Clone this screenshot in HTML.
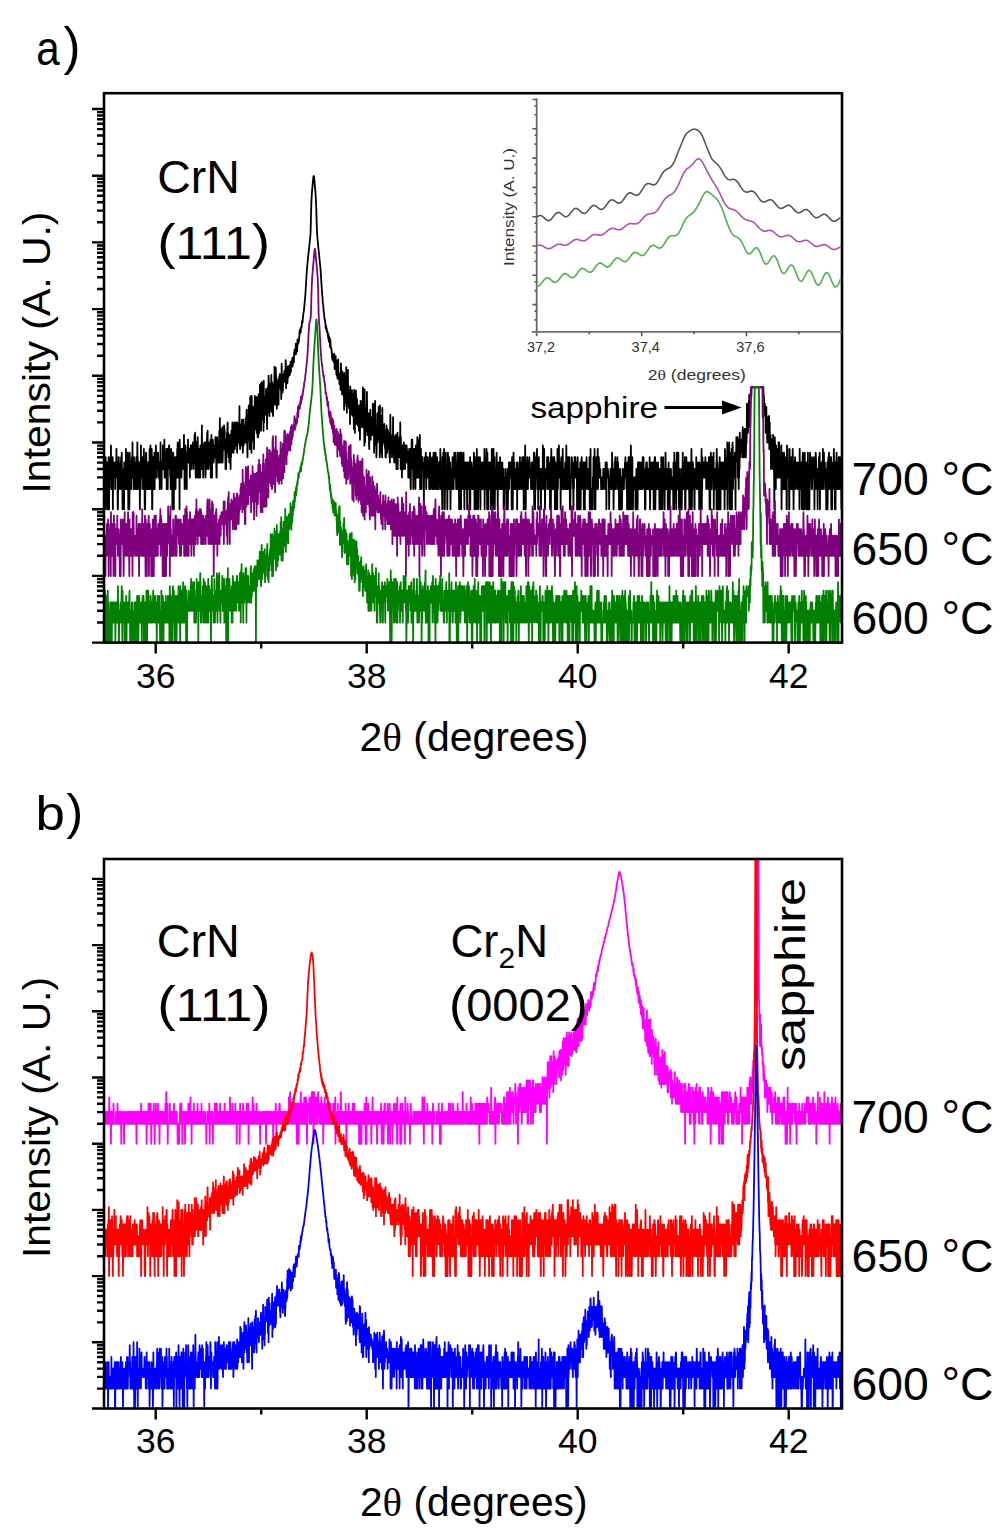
<!DOCTYPE html>
<html><head><meta charset="utf-8"><style>
html,body{margin:0;padding:0;background:#fff;}
body{width:1004px;height:1540px;overflow:hidden;}
svg{display:block;}
</style></head><body>
<svg width="1004" height="1540" viewBox="0 0 1004 1540">
<defs><clipPath id="ca"><rect x="104.0" y="93.2" width="738.0" height="549.4"/></clipPath>
<clipPath id="cb"><rect x="104.0" y="859.0" width="738.0" height="549.5"/></clipPath></defs>
<g clip-path="url(#ca)"><g transform="translate(102.950 0) scale(0.21100 0.25)" fill="none" stroke-linejoin="round">
<path vector-effect="non-scaling-stroke" stroke-width="1.80" stroke="#000000" d="M0 1829l1 208 1-187 1 60 1 46 1 0 1-106 1 106 1-80 1 34 1 46 2 81 1-208 1 81 1 0 1 0 1 46 1 0 1-106 1 106 1 81 1-187 1 106 1-106 1 26 1 161 1-208 1 81 1 127 1-127 1 0 1-34 1 0 1 0 1-47 1 81 1-34 1-94 1 174 1-80 1 80 1-80 1-26 1 26 1 0 1-47 1 208 1-127 1 0 1-60 1 60 1 0 1-34 1 34 1 0 1-60 1 26 1 80 1-106 1 60 1-34 1 34 1-34 1-80 1 80 1 0 1-26 1 60 1-60 1 187 1 0 1-161 1 0 1-47 1 0 1 81 1-34 1 0 1 0 1 80 1 0 1 0 1 0 1-106 1 26 1-47 1 81 1 0 1-99 1 65 1 34 1 46 1 81 1-81 1-46 1 0 1 0 1 0 1-34 1 161 1-187 1 60 1-34 1 34 1 0 1 46 1 0 1 0 1-160 1 80 1 80 1 0 1 0 1 0 1-106 1 60 1-99 1 0 1 18 1 208 1-127 1-60 1 0 1 26 1 161 1-81 1-145 1 99 1-60 1 0 1 60 1-60 2 106 1-80 1 0 1-47 1 47 1 34 1-140 1 140 1 0 1-81 1 81 1 0 1 46 1-127 1 127 1-46 1-60 1 26 1 0 1 0 1 0 1 80 1-106 1 106 1-127 1 21 1 106 1-106 1 60 1-140 1 106 1-47 1 127 1-46 1-60 1 60 1 0 1-60 1 26 1-26 1 60 1 127 1-81 1-106 1 106 1 0 1-174 1 128 1-60 1 26 1-47 1 21 1 60 1-81 1 21 1 60 1 46 1-106 1 60 1-60 1-54 1 80 1 80 1-46 1 127 1-187 1 187 1-127 1 46 1-106 1-39 1 0 1 65 1 80 1-46 1-60 1 26 1-26 1 106 1 0 1 0 1-80 1-26 1 26 1 0 1-26 1 106 1-160 1 54 1-54 1 114 1-128 1 128 1 46 1-46 1-81 1 81 1-114 1 54 1 187 1 0 1-187 1 26 1-47 1 0 1 127 1-127 1 47 1 0 1-26 1-39 1 145 1-80 1-26 1-21 1 81 1-81 1-47 1 68 1 60 1-81 1 0 1-18 1 65 1 0 1-26 1 26 1-65 1 18 1 81 1 0 1-34 1 0 1-26 1 0 1 106 1-80 1 34 1-34 1-106 1 140 1-60 1 26 1-26 1 106 1-106 1 0 1 26 1 0 1 0 1-94 1 29 1 65 1-65 1 0 1 0 1 0 1-52 1 151 1 0 1-34 1 34 1-99 1 99 1-99 1 65 1-65 1-15 1 160 1-160 1 33 1 21 1-54 1 160 1-145 1 65 1-65 1 39 1-21 1-47 1 0 1 47 1 47 1 0 1 0 1 34 1-34 1 80 1 0 1-160 1 33 1-18 1 99 1 46 1-127 1 208 1 0 1-187 1-39 1 0 1 39 1-21 1 208 1-208 1 47 1 34 1-60 1-21 1 0 1 0 1 127 1-46 1 0 1-60 1-21 1 81 1-60 1 0 1-54 1 114 1-140 1 12 1 14 1 114 1-60 1-68 1 68 1 26 1-106 1 267 1-278 1 117 1 0 1-47 1-33 1 114 1-81 1 81 1 0 1-60 1-54 1 15 1 0 1 39 1-54 1 15 1 39 1 26 1-26 1-54 1-56 1 89 1-18 1 145 1-174 1 47 1 81 1-128 1 14 1 33 1 81 1-99 1 145 1 0 1-145 1 39 1-39 1 18 1 21 1-91 1 91 1-21 1 21 1-21 1 21 1 0 1 0 1-54 1 114 1-99 1-15 1 0 1-14 1 29 1 65 1 0 1-94 1 14 1 54 1-54 1 15 1 0 1-41 1 59 1 21 1 26 1-47 1-33 1 54 1-39 1-71 1 71 1 0 1-80 1 98 1 47 1 34 1-60 1-80 1 26 1-26 1 59 1 81 1-60 1-68 1-33 1 47 1 33 1-33 1 80 1 34 1-60 1-54 1 54 1-21 1-33 1 54 1 60 1-128 1 29 1-29 1 29 1 65 1-94 1 0 1-80 1 174 1 0 1-47 1-47 1 47 1 81 1-81 1-33 1 54 1-68 1-12 1 80 1-68 1-12 1 41 1 65 1 34 1-34 1-47 1-33 1-26 1 106 1-117 1 23 1-51 1 65 1-73 1 88 1 18 1 47 1-80 1 15 1 18 1 0 1 0 1-59 1 80 1-80 1 80 1 26 1-117 1 151 1-99 1-29 1-42 1 71 1-29 1 128 1-151 1 37 1 0 1-37 1 23 1 47 1-47 1 68 1-39 1-15 1 15 1-15 1 15 1-29 1 47 1-80 1 21 1 0 1 41 1 39 1 60 1 0 1-140 1-21 1 33 1 68 1-68 1 68 1 0 1-21 1 0 1-47 1 0 1-33 1-26 1 127 1-177 1 86 1 11 1 12 1-66 1 134 1-39 1-15 1-26 1 26 1-47 1 47 1-87 1 141 1-39 1-29 1-42 1 30 1 0 1 26 1-94 1 14 1 0 1 15 1 39 1 26 1 15 1 65 1-94 1-23 1 117 1-94 1-12 1 12 1-51 1 80 1-109 1-12 1 106 1-65 1 9 1 89 1-33 1-47 1 10 1 91 1-91 1 23 1-42 1 42 1-33 1 127 1-136 1 89 1-80 1-26 1 88 1-80 1 51 1-80 1-12 1 69 1-19 1 42 1 29 1 0 1-80 1-35 1 44 1-9 1-41 1 106 1-47 1 0 1 33 1-42 1 19 1-69 1 26 1 0 1 33 1-33 1 95 1-121 1 6 1 53 1-9 1-17 1 26 1 21 1-54 1 7 1 0 1-98 1 157 1-42 1 56 1-65 1 39 1-61 1 31 1 42 1-86 1 13 1-13 1-17 1 91 1 0 1-11 1 52 1-41 1-91 1 91 1 12 1-80 1 47 1-40 1 7 1 0 1 24 1 30 1-21 1-76 1 0 1 97 1-68 1-38 1-25 1 77 1-52 1 118 1 47 1-98 1 18 1 0 1-18 1-67 1-42 1 137 1-36 1 17 1 9 1 47 1-56 1-152 1 76 1-17 1 69 1-132 1 175 1 52 1-227 1 80 1-29 1 49 1 65 1 10 1-63 1-32 1-36 1 142 1-61 1 87 1-164 1 47 1-32 1-63 1 31 1 101 1-112 1 39 1-52 1 52 1-45 1 133 1-22 1-121 1 121 1-13 1 53 1-94 1 29 1 65 1-94 1-78 1 125 1 29 1-99 1-31 1 68 1-129 1 92 1-31 1 3 1-69 1 188 1-50 1-22 1-16 1-107 1 151 1-61 1-46 1-16 1 40 1-32 1 61 1 98 1-200 1 132 1 35 1-47 1-4 1 0 1 20 1-73 1 57 1 0 1-39 1-48 1 95 1 8 1-58 1 50 1 65 1-125 1 21 1 39 1-103 1 61 1-23 1-83 1 18 1 94 1-51 1 100 1-57 1 5 1-76 1 89 1-16 1-76 1 39 1 71 1-143 1 147 1-72 1 23 1-7 1-60 1 65 1 29 1 39 1-49 1-34 1-30 1-13 1 80 1-41 1-110 1 72 1 52 1 5 1-39 1 61 1-147 1 34 1-1 1 40 1 47 1 44 1-20 1-72 1 50 1-65 1 40 1-21 1-29 1 100 1-81 1 3 1-32 1 12 1 8 1-31 1 2 1 33 1-6 1 31 1-35 1 17 1 57 1-54 1-87 1 84 1-12 1 12 1 31 1-33 1 25 1-49 1-15 1 6 1-8 1 10 1 6 1-28 1 31 1 13 1-18 1-1 1-19 1-49 1 18 1 94 1-79 1 21 1 6 1 25 1-15 1 22 1-8 1-59 1 14 1 29 1-39 1 6 1-2 1-4 1-7 1-1 1 39 1-42 1 26 1 8 1-45 1 7 1 31 1-39 1 21 1-25 1-1 1-2 1 9 1-18 1 35 1-21 1 3 1 4 1-9 1-9 1 15 1-40 1 1 1-10 1 10 1-7 1-7 1 20 1 2 1-43 1 42 1-30 1 17 1-22 1-2 1 26 1-21 1-26 1 0 1 18 1-6 1-14 1 14 1-6 1-1 1-17 1 0 1-23 1 3 1-9 1 14 1-4 1 2 1-20 1 1 1-2 1 1 1-5 1-15 1-5 1-3 1 9 1-16 1-3 1-9 1-11 1-1 1-7 1-6 1-11 1-7 1-10 1-11 1-9 1-7 1-13 1-15 1-13 1-16 1-10 1-17 1-9 1-13 1-10 1-10 1-8 1-9 1-8 1-9 1-7 1-6 1-10 1-7 1-9 1-8 1-8 1-7 1-8 1-10 1-15 1-27 1-37 1-34 1-24 1-16 1-14 1-11 1-11 1-9 1-9 1-10 1-9 1-7 1-5 1-1 1 2 1 6 1 8 1 10 1 9 1 10 1 10 1 11 1 12 1 14 1 16 1 23 1 28 1 29 1 25 1 18 1 12 1 10 1 8 1 9 1 9 1 9 1 8 1 8 1 7 1 8 1 9 1 9 1 9 1 8 1 9 1 9 1 10 1 13 1 15 1 13 1 13 1 13 1 8 1 18 1 9 1 5 1 21 1 1 1 7 1 8 1 18 1-1 1 10 1 10 1 7 1 5 1 0 1 11 1 2 1 7 1 14 1-8 1 0 1 14 1-6 1 14 1-5 1 9 1-5 1 11 1-4 1 15 1 7 1-17 1 21 1 9 1-20 1 17 1-4 1-8 1 34 1-6 1-20 1 20 1 12 1-1 1 1 1 2 1 16 1-6 1 29 1-5 1 11 1-22 1 3 1 22 1-14 1-4 1 23 1 0 1-33 1 14 1 47 1-23 1 10 1-35 1 44 1-47 1 53 1-35 1 54 1-50 1 54 1-58 1 50 1 19 1-4 1 8 1-5 1-73 1 57 1 13 1-3 1 3 1-7 1 35 1-1 1-41 1 20 1 1 1 42 1 3 1-106 1 49 1 11 1 7 1-26 1 82 1-25 1-66 1 38 1 1 1 14 1 36 1-74 1 87 1-45 1 96 1-147 1 133 1-73 1 23 1-60 1 66 1-34 1 51 1 14 1-143 1 62 1 21 1 99 1-55 1-10 1 12 1-110 1-8 1 101 1 31 1-48 1 29 1 39 1-72 1 4 1 29 1-29 1 132 1-150 1 79 1 22 1 12 1-61 1 41 1-69 1 34 1-43 1 71 1 7 1-64 1 89 1-36 1-42 1 29 1-17 1 118 1-156 1 113 1-58 1-29 1 145 1-92 1-53 1 98 1 6 1-128 1 77 1 20 1-66 1 103 1-98 1 27 1 59 1-37 1 55 1-55 1 12 1 14 1-51 1 101 1-59 1 20 1-41 1 41 1 75 1-86 1-30 1-39 1 105 1-40 1-57 1 78 1-83 1 21 1-19 1 70 1-51 1 81 1-159 1 65 1-40 1 115 1-68 1 6 1 56 1 98 1-224 1 77 1 135 1-30 1-93 1 62 1 14 1 0 1-88 1-3 1 15 1-79 1 57 1 115 1-89 1 89 1-31 1-25 1-15 1-14 1 35 1 80 1 26 1-80 1 0 1-37 1 0 1-40 1 84 1 36 1-80 1 5 1 18 1 14 1 15 1-62 1 0 1 15 1 56 1-125 1 116 1-29 1-29 1-26 1-29 1 193 1-95 1 66 1-127 1 29 1-80 1 136 1-24 1-61 1 94 1 10 1 70 1-33 1-87 1 40 1-26 1 47 1-21 1-98 1 98 1 0 1-9 1-112 1 131 1-19 1-108 1 58 1 139 1-207 1 174 1-117 1 103 1 14 1 15 1-29 1-118 1 85 1-80 1 160 1-197 1 150 1-42 1 9 1 0 1-26 1 26 1 21 1-68 1-6 1 44 1-9 1 39 1 26 1-73 1 106 1-106 1 106 1-89 1 56 1-94 1 80 1 0 1 29 1-95 1 80 1-37 1-36 1 47 1-21 1 33 1-51 1 39 1 26 1 33 1-47 1 68 1-101 1-90 1 72 1 51 1-42 1 9 1 62 1-62 1 47 1 33 1-18 1-52 1 11 1 12 1-113 1 113 1-23 1-19 1 42 1 68 1-68 1 29 1-62 1 21 1 59 1-18 1 0 1 39 1-110 1 110 1 26 1-80 1-14 1 47 1-89 1-9 1 145 1-94 1 47 1-33 1 0 1-26 1 0 1 12 1-33 1 47 1 33 1 0 1-139 1 92 1 94 1-127 1 80 1 0 1-33 1 54 1 60 1-81 1-18 1 18 1-47 1 14 1 54 1 26 1-26 1-80 1 12 1 47 1-33 1 15 1-15 1 80 1-94 1 14 1 54 1-54 1-14 1 14 1-14 1 14 1 0 1 54 1-39 1 39 1 0 1-39 1 99 1-60 1 60 1-34 1-80 1 54 1 60 1-60 1-54 1 54 1 0 1 106 1 0 1-106 1 0 1 26 1-117 1 70 1 21 1-91 1 70 1-18 1 0 1 65 1 80 1-46 1 0 1-114 1 114 1-114 1 80 1 34 1-81 1 47 1 80 1-80 1-94 1 94 1-26 1 60 1-60 1 60 1-114 1-47 1 62 1 0 1 99 1 0 1-81 1 21 1-91 1 37 1 54 1 60 1-114 1-56 1 216 1-145 1 65 1-47 1-33 1 160 1-106 1 106 1-80 1 0 1-47 1 47 1-47 1 47 1 0 1-26 1 26 1 0 1 161 1-161 1 0 1 0 1 0 1-47 1 47 1 34 1-34 1-65 1 39 1 106 1-80 1 34 1 0 1-81 1 81 1 0 1-34 1-47 1 47 1-26 1 60 1 0 1-60 1 106 1-46 1-34 2-65 1 39 1 106 1-127 1 21 1 26 1 0 1 34 1 0 1-34 1 34 1 46 1-127 1 21 1 0 1 106 1-127 1-18 1 145 1 0 1-127 1 127 1-127 1 47 1-65 1 99 1-60 1-39 1 99 1 46 1-80 1 34 1 46 1 0 1-127 1 47 1 0 1-26 1 106 1 0 1-46 1-60 1 106 1-106 1 0 1 60 1-60 1 60 1-34 1-80 1 54 1 106 1 0 1-46 1 0 1 46 1-80 1 80 1 81 1-208 1 127 1-46 1-34 1-65 1 39 1 60 1 0 1-114 1 241 1-187 1 187 1-127 1 0 1 0 1-60 1-39 1 65 1 34 1 46 1-80 1 80 1-46 1 127 1-127 1 46 1-145 1 99 1-34 1 34 1 46 1-127 1 81 1 46 1-80 1-26 1 0 1 0 1 187 1-81 1-46 1 0 1-34 2 80 1-80 1 0 1 0 1-47 1 21 1 0 1 106 1-106 1 106 1-80 1 34 1-99 1 39 1 26 1 0 1 34 1 0 1-99 1 18 1 81 1 46 1-80 1-26 1 0 1 26 1 80 1-80 1 34 1-99 1 99 1-34 1 80 1-80 1 80 1 81 1-161 1 80 1-145 1 65 1 34 1-99 1 226 1-127 1 127 1-208 1-18 1 99 1 0 1-60 1 26 1-47 1 127 1-80 1 0 1-65 1 0 1 65 1 34 1 46 1 81 1-161 1 34 1 46 1-106 1 0 1 26 1 0 1 80 1-106 1 60 1 46 1-80 1 161 1-187 1 106 1-80 1 80 1 0 1-46 1-60 1 106 1-46 1-34 1 34 1 127 1-127 1-81 1 208 1-187 1 60 1-34 1 34 1-60 1 0 2 26 1 80 1-46 1-34 1 80 1-80 1 0 1 34 1 0 1-99 1 65 1 34 1 127 1-187 1-21 1 81 1 0 1-34 1-26 1 106 1 81 1-81 1-46 1-114 1 114 1 46 1-106 1 106 1-106 1 187 1-81 1-80 1-47 1 21 2 60 1 0 1 46 1-127 1 81 1 127 1-127 1-60 1 106 1-106 2 106 1 0 1-46 1 0 1 0 1-34 1-26 1 106 2-46 1 0 1-60 1 60 1-114 1 241 1-127 1 46 1 0 1-80 1-47 1 47 1-47 1 47 1-80 1 54 1 106 1 81 1-226 1 145 1-80 1-26 1 187 1 0 1-187 1 106 1-46 1 46 1 0 1-80 1 34 1-34 1-26 1 26 1 0 1 161 1-81 1-46 1 0 1-114 1 33 1-18 1 65 1 80 1 81 1 0 1-81 1-160 1 114 1 46 1-80 1-47 1 0 1 208 1-81 1 0 1-80 1 80 1-80 1 34 1 46 1-46 1-99 1 145 1-46 1-34 1-26 1 187 1-127 1 0 1-60 1 106 1-46 1-34 1 34 1 0 1 0 1 46 1-127 1 81 1-60 1 0 1 106 1-46 1-34 1 80 1 0 1-80 1 0 1-26 1 60 1 0 2 0 1-34 1 161 1-127 1 127 1-127 1 0 1 0 1 0 1 46 1 0 1-80 1 80 1 0 1 0 1 81 1-81 1 0 1 81 1-127 1 0 1-34 1 161 1-81 1-80 1 80 1 0 1-106 1 106 1-46 1-34 1 34 1-60 1 60 1 0 1 0 1-60 1 26 1 34 1-34 1 161 1-127 1-81 1 47 1 0 1 161 1-81 1-127 1 81 1-99 1 65 1 34 1 46 1-106 1 60 1 46 1-80 1 80 1-80 1 34 1 46 1-46 1 46 1-46 1 0 1-60 1 187 1-127 1 46 1-106 1 60 1 46 1 0 1 0 1-80 1 80 1-46 1 46 1-46 1-81 1 47 1-26 1 26 2 0 1 80 2-46 1-60 1 60 1-81 1 81 1 46 1-80 1 0 1 0 1-47 1 208 1 0 1 0 1-161 1-26 1 60 1 46 1-174 1 94 1 161 1 0 1-161 1 0 1 34 1-60 1 106 1 0 1-127 1 81 1-34 1 80 1-46 1-60 1 26 1 34 1 0 1-60 1-21 1 81 1-60 1 26 1 34 1 0 1 0 1 0 1 46 1-46 1 46 1-46 1-60 1 106 1-106 1 60 1-34 1 80 1-46 1 46 1-46 1-99 1 99 1 127 1-226 2 39 1 187 1-81 1-80 1 34 1 0 1-81 1 81 1-34 1 0 1-80 1 54 1 106 1-46 1-60 1 26 1 161 1-81 1-46 1-81 1 81 1 46 1-46 1 46 1 0 1 0 1 0 2-80 1 161 1-127 1 0 1-34 1 80 2 0 1-80 1 34 1-128 1 94 1-47 1 47 1 34 1 46 1-160 1 160 1-46 1 0 1 127 1-81 1-80 1 80 1 0 1-46 1-34 1 34 1-34 1 34 1-81 1 47 1 34 1-81 1 127 1-127 1 127 1-80 1-26 1 60 1-34 1 0 1 80 1-46 1 127 1-161 1 80 1-127 1 208 1-187 1-54 1 160 1 0 1 0 1-80 1 34 1 0 1-34 1-47 1 127 1-46 1-60 1 26 1 34 1-81 1 21 1 26 1 161 1-127 1 127 1-187 1 106 2-80 1 34 1-34 1 34 1 127 1 0 1-241 1 160 1 0 1-46 1 0 1 0 1 0 1-128 1 94 1 0 1 34 1-34 1-26 1 0 1 0 1 187 1-127 1 0 1-81 1 47 1 80 1-80 1 34 1 46 1 0 1-160 1 80 1 80 1-46 1-34 1 0 1 34 1 0 1 46 1-46 1-34 1 0 1-26 1 106 1 0 1 0 1 0 1-174 1 128 1 46 1-46 1-34 1-47 1 47 1 80 1 0 1 0 1-127 1 21 1 60 1-60 2-21 1 47 1 161 1-81 1 81 1-81 1 0 1-46 1 0 1 0 1 0 1-81 1 21 1 0 1 0 1 60 1 0 1 46 1 0 1 81 1-161 1 80 1-106 1 60 1-81 1 81 1 0 1-81 1 0 1 81 1-60 1 26 1 34 1-60 1 0 1 26 1 161 1-127 1 46 1-127 1 208 1 0 1-81 1 0 1-46 1-34 1 161 1-81 1 0 1 0 1 81 1-187 1 60 1 127 1-161 1 34 1-60 2-21 1 127 1-46 1 46 1-80 1 0 1 0 1 34 1-60 1 26 1 161 1-187 1 106 1-46 1-34 1 161 1-187 2 106 1-46 1 46 1-46 1 0 1-81 1 47 1 34 1 0 2-34 1 80 1-80 1 80 1-80 1 80 1 0 1-46 1 46 1-127 1 208 1-161 1 80 1-46 1-114 1 241 1-81 1 81 1-81 1 0 1 81 1-81 1 0 1 0 1 81 1-127 1 46 1-46 1-81 1 81 1-34 1 34 1 46 1-160 1 241 1-161 1 80 1 81 1-187 1 106 1 0 2-127 1 127 2-80 1 80 1-106 1-54 1 160 1-46 1-60 1 60 1-81 1 47 1 0 1-26 1 60 1 0 1 0 1-34 1 34 1 0 1 0 1 46 1 0 1 0 1-46 1 0 2 46 1 0 1 0 1 0 1-80 1 34 1-34 1 0 1 34 1 0 1-34 1 34 1 46 1-46 1 0 1-60 1 0 1 106 1-80 1 161 1-161 1-26 1 26 1 0 1 0 1 34 1-34 2 34 2 0 1 46 1 81 1-81 1-46 1 46 1 0 2-80 2 0 1 80 1-80 1 80 1 0 1-46 1-99 1 99 1-60 1 26 1 0 1 34 1 0 1 127 1-81 1-46 1 0 1 46 1-80 1 80 1-106 1-21 1 127 1 0 1 0 1-106 1 60 1 0 1-60 1 0 1 26 1-47 1 47 1 80 1-106 1 26 1 34 1 46 1-46 1 127 2-127 2 0 1-34 1 161 1-127 1 0 1 46 1 0 1-46 1 127 1 0 1 0 1-81 1-46 1-34 1 0 1 80 1 0 1 0 1-46 1 46 1-46 1 0 2-34 1-26 1 60 1-81 1 81 1 0 1 0 1-34 1 80 1-80 1 34 1 127 1-187 1 60 1 127 1 0 1-187 1 106 1-127 1 208 1-81 1-46 1-81 1 127 1-46 1-34 1 161 1-127 1 0 1-128 1 68 1 0 1 60 1-60 1 187 1-187 1-21 1 208 1-127 1 127 1-127 1 0 1 46 2 0 1 0 1-46 1 46 2 0 1-46 1 127 1-81 1 0 1 81 1-161 1 34 1 0 1 46 1 0 1-46 1 127 1-161 1-26 1 26 1 0 1-26 1 106 1-80 1 34 1-60 1 106 1-80 1 34 1 46 1-46 1-34 1 80 1-106 1 26 1 0 1 80 1-106 1 26 1 80 1-127 1 47 1 34 1-34 1-47 1 81 1-34 1 34 1 46 1 0 1-46 1 127 1-127 1 127 1-161 1 0 1 0 1-26 1 60 1 46 1-106 1 60 1 46 1 0 2 0 1-80 1 0 1 0 1 34 1 0 1 46 1-80 1-47 1 127 1 81 1-81 1-106 1 60 1-34 1 0 1 34 1 0 1 46 1-106 1 106 1 0 1-80 1 80 1 0 2-106 1 187 1-161 1 0 1 34 1-60 1-21 1 81 1-81 1 208 1-81 1-80 1 34 1-60 1 106 1-46 1 0 2-34 1 80 1-46 1-34 1-26 1 106 1 0 1 0 1 0 1-80 1 161 1-161 1 0 1 34 1 0 1 46 1 0 1-80 1 161 1-208 2 21 1 106 1-80 1 0 1 161 1-81 1 0 1-127 1 47 1 0 1 80 1 0 1 0 1-80 1 161 1-127 1 46 1 0 1-145 1 39 1 60 1 46 1-80 1 0 1 0 1 80 1-80 1 34 1-34 1 161 2-81 1-80 1-26 1 60 1 0 1 46 1 81 1 0 1-81 1-46 1 0 1-34 1 34 1-34 1 80 1-46 1 0 1 46 1-46 1 0 1 46 1-46 1 46 1-46 1 127 1-187 1 26 1-26 1 187 1-226 1 145 1 0 1-106 1 60 1-34 1 34 1 46 2 81 1-187 1 0 1-39 1 99 1-99 1 145 1-46 1-34 1 80 1-145 1 99 1-34 1 161 1-161 1 0 1 161 1-127 1 0 1 127 1-81 1-46 1 0 1 127 1-161 1 34 1 127 2-127 1 46 1-80 1-65 1 145 1-106 1 60 2 46 1-46 1 0 1-34 1 80 1-127 1 208 1 0 1 0 1-161 1 0 1 80 1-127 1 47 1 80 1-46 1-34 1 0 1 34 1-34 1-26 1 60 1 46 1 0 1-46 1 46 1 81 1-127 1-60 1 106 1-80 1 80 1-46 1 127 1-187 1 60 1-114 1 54 1 187 1-81 1-46 1 0 1 0 1-60 1 26 1 34 1 46 1 0 1 0 1-46 1 127 1 0 1-161 1 80 2-46 1 0 1 0 1 0 1-81 2 81 1 46 1-80 1 80 1 0 1-46 1-34 1-26 2 106 1-80 1 80 1 81 1-187 1 26 1 80 1-80 1 161 1-127 1-34 1 34 1 0 1-34 1-80 1 241 1-81 1 0 1-127 1 81 1-34 1 34 1-60 1 60 1-34 1-26 1 60 1 0 1 0 1 0 1 0 1 0 1-81 1 81 1-34 1-26 1 106 1-46 1-34 1 0 1-26 1 26 1 34 1-34 1-26 1 106 1 0 1-46 1-34 1-47 1 127 1-46 1 127 1-208 2 208 1-161 1 0 1-65 1 65 1 0 1-26 1 106 1-46 1-81 1 47 1 0 1 34 1-81 1 47 1-26 1-39 1 226 1-127 1 0 1 0 1 0 1 46 1-80 1 80 1-46 1 46 1-80 1 80 1-106 1 187 1-241 1 80 1-26 1 106 1 81 2-161 1 34 1 0 1 127 1 0 1 0 1-187 1 187 1-208 1 208 1-81 1 0 1 81 1-161 1 80 1-106 1 26 1 80 1 0 1-106 1 26 1 80 1-46 1-34 1 0 1 80 1-46 1-60 1 0 1 26 1-26 1 187 1-81 1-160 1 54 1-21 1 81 1 0 1 46 1-80 1 80 1-80 1-47 1 81 1-140 1 267 1-187 1-21 1 21 1 60 1 0 1-34 1 34 1-140 1 80 1 187 1-226 1 39 1 60 1-34 1 161 1-187 1 26 1 161 1-161 1-80 1 241 1-161 1-80 1-26 1 26 1 160 1-80 1-26 1 0 1 60 1-34 1-47 1 47 1 34 1-99 1 18 1 81 1 127 1-226 1 39 1-39 1-62 1 47 1-26 1-11 1 70 1-18 1-62 1 161 1-151 1 37 1 33 1 127 1-106 1 60 1-114 1 80 1-145 1 39 1 26 1 15 1 18 1 0 1-70 1 52 1-41 1 12 1 0 1 0 1 14 1-47 1-40 1 120 1-59 1 0 1 12 1 47 1-33 1 33 1-106 1-7 1 33 1 62 1-95 1 43 1 11 1 59 1-47 1-23 1 11 1-39 1-116 1 64 1 5 1 6 1-55 1 96 1-62 1-34 1 12 1-43 1 80 1-105 1 49 1 45 1 36 1-105 1 98 1-67 1-23 1-62 1-1 1 35 1-29 1-6 1 0 1 0 1 0 1 0 1 0 1 0 1 0 1 0 1 0 1 0 1 0 1 0 1 0 1 0 1 0 1 0 1 0 1 0 1 0 1 0 1 0 1 0 1 0 1 0 1 0 1 0 1 0 1 0 1 0 1 0 1 0 1 0 1 0 1 0 1 0 1 0 1 0 1 0 1 0 1 0 1 0 1 0 1 0 1 0 1 0 1 0 1 0 1 0 1 0 1 0 1 0 1 120 1-120 1 10 1-10 1 47 1-17 1 17 1 43 1-24 1 20 1-20 1 49 1-36 1 19 1 84 1-22 1 14 1-95 1 62 1-11 1 5 1 86 1-86 1 86 1-68 1-33 1 40 1 14 1-21 1 47 1-85 1 132 1-87 1-19 1 106 1-26 1 0 1-30 1 30 1 106 1-65 1-29 1 0 1-23 1 37 1-14 1 0 1-12 1 106 1-136 1 89 1-18 1 0 1 39 1 60 1 127 1-208 1-80 1 21 1 26 1-14 1 14 1 160 1-174 1 94 1 34 1-60 1 26 1-65 1-15 1 15 1 99 1-60 1-39 1 39 1-80 1 140 1-81 1-59 1 80 1 0 1-21 1 81 1-34 1 0 1-26 1-21 1 47 1-94 1 255 1-127 1-99 1 39 1 60 1-34 1 0 1 80 1-145 1 18 1 47 1 0 1-65 1 145 1-80 1-26 1-21 1 127 1 0 1-46 1 0 1-34 1 80 1-127 1 208 1 0 1-255 1 128 1-114 1 114 1 0 1-60 1 26 1-26 1 0 1 0 1 187 1 0 1-241 1 80 1 0 1 0 1 80 1-46 1-81 1 21 1 26 1-26 1 106 1-46 1-81 1 127 1-106 1-54 1 54 1 106 1-106 1 187 1-81 1 0 1-80 1 0 1 34 1-60 1-21 1 81 1-60 1 106 1-106 1 60 1-34 1 34 1-34 2 0 1-26 1 106 1-80 1 80 1-46 1-34 1 80 1-80 1-26 1 26 1 161 1-241 1 160 1 0 1-46 1 0 1 46 1-106 1 106 1-46 1 0 1 127 1-127 1-60 1 0 2-39 1 145 1 81 1-81 1 81 1-81 1-46 1 127 1-187 1-39 1 99 1 0 1 46 1-80 2 80 1 81 1-161 1-26 1 26 1 80 1-46 1 127 1 0 1-226 1 99 1 0 1 0 1 46 1 81 1-161 1 161 1-81 1-80 1-65 2 99 1-34 1 0 1-26 1 26 1 34 1 46 1-127 1 127 1-46 1-60 2 60 1-60 1 26 1 0 1-47 1 21 1 26 1 161 1-127 1-34 1 34 1 46 1 0 1-145 2 39 1 60 1 0 1-34 1 80 1-80 1 0 1 161 1-127 1 0 1 46 1 0 1 0 1-127 1 21 1 26 1-47 1-18 1 226 1-127 1 0 1-34 1 34 1 46 1-106 1 26 1 0 1 0 1 80 1-46 1-34 1 34 1-114 1 160 2-80 1 0 1-65 1 99 1-34 1-26 1 0 1 26 1 80 1-80 1 34 1-34 1 34 1 127 1-127 1 46 1 0 1 0 1-106 1 187 1-81 1-46 1-34 1-47 1 127 1-106 1-39 1 145 1-46 1-34 1 34 1-34 1-47 1 47 1 34 1 46 1-127 1 208 1-81 1-106 1 0 1 187 1-161 1 34 1 0 1 46 1-46 1 0 2-114 1 80 1 34 1 0 1-60 1 187 1-187 1 60 1 127 1-187 1 106 1 0 1-106 1-39 1 145 1-46 1 0 1 0 1 46 1-106 1 60 1-60 1 106 1-127 1 127 1 0 1-106 1-21 1 81 1-34 1-47 1 21 1 106 1-46 1 0 1 0 1 127"/>
<path vector-effect="non-scaling-stroke" stroke-width="1.80" stroke="#800080" d="M0 2223l1-127 1-18 1 65 1-26 1-39 1 39 1 59 1-33 1 33 1-33 1 33 1 128 1-161 1 33 1-33 1 33 1 47 1-47 1-80 1 80 1-33 1 0 1 33 1-98 1 145 1-106 1 187 1-208 1 47 1 33 1-33 1-26 1 59 1 47 1 0 1-106 1 187 1-255 1 94 1-47 1 127 1 0 1-47 1 47 2-127 1 80 2 0 1 128 1-128 1-113 1 160 1-47 1 0 1-80 1 47 1-26 1 187 1-187 1 26 1 33 1-59 1 59 1-59 1 26 1 0 1-80 1 113 1-59 1 106 1 0 1 0 1-47 1-59 1 26 1 0 1 80 1 0 1 81 1-81 1-80 1 33 1 128 1-226 1 98 1-59 1 59 1-33 1-26 1 26 1 0 1 33 1-98 1 65 1 33 1 47 1 81 1-81 1 0 1-47 1-59 1-68 1 127 1-80 2 127 1 0 1-47 1-33 1-47 1 80 1-80 1 80 1 47 1-106 1 26 1 0 1-94 1 174 1-47 1 0 2 47 1 81 1-226 1 98 1 0 1 0 1 47 1-106 1 59 1 47 1-106 1 106 1 0 1-80 1 0 1 0 1 161 1-255 1 29 1 145 1 0 1-174 1 94 1 0 1 33 1 0 1-33 1 33 1 0 1 47 1 0 2-80 1 33 1 0 1-113 1 113 1 47 1-80 1 33 1-33 1 80 1-80 1-26 1 106 1-127 1 0 1 208 1-128 1 0 1 47 1-106 1 26 1-26 1-21 1 80 1-33 1-47 1 127 1-47 1 47 1 0 1-186 1 186 2-127 1 0 1 127 1-127 2 127 1 0 1-47 1-33 1 33 1-113 2 160 1 81 1-226 1 39 1 59 1-59 1-21 1 208 1-128 1 0 1 0 1 47 1 0 1 0 1-127 2-33 1 241 1-161 1-47 1 47 1-47 1 47 1 0 1 0 1 80 1-80 1 33 1 128 1-161 1-26 1 0 1 59 1-33 1 161 1-187 1-39 1 18 1 47 1 80 1 81 1-128 1 0 1-113 1 33 1 127 1-145 2 39 1 59 1-113 1 160 1 0 1-47 1-33 1 0 2-26 1 26 1 80 1-106 1-21 1 21 1-21 1 80 1-80 1 0 1 21 1-21 1-18 1 65 1-106 1 186 1-80 1-80 1 54 1-39 1 39 1 59 1 0 1-80 1 80 1 128 1 0 1-81 1 81 1-128 1-80 1 21 1 187 1 0 1-161 1-47 1 0 1 80 1 47 1 81 1-208 1 208 1-161 1 80 1-106 1-21 1 127 1-80 1 33 1-59 1 26 1-117 1 70 1 47 1-26 1 26 1-47 1 80 1-113 1 241 1-161 1-47 1-70 1 197 1-106 1 106 1-80 1 33 1 47 1-47 1-33 1 80 1-47 1 0 1 47 1-145 1 145 1-47 1 47 1-80 1 33 1 0 1 0 1-33 1-26 1-39 1-15 1 160 1-160 1 80 1 80 1 0 1-106 1 26 1-65 1 39 1-21 1 21 1 0 1 26 1 0 1-65 1 98 1-80 1 21 1 26 1-26 1 106 1-80 1-47 1-18 1 18 1 127 1-47 1-33 1-47 1 21 1 26 1 0 1 33 2-33 1 33 1-33 1-47 1-33 1 80 1 80 1-106 1 26 1-26 1 59 1-139 1 186 1 0 1-106 1-54 1 54 1-91 1 23 1 0 1 68 1 106 1 0 1-47 1-98 1 98 1-33 1 80 1-127 1 47 1-26 1-21 1 80 1-98 1-29 1 94 1-47 1 80 1-80 1 21 1 106 1-145 1 39 1 0 1 26 1-26 1 59 1-98 1 0 1 98 1-98 1 98 1 47 1-80 1-47 1 80 1-113 1 0 1 113 1-59 1 59 1-80 1-59 1 106 1-145 1 145 1-106 1 41 1 18 1 0 1 80 1-98 1 18 1-18 1-29 1 94 1-47 1-18 1 39 1-80 1 59 1 47 1 0 1-65 1 0 1-41 1 139 1-127 1 68 1 26 1-47 1 21 1-54 1 113 1 0 1-59 1 26 1-80 1 54 1 59 1-59 1 26 1-65 1 65 1-26 1-39 1 39 1-39 1 98 1-113 1 33 1-18 1 39 1 26 1 0 1-117 1-20 1-8 1 119 1-54 1 33 1 80 1-80 1-80 1 127 1-26 1-119 1 98 1-59 1 139 1-80 1 0 1 80 1-80 1-18 1 18 1 21 1-101 1-10 1 170 1-33 1-47 1-80 1 127 1-47 1-33 1 241 1-161 1 0 1-80 1 113 1-80 1 21 1-21 1 47 1-94 1 47 1 80 1-139 1 26 1 33 1 0 1 0 1 127 1-80 1-47 1 0 1 80 1-59 1 0 1-21 1-18 1 39 1 26 1 33 1-98 1 0 1-15 1 54 1 26 1-80 1 0 1 15 1-29 1 0 1 0 1 29 1 18 1 0 1-33 1 15 1-15 1 54 1-111 1 170 1-98 1-15 1-14 1-43 1 90 1-18 1-15 1 0 1-14 1 29 1-29 1 14 1 80 1-47 1-18 1-41 1 139 1-80 1-80 1-26 1 47 1 26 1-94 1 80 1 29 1-52 1 37 1 113 1-150 1-10 1 10 1 37 1-47 1 21 1 41 1-80 1 28 1-10 1 33 1-43 1 43 1-43 1 111 1-54 1 0 1 33 1-121 1 88 1-65 1 98 1-106 1 127 1-68 1-12 1 0 1-39 1 65 1 54 1-54 1-47 1-41 1 31 1 31 1-62 1 103 1-72 1 90 1-59 1 59 1 0 1-18 1-88 1 59 1-33 1-34 1 8 1 47 1 0 1-81 1-5 1 11 1-27 1 34 1 47 1-10 1-8 1 8 1 43 1-170 1 77 1 0 1 81 1-106 1 20 1-11 1 66 1 10 1-26 1-8 1 114 1-151 1 151 1-183 1-45 1 158 1-64 1 64 1-116 1-25 1 131 1-81 1-62 1 44 1 65 1-117 1 151 1-18 1-29 1 13 1-7 1 0 1-53 1 18 1 22 1 13 1-35 1-38 1 80 1 67 1-33 1-47 1-47 1 13 1-13 1 84 1-141 1 117 1-26 1-43 1 9 1 0 1-27 1 183 1-143 1-40 1 45 1 58 1-23 1-6 1 37 1-108 1-3 1 67 1 28 1 73 1-171 1 98 1-98 1 21 1 22 1 81 1-41 1-115 1 109 1-13 1 6 1-123 1 106 1-19 1-58 1 30 1-38 1 146 1 20 1 23 1-12 1-115 1 4 1 0 1 9 1-47 1 138 1 23 1-194 1 114 1-59 1-92 1 80 1-45 1 92 1 81 1-134 1-10 1 108 1-15 1-35 1 86 1-161 1-28 1 23 1 22 1 144 1-161 1 8 1-82 1 48 1 29 1 77 1-74 1 27 1 92 1-127 1 43 1-27 1-80 1 47 1 85 1-111 1 86 1-101 1 77 1 44 1-4 1 23 1-53 1-7 1-71 1 142 1-5 1-107 1-89 1 54 1-64 1 88 1 102 1-143 1 37 1 93 1 4 1 9 1-128 1 124 1 38 1-114 1 0 1-110 1 147 1-59 1 65 1 8 1-67 1-36 1 50 1 73 1-13 1-74 1-6 1 55 1-3 1 3 1-9 1 56 1-113 1 33 1 67 1-40 1-45 1-6 1-62 1 129 1-38 1-57 1 82 1 50 1-139 1 99 1-74 1 25 1-71 1 93 1 45 1-82 1 57 1-68 1 37 1-132 1 163 1-96 1-69 1 58 1 24 1 28 1-96 1 89 1-48 1 57 1 22 1-81 1 29 1-45 1 58 1-65 1-17 1 53 1-12 1-11 1 35 1-59 1 59 1-38 1 10 1-9 1 6 1-43 1 75 1-62 1-23 1-9 1 50 1 20 1-32 1-45 1 25 1 29 1-39 1 21 1 8 1-40 1 11 1 2 1-20 1 24 1-12 1-38 1-7 1 39 1 14 1-29 1 22 1-17 1-17 1 24 1-14 1 5 1-14 1 0 1 13 1-40 1 8 1 8 1-40 1 22 1 19 1-28 1-13 1 6 1-14 1 8 1-5 1 13 1-17 1-13 1 4 1 8 1-30 1 27 1-12 1-9 1 7 1-7 1-9 1-4 1-6 1 8 1-17 1 2 1-12 1-4 1 1 1-12 1-12 1-2 1 1 1-7 1-3 1-16 1-3 1-5 1-10 1-13 1-1 1-11 1-7 1-7 1-11 1-8 1-18 1-10 1-18 1-17 1-15 1-18 1-13 1-12 1-7 1-6 1-4 1-3 1-3 1-4 1-5 1-7 1-16 1-32 1-35 1-28 1-17 1-15 1-14 1-12 1-11 1-10 1-10 1-9 1-9 1-9 1-10 1-10 1-10 1-8 1-4 1 0 1 4 1 8 1 10 1 10 1 10 1 9 1 8 1 9 1 8 1 10 1 11 1 11 1 14 1 17 1 21 1 46 1 47 1 23 1 11 1 12 1 10 1 15 1 18 1 15 1 15 1 19 1 12 1 18 1 5 1 15 1 8 1 7 1 8 1 5 1 5 1 11 1 11 1-4 1 13 1 3 1 7 1-9 1 13 1 10 1 5 1-1 1 10 1 6 1 10 1 19 1-5 1 8 1-4 1 8 1 15 1 3 1-10 1 19 1 14 1-1 1-11 1-3 1 22 1 1 1 17 1 10 1 4 1 6 1 5 1-9 1-1 1 29 1-44 1 10 1 0 1 41 1-14 1-10 1 19 1 21 1-34 1 26 1-32 1 43 1 14 1 2 1-50 1 86 1-42 1-11 1 37 1-49 1 37 1 38 1-7 1-22 1-24 1 53 1-42 1-2 1-11 1-8 1 17 1 51 1-49 1 92 1-69 1-30 1 69 1-43 1 25 1-22 1-15 1-2 1 55 1 5 1-10 1 10 1 23 1-105 1 53 1 55 1-35 1-55 1 4 1 54 1 59 1-73 1 83 1-8 1-52 1-14 1 32 1 14 1-34 1 84 1-37 1-84 1 50 1 96 1-60 1 48 1-50 1-4 1 51 1-129 1 59 1 110 1-18 1-106 1 81 1-32 1 22 1 24 1 11 1-4 1-11 1-61 1 24 1 33 1-113 1 18 1 76 1 6 1-17 1 11 1 56 1-114 1-41 1 108 1-57 1 48 1 34 1-21 1 25 1 23 1 58 1-122 1-5 1 55 1 43 1-123 1 160 1-186 1 43 1-22 1 7 1 44 1 39 1-21 1 16 1 0 1 56 1-125 1 8 1 133 1-81 1-32 1 55 1-101 1-2 1-14 1 69 1 90 1-47 1 71 1-130 1-30 1 67 1 9 1-49 1-13 1 138 1-58 1 0 1 35 1-129 1 170 1-18 1-96 1 147 1-33 1-18 1-81 1-82 1 91 1 9 1 128 1-94 1-63 1 100 1-37 1-59 1 127 1 41 1-109 1 47 1-60 1 19 1 41 1 33 1-104 1 53 1-119 1 103 1-84 1 100 1-8 1 26 1-85 1 51 1-72 1 80 1-88 1-17 1 60 1 81 1-28 1 65 1 15 1-168 1 65 1 74 1-59 1-39 1 55 1 0 1 57 1-118 1 81 1-120 1 131 1 12 1-59 1-64 1 80 1 57 1-57 1 57 1-112 1 112 1-14 1-104 1 53 1 39 1 80 1-155 1 0 1 0 1 75 1-62 1 41 1 0 1-81 1 40 1 62 1 12 1-33 1-34 1 24 1 20 1 23 1 0 1 0 1 0 1-51 1 18 1 33 1-59 1-21 1 47 1 33 1 29 1-15 1 33 1-33 1 15 1-41 1 0 1-21 1 101 1-91 1-44 1 44 1 37 1-14 1 0 1-43 1 57 1-14 1-12 1 41 1 39 1-135 1 55 1 41 1-52 1-10 1 33 1 29 1-41 1 12 1 29 1 18 1-90 1 31 1-11 1-36 1 36 1 70 1-70 1 70 1-70 1 0 1 37 1-57 1 20 1 52 1-15 1 54 1-54 1-26 1-31 1-8 1 39 1 26 1 113 1-139 1-11 1 91 1-21 1 0 1-90 1-8 1 98 1 47 1-26 1-39 1-52 1 91 1-54 1 80 1-127 1 21 1 41 1-15 1 0 1 0 1 160 1-186 1 59 1-106 1 106 1-47 1-33 1 47 1 15 1 65 1-47 1 0 1-33 1 54 1-54 1-14 1 127 1-113 1 33 1-18 1 18 1-47 1 29 1-88 1 8 1 145 1-26 1-101 1 21 1 26 1-47 1 62 1 65 1-80 1 15 1 39 1 26 1-80 1 54 1-68 1 29 1-29 1 255 1-335 1 109 1 0 1 65 1-47 1 80 1 0 1-33 1-80 1 15 1-15 1 80 1 80 1-106 1-68 1 29 1 39 1 0 1-101 1 101 1-39 1 98 1-59 1 0 1 26 1-26 1-21 1 0 1 0 1-47 1 94 1-94 1 127 1-33 1-26 1-21 1-33 1-37 1 197 1-174 1-12 1 106 1-65 1 0 1 98 1-113 1 113 1 0 1-80 1-18 1 39 1-54 1 15 1 0 1 98 1-80 1-33 1 0 1 80 1-26 1-54 1-73 1 127 1 187 1-208 1 80 1-98 1-62 1 160 1-98 1 0 1-29 1 47 1-70 1 117 1 33 1 47 1-80 1 0 1 0 1-80 1 0 1 80 1-137 1 137 1-65 1 98 1 47 1-106 1 0 1 0 1-91 1 70 1 21 1-68 1 29 1-15 1-14 1 127 1-113 1 113 1-98 1 0 1 65 1-26 1-54 1 15 1 39 1-39 1 98 1-98 1 65 1 0 1 0 1-80 1 15 1 65 1 33 1-33 1 0 1-26 1 26 1-80 1 113 1 0 1-98 1 98 1 0 1-98 1 65 1-94 1-12 1 26 1 80 1 33 1-33 1-65 1 0 1-52 1-28 1 145 1 0 1 0 1-26 1-21 1 0 1-18 1 98 1-33 1-26 1 0 1 59 1-33 1 80 1-80 1-65 1-52 1 117 1 0 1-26 1 26 1 0 1 80 1 0 1-145 1 226 1-241 1 33 1-33 1 80 1 80 1-127 1-47 1 0 1 29 1 18 2 127 1 0 1-174 1 174 1-80 1-26 1 59 1-98 1 18 1 21 1 26 1-26 1 26 1 0 1-26 1-39 1 65 1 33 1 47 1-47 1-59 1 26 1 80 1-145 1 39 1 26 1-80 1 113 1-59 1 106 1-80 1-26 1 26 1 0 1-65 1 18 1 80 1-33 1 0 1-47 1-18 1 39 1 59 1 47 1-47 1 0 1 47 1-47 1-80 1 21 1 26 1 33 1-33 1 80 1-80 1-65 1 65 1 80 1-47 1 0 1 128 1-161 1 80 1-127 1 127 1-127 1 0 1 21 1-39 1 18 1 127 1-47 1-33 1-26 1 59 1-98 1 145 1-145 1 39 1 26 1-47 1-18 1-15 1 33 1 47 1 33 1-59 1 26 1-26 1 106 1-80 1 33 1-33 1-26 1 187 1-81 1-47 1-59 1 59 1-33 1 0 1-65 1 145 1-80 1 0 1 0 1 33 1-80 1-18 1 98 1-33 1-26 1 26 1 0 1-26 1 26 1 33 1-113 1 54 1 26 1 0 1-127 1 80 1 47 1 0 1-47 1 47 1-80 1 160 1-106 1 59 1 47 1-127 1 80 1 47 1-145 1 18 1 208 1-81 1-47 1-80 1-33 1 33 1 21 1 106 1-106 1-54 1 113 1 47 1-106 1 59 1 0 1-33 1-65 1 18 1 208 1-208 1 21 1 187 1-208 1 208 1-81 1-47 1-33 1-80 1 160 1-160 1 33 1 0 1-18 1 98 1 0 1 0 1 0 1-33 1 33 1-80 1-18 1 65 1 0 1 80 1-47 1-33 1 0 1-26 1 0 1 106 1 81 1-226 1 98 1 0 1 47 1-127 1 80 1-59 1 26 1 80 1 81 1-161 1 80 1-80 1-47 2 127 1-80 1 33 1-80 1 80 1-33 1-65 1 65 1 33 1-33 1-65 1 0 1 98 1-127 1 255 1-187 1 59 1-59 1 106 1-106 1 187 1-161 1-47 1-33 1 54 1 187 1-278 1 91 1-80 1 26 1 241 1-128 1 47 1 0 1-174 1 94 1-26 1 59 1 0 1-59 1-39 1 65 1-26 1-68 1 127 1 47 1-106 1 26 1 33 1 0 1-98 1 65 1 80 1 0 1-80 1-117 1 37 1 160 1-47 1 47 1 81 1-81 1-145 1 39 1 59 1-59 1 187 1-128 1 128 1-161 1 0 1 33 1 128 1-187 1 59 1-80 1 21 1 26 2-26 1 26 1 161 1-128 1-98 1 18 1-47 1-23 1 117 1 33 1-59 1 106 1-106 1-21 1 80 1 47 1-80 1 33 1 0 1-98 1 65 1 80 1-47 1 0 1-98 1 39 1 59 1 0 1 0 1-33 1 33 1 128 1-161 1 0 1 33 1 128 1-208 2 208 1-81 1 81 1-81 1-127 1 208 1-128 1 0 1 128 1-161 1-26 1-21 1 80 1 128 1-226 1 145 1-80 1 33 1-33 1-26 1 59 1-59 1 26 1 0 1-65 1 145 1 81 1-128 1-59 1-39 1 145 1-106 1 59 1-33 1 0 1 0 1 80 1-127 1 127 1-127 1 0 1 127 1-47 1-59 1 0 1 59 1-113 1 113 1 47 1-174 1 68 1 59 1-98 1 0 1 65 1-65 1 98 1 0 1-33 1 0 1-47 1 80 1-59 1-39 1 98 1 47 1-47 1-33 1 0 1-94 1 127 1 128 1-81 1-145 1 0 1 98 1-98 1 65 1-47 1 21 1 26 1-47 1 208 1-128 1 0 1-98 1 98 1 47 1 0 1 0 1-106 1 26 1 33 1-80 1 47 1-26 1 0 1 26 1-26 1 59 1 47 1-47 1-150 1 0 1 197 1-80 1-94 1 68 1 0 1 59 1-33 1 0 1 33 1 0 1-33 1 0 1 33 1 0 1 0 1 0 1 47 1-145 1 98 1 0 1-127 1 47 1 47 1-47 1 47 1-26 1-21 1 47 1-26 1 26 1 33 1 47 1-80 1-117 1 197 1-47 1 47 1-127 1 0 1 127 1 0 1-127 1 47 1-65 1 18 1-18 1 0 1 39 1 59 1-80 1 208 1-208 1-59 1 0 1 80 1 106 1-127 1 80 1-80 1 80 1 47 1 81 1-187 1 187 1-241 1 113 1 0 1-59 1 59 1 0 1 0 1 47 1-47 1-33 1 33 1-80 1 80 1-33 1 0 1 33 1-98 1 0 2 0 1 65 2-106 1 106 1-65 1 98 1 47 1-47 1 0 1-33 1-65 1 65 1-26 1 0 1 59 1-80 1 127 1 0 1 0 1 0 1 81 1-81 1-47 1-33 1-26 1 106 1-106 1 59 1-33 1 33 1-80 1-33 1 113 1-98 1 65 1 80 1-160 1 160 1 0 1-160 1 33 1 47 1-47 1 47 1 161 1 0 1-81 1-106 1 59 1-33 1 33 1-139 1 139 1 0 1-80 1 80 1-80 1-70 1 150 1 0 1-33 1 0 1 80 1-145 1 145 1 0 1-47 1 47 1-174 1 14 1 54 1-21 1 47 1-65 1 98 1-80 1 21 1 26 1-26 1 26 1 33 1-59 1 0 1 26 1 80 1 0 1-80 1 33 1-33 1 33 1-80 1 80 1 0 1 0 1 47 1-106 1 106 1-80 1-26 1-91 1 91 1 187 1-128 1-150 1 70 1 0 1 47 1 0 1 0 1 0 1-26 1 26 1-47 1-18 2 65 1-94 1 47 1 127 1 0 1 0 1-127 1 80 1-33 1-26 1 59 1 47 1-47 1-80 1 21 1-54 1 113 1-98 1 98 1-33 1 80 1 0 1 0 1-106 1-54 1 160 1-47 1-98 1 65 1 0 1-26 1 59 1 128 1-187 1 26 1 33 1-33 1-26 1-21 1 0 1-18 1 65 1 33 1 0 1-33 1 80 1-47 1-98 1 98 1 128 1-81 1-80 1 161 1-208 1 21 1 59 1-33 1-47 1 127 1-80 1 161 1-81 1-80 1-26 1-21 1-47 1 127 1 47 1-80 1-26 1 59 1 47 1-174 1 127 1-33 1 0 1 161 2-128 1-80 1-18 1 39 1 59 1-80 1 21 1 26 1 33 1-33 1 161 1-187 1 26 1 33 1 0 1-33 1-26 1 187 1-208 1 80 1 47 1-127 1 47 1 33 2-80 1 47 1 0 1-26 1 26 1 80 1 81 1-187 1 106 1-80 1-47 1-18 1 39 1 0 1 0 1 0 1 26 1 33 1-80 1 80 1 0 1-80 1 127 1 0 1 0 1-80 2-65 1 65 1 33 1 0 1 128 1-128 1-98 1 39 2-21 1 80 1-98 1 145 1-47 1 47 1 0 1 0 1-47 1-33 1 80 1-80 2 33 1 47 1 0 1 81 1-128 1-33 1-47 1 80 1-33 1-26 1 0 1 26 1 33 1-59 1-21 1 80 1-80 1-47 1 94 1 0 1-47 1 47 1 161 1-187 1 0 1 26 1 33 1-59 1 26 1 0 1 0 1 80 1-106 1 59 1-59 1 106 1-106 1 106 2-47 1-98 1 65 2 0 1 33 1-33 1 80 1-47 1 0 1-80 1 21 1 59 1-59 1 59 1-33 1-47 1 80 1-33 1 33 1 47 1-160 1 160 1-47 1-80 1 47 1-65 1 65 1-47 1 127 1-80 1 33 1 0 1 47 1-47 1 0 1-59 1 26 1-94 1 94 1 80 1 0 1-127 1 47 1-47 1 80 1-113 1 80 1 33 1-59 1 59 1-59 1-54 1 80 1-26 1 0 1 59 1-59 1 59 1-113 1 113 1 47 1-47 1 0 1-80 1 127 1-47 1-33 1 33 1-59 1 106 1-106 1 0 1 59 1 128 1-81 1-106 1 26 1 0 1 80 1-47 1 0 1-59 1 26 1 0 1-94 1 127 1-59 1 106 1-47 1 128 1-81 1-47 1 0 1-33 1-26 1 106 1-80 1 33 1-33 1 0 1 33 1-98 1 145 1 0 1-47 1-113 1 80 1 33 1-33 1 33 1 128 1 0 1-81 1-80 1 80 1-80 1-65 1 0 1 39 1-21 2 80 1-59 1 187 1-161 1 0 1 33 1 47 1 81 1-208 1 80 1 47 1-47 1-59 1 0 1 26 1 33 1 0 1-80 1 47 1 0 1 33 1 47 1-80 1 0 1 80 1-47 1 0 1 47 1 81 1-187 1 26 1 80 1-47 1-59 1 187 1-161 1 0 1-47 1 47 1 33 1-59 1 187 1-128 1-59 1 59 1 47 1 0 1 0 1-80 1 33 1 0 1-33 1 33 1-33 1 0 1 0 1 33 1-59 1 187 1-81 1 81 1-128 1 0 1 128 1-128 1 128 1-208 1 47 1 0 1 33 1 128 1-128 1 0 1-59 1 106 1 0 1-106 1 106 1-80 1 161 1-187 1 0 1 59 1-59 1 59 1 47 1-80 1 80 1 0 1-47 1-59 1 106 1-80 1 0 1 33 1-33 1 0 1 80 1-106 1 106 1-106 1 0 1 26 1 33 1-33 1 33 1-33 1-94 1 94 1 80 1-127 1 47 1-65 1 98 1-59 1 59 1 128 1-161 1-47 1 47 1 80 1-47 1 0 1-33 1 80 1-106 1 0 1 0 1 26 1 161 1-81 1 0 1-47 1 128 1-161 1 0 1 33 1-33 1-26 1 59 1-150 1 197 1 0 1-47 1 0 1 0 1 47 1-106 1 0 2 59 1 0 1-33 1 80 1-106 1-21 1 127 1-47 1-59 1 106 1-80 1 0 1-26 1 0 1 0 1 59 1-33 1-26 1 106 1-127 1 0 1 127 1-127 1 0 1 47 1 80 1-47 1-33 1-80 1 33 1 80 1-80 1 127 1-47 1-139 1 139 1-98 1 39 1 106 1 81 1-226 1 39 1 106 1 81 1-226 1 226 1 0 1 0 1-81 1-47 1 128 1-128 1-33 1 0 1 80 1-145 1 0 1 145 1-145 1 39 1 0 1 106 1-47 1 0 1 0 1-59 1 59 1-127 1 68 1 0 1-21 1 127 1-80 1-47 1 208 1-267 1 106 1-47 1 208 1-161 1 0 1 80 1-160 1 54 1-21 1 127 1-127 1 80 1-33 1-26 1 59 1 128 1-187 1 187 1-128 1-127 1 94 1-26 1 106 1-47 1 128 1-161 1 0 1 161 1-187 1 59 1-33 1 161 1-208 1 80 1-33 1-26 1 59 1 0 1-33 1 0 1 0 1 161 1-81 1-47 1 128 1-81 1 0 1-106 1 26 1-47 1 47 1 0 1-26 1 106 1-47 1-59 1-21 1-59 1 106 1-26 1 59 2-33 1 33 1 128 1-208 1 80 1-33 1 33 1-59 1 59 1-59 1-21 1 21 1 26 1 33 1-80 1 21 1-21 1 47 1 33 1-33 1 33 1-33 1-47 1 80 1-33 1 33 1-59 1-54 1 160 1 0 1-145 1 98 1 47 1-106 1-21 1 127 1-80 1 80 1-47 1 128 1-81 1-47 1-33 1-26 1 59 2-33 1-106 1 139 1-113 1 33 1 0 1 80 1 47 1-145 1 65 1-47 1 80 1 0 1-59 1 26 1 161 1-187 1-39 1 65 1 0 1 0 1-26 1 26 1 33 1 0 1 0 1 47 1-174 1 174 1-80 1 33 1 0 1 128 1-161 1 33 1-33 1 80 1 0 1-47 1-33 1 0 1 0 1 80 1-80 1-47 1 80 1 0 1-59 1 0 1 106 2-145 1 98 1 47 1 0 1 0 1-80 1 80 1-80 1 80 1-80 1 33 1 47 1-47 1-80 1 127 1-80 1 80 1 0 1-106 1 187 1-161 1 33 1-59 1 59 1-80 1 80 1-33 1 80 1-174 1 255 1-187 1-21 1 127 1-127 1 47 1 33 1 0 1 128 1-161 1-65 1 65 1-80 1 15 1 39 1 0 1 26 1 0 1 33 1-33 1-80 1 15 1 18 1 80 1-80 1 21 1 106 1 0 1-160 1 113 1-59 1 106 1-47 1 0 1-33 1 0 1 0 1 0 1-26 1-68 1 127 1-113 1 33 1 0 1 21 1-54 1 113 1-59 1 106 1-160 1-14 1 68 1 0 1 0 1-54 1 15 1 98 1-80 1 80 1-127 1 29 1 39 1-21 1 21 1-39 1 18 1 21 1-21 1-47 1 0 1-67 1 67 1 29 1-72 1-16 1 127 1-80 1 12 1 14 1-26 1 12 1-12 1-81 1 93 1-136 1 113 1 91 1-21 1-145 1-38 1-25 1 38 1-4 1 23 1 6 1 18 1 68 1-11 1-128 1 0 1-50 1 31 1-8 1-6 1-144 1-87 1-71 1-14 1 0 1 0 1 0 1 0 1 0 1 0 1 0 1 0 1 0 1 0 1 0 1 0 1 0 1 0 1 0 1 0 1 0 1 0 1 0 1 0 1 0 1 0 1 0 1 0 1 0 1 0 1 0 1 0 1 0 1 0 1 0 1 0 1 0 1 0 1 0 1 0 1 0 1 0 1 0 1 0 1 0 1 0 1 0 1 0 1 0 1 0 1 0 1 0 1 0 1 0 1 0 1 0 1 0 1 0 1 0 1 0 1 41 1 82 1 101 1 38 1-11 1 182 1-7 1-35 1 35 1-30 1-10 1 21 1 50 1-31 1 41 1 0 1 47 1-57 1 43 1 127 1-178 1 8 1 57 1-14 1 0 1 0 1 14 1-57 1 10 1 47 1 33 1-140 1 220 1-80 1 80 1-98 1 18 1 0 1 80 1-33 1-26 1-21 1 47 1-65 1 65 1-80 1 160 1 0 1-174 1 47 1 80 1-127 1 174 1-145 1 145 1-47 1-127 1-43 1 217 1-80 1 33 1-80 1 80 2-33 1 0 1-47 1 80 1-80 1 80 1-80 1 80 1 0 1 47 1 0 1-80 1 80 2-80 2 80 1-106 1 106 1-80 1 161 1-81 1-106 1 0 1 0 1 59 1 128 1-187 1 0 1 187 1-128 1 47 1-106 2 59 1-80 1 21 1 0 1 59 1 47 1-127 1 208 1-128 1-80 1 127 1-47 1 0 1 0 1-33 1-80 1 80 1 80 1-106 1 0 1 187 1-187 1-21 1-18 1 145 1-174 1 174 1-47 1-80 1 21 1 26 1 0 1 33 1 47 1 0 2-47 1-59 1-21 1 47 1 0 1 33 1-80 1 47 1 80 1 0 1 0 1-106 1 59 1 0 1-33 1 161 1-128 1 0 1-59 1 59 1-33 1 33 1 128 1-81 1-80 1 0 1 0 1-47 1 80 1-59 1 26 1-47 1 47 1 33 1 47 1-47 1 47 1-106 1 106 1-80 1-26 1 26 1 33 1 0 1 47 2-47 1-59 1 26 1 80 1-47 1 0 1 0 1 0 1 47 1 0 1-47 1-59 1-68 1 68 1 0 1 26 1 161 1-128 1 0 1 128 1-81 1-47 1 47 1-47 1-33 1 0 1 80 1-80 1 80 1-47 1-33 1-80 1 80 1 80 1-106 1 187 1-81 1-127 1 80 1 47 1 0 1-47 1 47 1-47 1-80 1 80 1 0 1-33 1-26 1 0 1 59 1 0 1 47 1-47 1-98 1 65 1 80 1-47 1 0 1 47 1-80 1 80 1-106 1 187 1-81 1-47 1-98 1 98 1 47 1 0 1-80 1 80 1-80 1 161 1 0 1-128 1 0 1 0 1 0 1 47 1-106 1 0 1 187 1-128 1 47 1-47 1-98 1 145 1-47 1-59 1 106 1-47 1 47 1-80 1 33 1-59 2 106 1-47 1-33 1 33 1 128 1-81 1 81 1-161 1 0 1 161 1-128 1-80 1 208 1-128 1 47 1-47 1 47 1-47 1-59 1 26 1 0 1 33 1-33 1 80 1 0 1-80 1 33 1 47 1 0 1 0 1-47 1 47 1-47 1 0 1 128 1-128 1-33 1 80 1-47 1 0 1-59 1 26 1 33 1-33 1 80 1-80 1-47 1 127 1 0 1 0 1 0 1 0 1 0 1-47 1-33 1 33 1 0 1 0 1 0 1 47 1-47 1 47 1-80 1 0 1 33 1 0 1 0 1 128 1-161 1 33 1 128 1 0 1-128 1 0 1 47 1 0 1-80 1 80 1-47 1 128 1-128 1 0 1 47 1-145 1 145 1 0 1-47 1-59 1 106 1-80 2-47 1 21 1 106 1 0 1 0"/>
<path vector-effect="non-scaling-stroke" stroke-width="1.80" stroke="#008000" d="M0 2490l1 0 1 80 1-186 1 106 1-161 1 161 1-127 1 207 1-80 1-127 1 80 1 0 1 47 1 80 1-127 1 0 1 127 1-186 1 59 1 127 1-80 1-80 1-47 1 207 1-127 1-33 1 33 1 127 1-80 1 0 1 80 2-80 1 80 1 0 1-160 1 80 1-80 1 80 1-80 1 160 1 0 1-160 1 80 1 0 1-47 1-33 1 80 1 0 1-80 1 0 1 0 1 33 1 47 1-47 1 0 1 47 1-47 1 127 1-160 1 80 1 0 1-80 1 33 2 0 1 47 1-80 1 80 1-47 1-98 1 98 1-33 1 33 1 127 1 0 1-127 1 0 1 0 1 0 1 47 1-47 1 47 1-80 1 33 1-33 1 33 2-98 1 145 1 0 1 80 1-207 1 127 1-47 1 47 1 0 1-47 1 47 1-80 1 80 1 0 1 80 1-127 1 47 1-80 1 33 2 47 1-106 1 106 1 80 1-127 1 47 2 0 1-47 1-33 1 80 1-80 1 80 2 0 1-47 1-59 1-21 1 127 1 0 1 80 1-127 1 0 1 47 1-47 1 127 1-127 1 0 1-33 1 160 2-160 1 80 1-47 1 0 2 127 1 0 1-80 1 0 1-47 1 47 1-80 1 80 1-80 1 80 1 80 1-127 1 0 2 0 1 127 1-127 1-59 1 106 1-106 1 186 1-127 1 47 1 80 1-127 1-33 1-26 1 59 1-33 1 80 1-47 1 47 1-47 1 47 1-80 2 0 1 0 2 160 1-127 1 0 1-33 1-26 1 59 1 47 1-47 1-59 1 26 1 160 1 0 2 0 1 0 1-160 1 160 1-127 1-33 2 80 1 80 1-207 1 47 1 33 1 127 1-80 1-127 1 47 1 80 1-127 2 21 1 106 1-80 1 80 1-47 1 0 1 47 1 0 1-80 1 33 1-59 1 26 1 0 1 80 1-47 1-33 1 33 1 47 1-47 1 0 1 47 1-80 1-47 1 47 1 33 1 0 1-33 1 33 1 47 1-47 1 0 1-59 1 106 1-80 1 33 1 47 1-80 1 80 1-47 1 127 1-80 1 0 1-80 1-26 1 106 1 0 1 0 1-47 1-33 1-26 1 0 1 59 1 47 1-47 1 47 1 80 1 0 2-80 1-47 1 0 1-80 1 207 1-160 1 0 1 33 1 0 1 0 1-59 1 26 1 80 1 80 1-127 1 0 1 47 1-47 1-33 1 0 1 80 2 0 1 0 1-106 1 59 1-33 1 33 1 0 1 47 1-47 1-33 2 80 1-106 1 26 2 80 1-80 1 33 1-33 1 160 1-160 1-65 1 39 1 59 1 47 1-80 1-26 1 106 1 80 1-160 1 33 1 0 1 0 1 0 1 127 1-207 1-18 1 65 1 80 1-47 1-80 1 80 1-59 1 26 1 80 1 80 1-127 1 0 1 0 1-59 1 106 1-47 1-59 1 186 1-80 1 0 1-47 1 47 1-80 1-26 1 59 1 47 1-145 1 145 1-47 1 0 1 0 1 0 1-33 1 80 1 80 1-225 1 98 1 0 1 0 1-33 1 0 1 80 1-127 1 21 1-21 1 127 1-47 1-59 1-55 1 16 1 145 1 0 1-80 1-47 1 80 1 47 1-106 1-21 1-18 1 65 1 80 1-127 1 207 1-207 1 47 1 160 1-160 1 160 1-160 1 0 1 33 1 0 1 0 1-33 1-47 1 21 1 59 2-59 1 59 1-33 1-26 1 59 1-59 1-21 1-18 1-29 1 127 1-59 1-21 1 21 1 26 1-65 1 39 1 59 1-114 1 81 1 33 1 0 1-59 1-55 1 161 1 0 1 0 1-47 1 47 1-47 1-33 1-26 1 106 1-127 1 80 1-127 1 94 1-47 1 21 1 26 1 33 1 0 1-59 1 186 1-241 1 81 1-65 1 65 1-65 1 98 1-33 2-117 1 36 1 114 1 47 1-47 1-59 1 0 1 106 1-47 1-59 1 59 1 0 1-98 1 0 1 98 1-59 1-68 1 174 1-47 1-59 1 26 1 33 1-114 1 161 1-80 1-26 1-21 1-18 1 39 1-21 1 127 1-47 1-80 1 127 1 0 1-145 1 98 1-33 1-94 1 174 1-145 1 98 1 0 1-98 1 18 1 80 1-33 1-47 1 47 1 33 1-80 1 207 1-160 1 33 1-33 1-106 1 59 1 47 1 0 1-26 1 59 1-33 1-26 1 106 1-80 1 0 1 80 1-174 1 68 1 26 1 80 1-127 1 80 1-59 1 26 1 33 1 0 1-33 1-47 1-70 1 117 1-26 1 106 1-127 1 80 1-80 1-59 1 106 1 0 1-94 1-23 1 70 1 0 1 80 1-33 1-47 1 127 1-106 1-21 1 21 1-21 1 0 1 21 1 26 1-81 1-25 1 80 1 59 1-80 1 80 1-80 1 0 1 80 1-127 1 174 1-47 1 0 1-33 1-47 1 47 1-47 1 127 1-145 1 225 1-254 1 13 1 55 1-21 1 0 1-34 1 114 1-170 1 297 1-160 1-65 1 98 1-33 1-47 1-47 1 13 1 16 1 65 1 0 1 33 1-80 1 80 1-80 1 80 1-80 1 127 1-145 1 39 1 26 1 80 1-106 1-80 1 106 1-65 1 18 1 21 1-55 1 0 1 114 1-80 1-34 1 34 1-34 1 34 1-18 1 39 1 59 1-80 1 21 1-21 1-59 1 0 1 59 1 0 1 47 1-81 1 34 1-18 1 0 1-16 1 114 1-114 1 34 1-34 1-36 1 23 1 68 1-39 1 145 1-161 1-47 1 81 1-106 1 153 1-47 1-47 1 94 1-47 1 47 1-47 1 127 1-197 1 52 1-41 1 25 1 81 1-26 1-55 1 55 1-55 1 55 1-111 1 90 1-47 1-43 1 217 1-145 1 18 1-18 1 65 1-94 1-12 1 0 1 0 1 59 1 21 1-39 1 39 1 26 1-47 1 0 1 47 1-26 1 0 1-55 1-56 1-8 1 39 1 106 1-65 1-52 1 91 1-55 1 34 1-34 1 16 1 18 1-47 1 0 1-34 1 11 1 70 1-90 1 72 1-72 1-8 1 39 1-22 1 47 1-13 1 254 1-288 1 34 1-51 1 17 1 11 1 52 1-103 1 51 1-44 1-7 1 40 1-17 1 28 1 23 1-34 1-25 1 16 1-66 1 109 1-12 1 0 1-47 1 8 1 80 1-41 1-81 1-43 1 55 1 81 1-34 1-53 1 28 1-50 1 35 1 15 1-8 1 33 1-70 1 81 1-28 1 0 1-68 1 132 1-72 1 16 1 31 1-75 1 13 1-7 1-12 1 34 1-39 1-29 1-13 1 66 1 74 1-23 1-64 1 0 1 100 1-94 1 30 1-8 1 25 1-70 1 45 1-60 1 0 1 32 1-92 1 75 1 37 1-69 1 49 1 53 1-93 1 115 1-167 1 128 1-30 1 69 1-81 1-39 1-38 1 72 1 11 1 6 1-120 1 87 1-73 1 36 1 19 1 34 1 24 1 40 1-153 1 89 1 24 1-142 1 58 1 49 1 58 1-130 1 17 1 90 1-49 1 25 1-29 1 4 1 4 1-60 1 28 1 53 1-21 1-70 1 75 1-112 1 10 1 107 1-138 1 173 1-77 1-19 1-29 1 10 1 31 1 84 1-102 1 25 1 47 1-125 1 56 1-11 1 52 1-32 1-25 1-10 1 7 1-88 1 133 1-59 1 97 1-107 1 80 1-89 1 24 1-47 1 9 1 42 1-37 1 61 1-3 1 33 1-83 1-25 1-8 1 41 1 19 1-26 1 2 1 13 1 0 1-8 1-85 1 18 1 64 1-46 1 70 1-86 1 61 1-66 1 60 1-10 1-38 1 18 1-54 1 23 1 15 1-37 1 17 1 1 1 6 1-60 1 40 1-7 1-26 1 12 1-16 1-10 1-11 1 30 1-36 1 18 1-18 1-6 1-13 1 13 1-11 1-11 1-7 1-17 1 0 1 18 1-17 1-4 1 0 1-5 1-3 1 5 1-8 1-7 1-8 1 22 1-3 1-21 1-12 1 11 1-6 1 3 1-15 1 5 1-11 1-1 1-6 1-10 1-3 1-5 1-4 1-15 1-1 1-3 1-4 1-9 1 1 1-11 1-3 1-1 1-5 1-4 1-9 1 2 1-6 1-1 1-7 1-1 1-6 1-7 1-5 1-8 1-7 1-6 1-11 1-12 1-10 1-9 1-6 1-8 1-8 1-5 1-9 1-6 1-8 1-7 1-7 1-7 1-10 1-10 1-15 1-16 1-22 1-21 1-21 1-18 1-16 1-15 1-14 1-13 1-13 1-13 1-12 1-12 1-11 1-14 1-14 1-13 1-7 1-1 1 6 1 11 1 13 1 15 1 15 1 19 1 21 1 22 1 21 1 18 1 16 1 14 1 13 1 13 1 12 1 13 1 13 1 15 1 18 1 18 1 18 1 20 1 16 1 15 1 14 1 10 1 17 1 8 1 10 1 12 1 11 1 10 1 6 1 18 1 3 1 5 1 8 1 12 1-5 1 15 1 4 1 9 1 2 1-3 1 16 1 9 1-3 1 7 1 4 1 5 1 10 1 5 1 6 1 8 1 3 1 3 1-2 1 17 1 9 1-9 1 28 1-2 1 23 1 4 1-19 1 29 1-11 1 20 1 11 1-15 1 23 1 15 1-20 1 7 1 12 1 21 1-1 1-31 1 48 1-20 1 2 1 13 1-38 1 45 1 4 1 7 1-38 1 9 1 12 1-26 1-7 1 24 1 26 1-18 1 38 1-14 1 49 1 23 1-81 1 1 1 57 1-13 1 18 1 7 1-58 1 44 1-87 1 56 1-22 1-37 1 155 1-4 1-89 1 62 1 20 1-59 1 25 1 11 1-22 1 19 1 86 1-92 1 0 1 25 1 11 1-21 1 6 1-66 1 16 1 61 1-97 1 135 1-5 1 10 1-63 1-30 1 46 1-43 1 30 1 55 1-75 1 26 1-21 1 120 1-50 1-42 1 0 1 32 1 0 1-13 1 73 1-22 1-46 1 8 1-17 1-11 1-26 1 37 1-45 1 88 1-34 1-24 1-3 1 142 1 0 1-92 1-80 1 184 1-93 1-5 1-11 1-14 1 19 1 11 1-65 1 44 1 91 1 11 1-75 1-67 1 167 1-80 1-31 1 98 1-147 1 88 1-45 1 61 1-108 1 15 1 93 1-24 1-52 1 96 1-70 1 42 1-42 1 6 1 64 1 11 1-55 1 114 1-34 1-56 1 90 1-114 1 8 1 8 1 64 1-87 1 40 1-53 1 44 1 31 1 0 1 12 1-12 1-31 1 43 1 68 1-55 1 0 1-64 1 28 1 11 1 41 1-63 1 63 1-29 1 13 1 34 1-18 1-41 1 41 1-88 1 88 1 18 1-47 1 29 1 65 1-47 1-59 1 59 1 21 1-102 1 161 1-80 1-34 1-13 1-23 1 36 1 114 1-59 1 0 1-68 1 13 1-25 1 41 1 18 1 80 1-33 1-81 1 0 1-72 1 47 1 59 1-59 1-11 1 11 1 106 1-47 1 0 1-59 1 59 1 80 1-114 1 0 1 16 1 39 1-68 1 29 1-72 1 111 1 0 1-39 1 145 1-127 1 127 1-47 1-80 1-18 1 65 1 0 1 0 1-117 1 117 1 0 1-65 1 65 1 0 1 33 1 47 1-106 1 59 1-59 1-21 1 0 1 0 1 47 1-47 1-34 1 161 1-106 1-21 1 127 1-145 1 65 1 0 1-65 1 65 1-65 1 0 1 18 1-34 1 81 1 80 1-106 1 26 1-65 1 18 1-18 1 0 1 18 1 21 1-21 1-47 1 68 1-21 1 80 1-33 1-65 1 18 1 47 1-47 1-34 1 0 1 114 1 0 1 127 1-80 1-127 1-81 1 128 1-94 1 13 1 241 1-80 1-161 1 34 1 21 1 0 1 0 1-39 1 0 1-16 1 81 1 80 1-174 1 174 1 0 1-161 1 34 1 47 1-65 1 65 1-94 1 94 1 0 1 80 1-145 1 39 1 0 1-55 1 161 1-127 1 80 1-59 1 0 1 0 1 0 1 26 1 0 1-26 1-21 1-18 1 145 1-127 1-18 1-16 1 55 1 0 1 0 1 59 1-80 1 80 1-80 1 80 1 0 1 47 1-106 1 0 1 26 1-106 1 59 1 47 1-65 1 18 1 0 2-18 1-16 1-25 1 59 1 80 1-59 1 186 1-80 1-47 1-59 1-21 1 21 1 59 1-33 1 80 1-106 1 26 1-65 1 65 1-65 1 39 1 0 1 0 1-39 1 18 1 80 1-33 1-65 1 65 1-81 1 161 1-80 1 0 1-47 1 47 1 0 1-47 1 80 1 127 1-127 1-127 1 94 1-94 1 127 1-80 1 80 1-33 1-26 1 59 1-59 1 0 1 0 1 0 1 59 1-80 1 80 1-127 1 68 1 106 1 0 1-106 1 26 1-26 1 0 1 26 1 33 1 47 1-106 1 0 1-80 1 139 1-59 1 59 1-98 1-16 1 34 1 0 1 0 1 207 1-127 1 0 1 47 1-80 1 33 1-98 1 65 1-47 1 21 1 0 1-21 1 47 1 33 1-33 1-26 1-55 1 55 1-68 1-34 1 208 1-106 1 26 1 0 1 80 1-80 1-26 1-21 1 127 1-80 1-65 1 18 1 47 1 160 1-127 1 0 1-59 1 26 1 160 1-207 1 21 1 0 1 26 1 0 1-65 1 65 1-65 1 39 1 0 1 26 1-81 1 81 1 80 1-127 1-59 1 80 1-39 1 65 1 33 1-33 1 0 1 33 1 47 1-145 1 65 1 80 1 80 1-254 1 127 1 0 1-33 1 0 1-65 1 145 1-106 1 59 1 47 1-80 1-65 1 98 1-33 1-65 1 39 1-21 1 21 1-55 1 81 1 0 1-106 2 139 1 0 1 0 1-59 1-21 1 47 1 33 1-33 1-94 1 94 2 33 1 0 1 0 1-33 1 80 1 0 1 0 1-127 1 47 1 33 1 0 1 0 1-33 1-26 1 0 1-21 1-34 1 34 1 47 1 80 1-127 1 21 1 26 1 0 1 0 1-47 1 21 1 59 1-33 1 33 1-150 1 277 1-207 1 207 1-207 1 0 1 127 1-127 1 21 1 0 1 26 1-81 1 114 2 0 1-33 1-47 1 127 1-106 1-21 1 80 1-59 1 0 1 59 1-33 1-47 1 80 1 0 1-80 1 21 1 106 1-127 1-34 1 55 1-21 2 207 1-186 1 59 1-59 1 106 1-80 1-65 1 225 1-127 1-33 1-47 1 21 1 26 1 33 1-114 1 55 1-39 1 145 1-47 1-98 1 98 1 0 1-98 1 98 1 0 1-59 1-21 1-18 1 39 1 26 1-26 1 0 1-21 1 80 1 0 1-98 1 98 1-59 1 106 1-47 1-80 1 21 1 26 1-26 2 106 1-145 1 98 1-59 1 186 1-80 1 0 1-47 1-114 1 81 1-26 1-21 1 21 1-39 1 65 1 33 1 47 1-47 1-33 1-26 1 59 1-59 1 106 1-127 1 21 1 59 1 127 1-160 1-47 1 207 1-160 1 33 1-59 2 26 1-65 1 145 1-127 1 47 1 33 1-127 1 127 1-80 1 47 1 80 1-80 1-47 1 47 1 33 1 0 1-33 1 160 1-186 1 26 1 33 1-80 1 21 1-55 1 161 1-80 1 0 1 80 1-80 1 33 1-59 1 59 1 127 1-160 1 160 1-160 1 80 1 80 1-186 1 0 1-39 1 98 1-33 1 0 1-65 1 39 1 59 1-98 1 98 1-59 1-21 1 80 1 127 1 0 1-225 1 98 1-59 1 26 1 0 1-26 1-55 1 81 1-81 1 241 1-160 1 80 1-127 1 80 1-59 1-55 1 81 1 80 1-145 1 98 1-59 1 106 1-47 1-114 1 161 1-47 1-59 1 26 1-65 1 225 1-127 1-98 1 98 1 0 1 47 1-106 1 26 1 0 1-26 1-21 1-34 1 161 1 0 1-47 1 0 1-80 1 127 1-106 1 59 1-33 1-47 1 127 1-106 1 0 1 106 1-106 1 0 1 59 1 0 1 0 1-59 1 106 1-127 1 80 2-80 1 80 1-80 1 80 1 47 1-80 1 160 1-186 1 26 1 80 1-127 1 80 1 47 1-174 1 254 1-186 1-39 3 98 1-114 1 34 1 47 1-26 1 186 1-160 1-26 1-55 1 0 1 81 1 0 1-26 1-55 1 114 1 47 1 0 1-47 1 0 1 47 1 0 1-106 1 59 1 0 1 127 1-127 1 0 1 0 1-33 1-47 1 21 1 26 1 33 1-33 1 0 1 80 1-127 1 80 1-80 1 0 1 207 1-207 1-34 1 114 1 0 1-114 1 241 1 0 1-160 1-47 1-34 1 241 1-127 1 47 1-145 1 18 1 127 1-47 1-80 1 47 1 80 1-47 1 0 1 0 1-33 1 160 1-127 1 0 1-33 1 0 1 0 1-26 1 106 1-47 1-33 1-47 1 0 1 207 1-160 1 33 1 0 1 47 1-80 1 80 1-47 1 47 1-80 1-65 1 98 1 0 1 0 1 0 1-33 1 80 1 0 1-106 1 59 1-33 1 33 1 47 1-106 1 0 1 59 1 0 1-33 1 0 1 80 1 0 1-80 1 80 1-47 1 0 1-33 1-65 1 39 1 26 1 0 1 80 1 0 1 0 1-161 1 114 1-80 1-34 1 241 1-80 1-80 1-65 1 145 1-47 1-80 1 127 1-80 1-47 1 21 1 26 1 0 1-47 1 80 1-80 1 207 1-207 1 0 1-18 1 145 1-47 1-114 1 34 1 80 1 0 1-59 1 59 1-33 1 80 1-80 1 0 1 0 1 33 1 0 1-80 1 0 1 47 1 80 1 0 1-106 1 59 1-33 1 0 1 33 1 47 1 0 1-47 1 127 1 0 1-127 1 47 1-80 1-65 1 145 1-47 1 127 1-80 1-80 1 33 1-33 1 33 1 0 1 0 1-33 1-26 1 0 1 59 1-33 1 160 1 0 1-80 1-80 1 80 1-47 1 47 1 80 1-127 1 0 1-80 1 47 1-26 1 26 1 80 1-106 1 106 1-106 1 59 1-98 1 145 1-47 1 0 1-80 1 207 1-80 1 0 1-127 1 80 1 0 1-33 1 80 1-127 1 47 1-26 1 106 1-47 1 47 1-47 1 0 1-33 1-65 1 65 1 0 1-26 1 59 1 127 1-160 1 80 1-47 1 0 1 47 1 0 1 80 1 0 1-127 1-33 1 160 1-160 1 0 1 33 1-59 1 26 1 80 1-80 1-26 1 26 1 80 1 0 1-106 1 59 1-33 1 0 1 33 1 0 1-33 1 160 1-186 1 59 1-33 1 0 1 33 1-33 1 33 1-33 1 80 1 80 1-160 1 33 1 47 1-106 1 186 1-160 1 0 1 80 1-80 1 80 1-47 1-33 1-47 1 80 1-80 1 80 1 0 1-33 1 80 1-106 1 59 1 47 1 0 1-127 1 127 1 0 1-80 1 0 1 80 1 80 1-186 1 59 1 47 1 0 1-47 1 0 1 127 1 0 1-186 1 106 1-47 1-59 1 26 1 33 1-59 1 0 1 0 1 59 1 47 1-80 1 160 1-127 1 0 1 127 1-207 1 207 1-207 1 127 1-106 1 106 1-47 1-33 1 80 1-161 1 114 2-80 1 207 1-127 1-80 1 80 1-98 1 225 1-80 2-106 1 186 1-160 1 0 1 33 1-33 1 80 1-80 1 33 1 0 1 47 1 80 1-160 1 0 2 33 2 0 1-80 1 80 1-33 1-26 1 0 1 0 1 106 1-80 1 33 1-59 1 106 1 0 1 0 1-80 1-26 1 59 1 0 1 47 1 80 1-80 1 0 1-106 1 59 1 47 1-80 1 160 1-127 1 0 1 0 1 0 1 47 1-47 1 0 1-33 1-26 1 106 1 80 1-127 1 0 1-33 1 0 1 0 1 80 1-145 1 98 1 47 1 0 1-127 1 127 1-145 1 145 1 0 1 0 1 0 1 0 1 0 1-47 1 47 1-47 1 47 1 0 1 0 1 0 1 80 1-127 1 47 1-47 1-33 1 33 1 127 1-127 1-33 1 80 1 0 1-80 1-47 1 80 1-80 1 47 1 80 1-47 1-33 1 33 1-80 1 127 1 0 1-80 1 80 1 0 1-47 1 0 1 47 1-80 1 80 1-80 1 160 2 0 1-80 1 80 1-80 1 0 1 0 1 0 1-47 1 47 1-80 1 80 1 0 1-47 1-59 1 59 1 47 1 0 1-47 1 0 1 47 1-106 1 59 1-33 1 33 1 127 1-127 1 127 1 0 2-80 1-47 1 47 1-47 2 0 1-33 1 80 2 80 1-127 1 47 1 80 1-80 1-47 1 47 2-80 1 80 1 0 1-127 1 207 1-160 1 0 2 80 1 0 1-106 1 186 1-186 1 106 1-80 1 80 1-47 1 47 1-80 1 0 1 33 1 47 1 0 1 0 1 0 1-106 1 0 1 26 1 0 1 160 1-186 1 186 1-80 1-47 1 0 1 0 1 0 1 0 1 0 1-59 1 106 2 80 1-127 1 0 1 47 1 0 1 80 1-160 1-26 1 59 1 0 1-80 1 127 1-106 1 186 1-160 1 160 1 0 1-80 1 0 1-80 1-26 1 106 1 0 1-127 1 80 1 127 1-160 1 80 1 80 1-80 1 0 1-47 1 127 1-80 1 0 1-47 1 127 1 0 1-80 1 0 1-106 1 186 1-186 1 106 1 0 1 0 1-127 1 47 1 33 1 47 1-47 1 47 1-47 1 127 1 0 1-80 1 0 1 0 1 0 1 0 2 0 1-80 1 33 1 47 1-106 1 26 1 160 1 0 1-80 1 80 1-127 1-33 1 0 1 33 1 47 1 0 1-80 1 33 1 127 1-80 1-47 1-59 1 0 1 59 1-33 1 80 1-80 1 80 1-47 1-59 1 106 2-47 1-33 1 0 1 80 2 80 1 0 1-160 1 0 1 80 1-106 1 186 1-127 1 47 1 80 1 0 1-160 1 160 1 0 1-127 1 47 1 0 1 0 1-80 1 80 1-47 1 0 1 47 1 0 1 80 2-127 1-33 1 80 2-80 1 33 1 0 1 47 1-47 1-33 1 80 1 0 1 80 1-127 1 0 1 0 1 0 1 0 1 47 1-106 1 106 1-106 1 0 1-55 1 161 1 0 1 0 1-47 1 0 1-59 1 59 1 127 1-186 1 106 1 80 1-160 2 33 1-33 1 160 1-80 1 0 1 0 1 0 1 0 1-47 2 127 1-127 1 0 1-80 1 80 1 0 1 47 1 0 1 0 1 0 1-106 1 106 1-47 1 0 2 47 1-47 1-33 1 160 1-127 1-33 1 33 1 47 1-47 1 0 1-33 2 80 2 80 2-127 1 47 1-80 1 0 1 0 1 33 1 47 1 0 1 0 1 0 1-47 1-33 1 80 1 80 1-127 1-33 1 33 1 47 1 0 1-47 1-33 2 160 1-160 1 80 1-47 1 0 1 0 1 47 1-47 1 0 1-98 1 225 1-160 1 33 1 0 1-33 1 33 1 47 1-80 2 160 1-80 1-47 1 0 1-33 1 0 1 80 1 0 1 0 1-106 2 59 1 47 1 0 1-80 1-26 1 59 1-33 1-26 1 106 1-47 1 0 1-80 1 127 1 0 1-80 1 0 1 33 1-59 1 106 1-47 1 47 1-47 1-33 1 33 1 0 1 47 1-47 1 47 1-80 1 80 1 80 1-80 1-80 1 33 1 0 1 0 1 47 1-47 1 47 1 80 1-127 1 0 1-59 1 59 1-80 1 207 1-80 1-80 1 80 1 80 1-127 1 47 1-106 1 59 1 0 1 47 1 0 1-80 1 80 1 80 1-127 1-33 1 80 1 80 1 0 1 0 1-127 1 47 1-47 1-33 1 0 1 0 1 80 1-47 1-33 1 80 1 80 1-160 1-26 1 106 1 0 1-47 1 47 1-47 1-80 1 80 1-33 1-47 1 47 1 0 1 0 1 80 1-47 1 0 1 127 1-160 1 33 1-33 1 33 2 0 1 127 1-80 1-47 1-98 1 98 1 127 1-80 1-47 1 0 1 47 1-80 1 80 1-47 1 0 1-59 1 186 1-80 1-47 1 0 1 0 2-33 1 33 1 47 1 80 1-160 1 80 2-80 1 80 1-47 1-33 1-26 1 106 1 80 1-160 1 160 1 0 1-127 1-59 1 26 1 0 1 80 1-47 1 47 1-47 1 127 1-80 1-80 1 160 1-127 1 0 1 0 1-80 1 21 1 186 1-186 1 59 1 0 2 0 1 0 1 0 1 127 1-127 1-80 1 80 1 47 1-80 1 80 1-80 1 0 1 33 1-33 1 80 1-80 1-47 1 21 1 106 1-47 1-33 1 160 1-80 1-80 1 33 1 0 1 0 1 0 1 47 1 0 1-47 1 127 1-160 1 0 1 33 2 0 1-80 1 207 1-80 1-47 2-59 2 26 1 0 1-47 1 47 1 33 1-33 1 0 1 0 1-26 1 186 1-80 1-145 1 98 1 0 1 0 1-59 1 26 1 0 1-47 1 127 1-127 1 47 1 33 1 127 1-127 1 0 1 0 1-98 1 145 1-47 1 47 1 0 2 0 1-47 1 0 1 47 1-47 1 47 1 80 1-160 1 33 1 0 1-33 1 33 1-80 1 127 1-145 1 145 1 0 1-47 1 47 1-127 1 127 1 0 1-80 1 160 1-127 1-33 1 0 1 33 1 47 1-47 1 0 1-33 2 33 1 47 1 0 2-47 1 47 1 0 1-47 1-114 1 114 1-33 1-47 1 80 1 0 1 127 2-80 1-106 1 59 2 47 2-47 1-59 1 106 1 80 1-127 1 0 1 47 1 0 1-106 1 59 1-59 1 106 1 80 1-207 2 47 1-94 1 254 1-127 1 47 1 0 1 0 1 80 1-80 1 0 1-47 1 0 1-33 1 80 1-80 1 160 1-127 1 0 1 47 1-47 1-59 1 59 1-98 1 98 1-59 1 186 1-80 1 80 1-160 2 80 1-127 1 47 1 80 1 0 1-127 1-18 1 39 1-21 1 21 1 0 1 0 1 0 1-21 1 21 1 0 1-39 1 98 1-80 1 21 1 0 1 26 1 0 1-94 1 13 1 16 1-80 1 39 1-39 1 17 1-17 1-96 1 20 1 8 1 0 1 32 1-32 1-48 1-109 1-11 1-80 1-32 1-74 1-120 1-133 1-41 1 0 1 0 1 0 1 0 1 0 1 0 1 0 1 0 1 0 1 0 1 0 1 0 1 0 1 0 1 0 1 0 1 0 1 0 1 0 1 0 1 88 1 132 1 106 1 56 1 45 1 53 1 64 1 87 1-127 1 176 1 0 1-45 1 98 1-25 1 36 1 52 1-96 1 24 1 9 1 22 1 186 1-145 1 18 1 47 1-47 1 21 1 59 1 47 1-106 1 0 1-55 1 81 1 0 1 33 1-33 1 33 1-59 1 59 1-98 1 145 1-161 1 114 1 47 1-80 1 33 1 0 1 0 1-59 1 26 2 80 1-80 1 33 1 47 1-106 1 106 1-47 1 47 1-80 1 80 1-106 1 106 1-80 1 80 1 80 1-127 1 47 1-47 1 127 1-80 1 0 1 0 1-80 1 80 2-106 1 59 1 0 1 0 1 0 2 0 1-33 1 80 1-80 1 160 1-160 1 33 1-59 1 26 1 0 1 0 1 33 1 47 1-47 1 0 1 47 1-47 1 47 1-106 1 26 1 33 1-98 1 98 1 47 1-127 1 47 1 160 1-160 2-26 1 106 1-80 1-26 1 26 1 160 1-186 1 59 1 47 1-47 1 47 1 0 1 80 1-80 1-47 1 0 1 47 1-106 1 106 1 80 1-80 1-47 1-33 1-26 1 26 1 0 1 0 1 0 1 80 1-47 1 0 1 47 1 0 1-80 1 33 1 0 1-33 1 0 1 0 1 33 1 0 1 47 1 0 1 80 1-80 1-80 1-26 1 186 1-80 1-80 2 0 1 33 1 0 1 0 1-59 1 59 1 0 1-59 1 59 1 127 1-127 1 47 1-80 1 33 2 0 1 0 1 0 1 0 1 0 1 47 1 80 1 0 1 0 1-80 1-80 1 80 1 0 1-47 1-59 1 106 1 0 1 80 1-80 1-47 1-33 2 0 1 80 1-80 1 80 1-127 1 80 1-33 1 33 1 47 1-80 1 80 1 0 1 80 1-80 1-80 1-47 1 127 1 0 1 0 1 80 1-186 2 59 1-59 1 59 1-33 1 80 1 80 1-127 1 0 1 0 1 0 1 0 1 0 1 47 1-47 1 127 1-127 2 47 1-47 1 47 1 80 1-127 1 0 2-33 1 33 1-33 1 80 1-47 1 47 1-47 1 0 1-33 1 80 1 0 1 0 1 0 1 80 1-127 1 47 1-47 1 0 1 47 1 80 1-80 2 80 1-80 1-47 1-33 1 80 1-106 1 59 1 0 1-33 1 80 1-80 1 80 1-106 1 106 1-47 1 0 1-33 1 80 2 0 1-106 2 59 1-33 1 160 1 0 1-127 1 0 1 127 1-80 1 80 1-80 1-106 1 26 1 80 1 0 1 80 1 0 1-186 1-21 1 127 1 0 1-47 1 47 1-47 1-59 1 186 1-127 1 127 1 0 1-127 1-80 1 207 1 0 1-127 1 47 1-47 1 0 1-33 2 80 1-127 1 80 1-33 1 33 1 0 1-33 1 33 1 127 1-160 1-47 1 47 1 160 1-160 1 80 1-47 1 47 1-80 1 80 1-106 1-21 1 80 1 127 1-207 1 127 1 0 1 0 1 0 1-47 1 47 1-47 1 127 1-127 1 0 1 47 1 80 1-80 1 0 1 0 1-80 1 33 1 0 1 0 1-33 1 33 1 127 1-80 1-80 1-81 1 81 1 160 1-127 1 47 1-80 1 33 1 0 1-33 1-26 1 26 1 0 1 33 1 47 1-80 1 33 1 47"/>
</g></g>
<g clip-path="url(#cb)"><g transform="translate(102.950 0) scale(0.21100 0.25)" fill="none" stroke-linejoin="round">
<path vector-effect="non-scaling-stroke" stroke-width="1.80" stroke="#ff00ff" d="M0 4448l1 0 1 0 1 47 1 0 1-47 1 0 1 0 1 0 1 47 1-47 1 47 1 0 1 0 1-47 1 0 1 0 1 0 1 0 1 47 1 0 1 0 1 0 1 0 1 0 1 0 1 0 1-47 1 47 1-47 1-58 1 105 1-47 1 0 1 0 1 47 1-47 1 0 1 127 1-127 1 47 1 0 1-47 1 47 1-47 1 0 1 47 1 0 1 0 1 0 1-80 1 33 1 47 1 0 1 0 1 0 1 0 1 0 1 0 1 0 1 0 1 0 1-47 1 47 1 0 1-47 1 47 1 0 1 0 1-80 1 33 1 47 1 0 1-47 1 47 1 0 1-47 1 0 2 0 1 47 1-47 1 47 1 0 1-47 1 47 1 0 1 80 1-80 1 0 1 0 1 0 1 0 1-47 1 47 1-47 1 0 1 47 1-47 1 47 1 80 1-80 1-47 1 47 1 0 1 0 1 0 1 0 1 0 1 0 1 0 1-47 1 0 1 47 1 0 1 0 1-47 1 47 1 0 1 0 1-47 1 0 1 0 1 47 1-47 1 47 1 0 1 0 1-47 1 47 1 0 1-47 1 0 1 47 1 0 1 0 1-47 1 0 1 47 1-47 1 47 1 0 1-47 1 47 1 0 1 0 1 0 1-47 1 0 1 47 1 0 1-47 1 0 1 47 1 0 1 0 1 0 1-47 1 47 1 80 1-80 1-47 1 0 1 0 1 0 1 47 1-47 1 47 1-47 1 47 1 0 1-47 1 0 1 0 1 0 1 0 1 0 1 47 1 0 1 0 1 0 1-80 1 80 1 0 1-47 1 47 1 0 1-47 1 0 1 47 1 0 1-47 1 0 1 0 1 47 1-47 1 47 1 0 1 0 1-47 1 0 1 47 1-47 1 47 1-47 1 47 1 0 1 80 1-127 1 47 1 0 1-47 1 0 1 47 1 0 1 0 1-80 1 80 1 0 1 0 1-47 1 47 1 0 1-80 1 80 1-47 1-33 1 80 1-47 1 127 1-80 1 0 1 0 1 0 1-47 1 0 1 0 1 47 1 0 1 0 1 0 1-80 1 80 1 0 1 0 1 80 1-80 1 0 1 0 1-47 1 47 1-80 1 80 1-47 1 47 1-47 1 47 1-47 1 0 1 0 1 47 1-80 1 80 1 0 1 0 1 0 1 0 1-47 1 127 1-80 1 0 1 0 1-47 1 47 1-47 1 47 1 0 1-47 1 0 1 0 1 0 1 0 1 0 1 0 1 47 1 0 1 0 1-47 1 47 1 0 1 0 1 0 1-47 1 0 1 0 1 47 1-80 1 80 1 0 1-47 1-79 1 79 1-33 1 80 1-47 1 0 1-33 1 160 1-80 1 0 1 0 1 0 1 0 1 0 1 0 1 0 1 0 1-80 1 80 1-47 1 47 1 0 1-47 1 47 1-47 1 0 1 0 1 0 1 47 1-47 1 47 1-47 1 47 1 0 1 0 1 0 1 0 1-80 1 33 1 47 1 0 1-47 1 0 1 47 1 0 1-47 1 0 1 0 1 0 1 47 1-47 1 47 1 0 1 0 1 80 1-80 1 0 1 80 1-80 1 0 1 0 1 80 1-80 1 0 1 0 1-47 1-33 1 80 1-47 1 0 1 47 1 0 1-80 1 80 1-47 1 0 1 127 1 0 1-127 2 0 1 47 1 0 1 0 1 0 1-47 1 0 1 47 1 0 1 80 1-80 1 0 1 0 1-47 1 0 1 47 1 0 1 0 1 0 1-47 1 0 1 0 1 47 1 0 1 0 1-80 1 80 1-47 1 47 1-80 1 80 1-47 1 47 1-80 1 80 1-105 1 105 1 0 1 0 1-47 1 127 1-127 2 47 1-47 1 47 1 0 1 0 1-47 1 47 1 0 1-80 1 80 1-47 1 47 1 0 1 0 1-47 1 0 1 0 1 47 1 0 1 0 1-47 1 47 1 0 1 0 1-47 1-33 1 80 1 0 1 0 1-47 1 0 1 47 1 0 1-47 1 0 1 47 1 0 1-47 1 0 1 0 1 47 1 0 1-47 1 47 1-80 1 80 1 0 1 0 1-47 1 0 1 47 1 0 1 0 1 0 1-47 1 47 1-47 1 0 1 47 1 0 1-47 1 0 1 47 1 0 1 0 1 0 1 0 1 80 1-80 1 0 1 0 1 0 1-47 1 47 1-47 1 0 1 0 1 47 1 0 1 0 1 0 1-80 1 80 1 80 1-80 1-47 1 47 1-47 1 47 1 0 1 0 1 0 1 0 1-47 1 0 1 0 1 0 1 47 1 80 1-80 1 0 1 0 1 0 1 0 1 0 1 0 1-47 1-33 1 80 1 0 1-47 1 47 1 0 1 0 1-80 1 33 1 0 1-33 1 80 1 0 1 0 1 0 2 0 1-47 1 0 1 0 1 47 1 0 1 0 1-47 1 47 1-80 1 80 1 0 2 0 1-47 1 47 1 0 1 0 1-47 1 47 1-47 1 0 1 47 1 0 1 0 1-47 1 47 1-47 1 0 1 47 1-47 1-33 1 80 1-47 1 47 1 0 1-47 1 0 1 0 1 0 1 47 1 0 1 0 1 0 1 0 1 0 1-47 1 0 1 47 1-47 1 47 1-47 1 0 1 47 1-47 1 0 1-58 1 58 1 47 1 0 1 0 1 0 1 0 1-47 1 0 1 47 1 0 1-80 1 80 1 0 1-47 1 0 1 47 1 0 1 0 1 0 1-47 1 47 1 0 2 0 1-80 1 33 1 47 1 0 1-47 1 47 1-47 1 127 1-127 1 47 1 0 1 0 1-47 1 0 1 47 1-47 1 0 1 0 1 47 1 0 1-47 1 127 1-80 1-80 1 33 1 47 1-47 1 47 1 0 1 0 1-47 1 0 1 0 1 0 1 47 1 0 1 0 1-80 1 33 1 47 1 0 1-47 1 47 1 0 1-47 1 47 1 0 1-47 1 47 1 0 1 0 1 0 1 0 1 0 1-80 1 80 1 0 1 0 1 0 1 0 1 0 1 0 1-80 1 160 1-80 1 0 2-47 1 0 1 0 1 47 1-47 1 0 1 0 1 47 1 0 1 0 1 0 1 0 1 0 1-47 1 47 1-105 1 105 1 0 1-47 1 47 1-80 1 80 1 0 1-47 1 47 1 0 1 0 1-47 1 47 1 0 1 0 1 0 1-47 1 0 1-33 1 80 1 0 1 0 1 0 1-47 1 47 1 0 1 0 1 0 1-47 1 0 1 0 1 0 1 47 1 0 1 0 1 80 1-80 1 0 1 0 1-47 1 47 1 0 1 0 1 0 1 0 2 0 1-47 1 0 1 0 1 0 1 47 2-47 1 0 1 0 1 47 1 0 1-47 1 0 1 47 1-47 1 47 1 80 1-80 1-47 1 47 1-47 1 0 1 0 1 0 1 47 1 0 1 0 1-47 1 0 1 47 1 0 1-47 1 47 1 0 1-47 1 47 1-47 1 0 1 0 1 0 1 0 1 0 1 0 1 47 1-47 1 47 1 0 1 0 1 0 1 0 1 80 1-127 1 0 1 47 1-47 1 47 2 0 1 0 1 0 1 0 1-47 1-33 1 33 1 0 1 127 1-127 1 47 1 0 1 0 1 0 1-47 1 0 1 47 1-47 1 0 1 47 1 0 1 0 1-80 1 0 1 0 1 33 1 0 1 47 1-47 1 47 1 0 1 0 1-47 1 47 1 0 1-47 1 47 1-47 1 47 1 0 1-47 1 47 1-47 1 0 1 0 1 47 1-47 1 0 1 47 1 0 1-47 1 47 1-47 1 0 1 0 1 47 1-47 1 0 1 47 1 0 1-47 1 0 1 47 1 0 1 0 1-47 1 47 1-105 1 105 1 0 1-47 1 47 1-47 1-79 1 79 1 0 1-33 1 33 1 0 1 47 1 0 1-47 1-33 1 80 1 0 1-47 1 0 1 47 1-47 1-33 1 0 1 0 1 80 1-47 1 47 1 0 1-80 1 80 1-80 1 33 1 0 1-33 1 33 1 47 1-47 1 127 1-127 1-33 1 33 1-33 1 33 1 0 1-33 1 33 1 127 1-127 1 0 1 0 1 0 1-33 1 33 1 47 1 0 2-126 1 126 1-47 1 0 1 47 1-80 1 33 1 0 1 47 1-80 1 0 1 0 1 80 1-47 1 47 1-47 1-58 1 58 1 47 1-47 1 47 1-47 1 47 1-105 1 0 2 25 1 80 1-47 1 127 1-127 1 0 1 0 1 0 1-33 1 33 1 0 1-33 1 33 1-33 1 80 1-105 1 25 1 33 1 47 1 0 1-80 1-25 1 25 1 0 1 80 1-47 1-79 1 79 1-79 1 79 1-33 1-46 1 79 1 47 1 80 1-80 1-47 1-79 1 79 1-33 1 0 1 80 1 0 1-47 1-58 1 0 1 58 1 0 1 47 1-80 1 80 1 0 1-105 1 105 1-47 1-58 1-21 1 79 1 0 1 0 1-33 1 33 1 0 1 47 1-80 1 33 1 0 1 47 1-47 1-33 1 80 1-105 1 105 1-47 1 47 1-47 1-33 1 0 1 33 1 0 1 127 1-80 1-47 1 0 1 0 1 0 1 47 1-105 1 58 1 0 1-33 1 0 1 80 1-47 1 47 1-80 1 33 1-33 1 33 1 0 1 47 1-47 1 47 1-80 1 80 1-47 1 0 1 0 1 0 1 47 1-47 1 0 1 47 1-80 1 33 1 0 1 0 1 0 1 47 1 0 1-47 1 47 1 0 1-47 1 0 1 0 1 47 1-80 1 0 1 0 1 33 1 0 1 0 1 0 1 47 1 0 1 0 1-105 1 185 1-80 1 0 1-47 1 0 1 0 1 47 1-47 1 0 1 0 1 47 1-80 1 80 1 0 1-47 1 0 1 47 1 0 1 0 1-47 1 47 1 0 1-47 1 47 1-47 1-79 1 21 1 58 1 0 1 47 1-47 1 0 1 47 1-47 1 0 1 47 1 0 1 0 1 0 1-47 1 47 1 0 1-47 1 0 1 47 1 0 2 0 1-80 1 80 1 0 1 0 1 80 1-80 1-47 1 47 1 0 1 0 1 0 1 0 1 0 1 0 1 0 1-80 1 80 1-47 1 47 1 0 1 0 1-47 1 47 1 0 1 0 2-47 1 0 1 0 1 0 1 47 1 0 1 0 1-47 1-33 1 33 1 0 1 0 1 47 1-80 1 80 1-80 1 33 1 47 1-47 1 0 1 47 1-47 1 0 1 0 1 0 1 47 1 0 1-47 1 47 1 0 1-47 1 47 1 0 1 0 1 0 1 0 1 0 1-47 1 127 1-127 1 127 1-80 1-47 1 47 1 0 1 80 1-127 1 47 1-47 1 127 1-127 1 0 1 47 2 0 1-47 1 47 1 0 1 0 1 0 1 0 1-47 1 0 1 47 1-80 1 80 1 0 1 0 1-47 1 127 1-127 1 47 1-105 1 185 1-127 1 0 1 47 1-47 1 47 1 0 1 0 1-80 1 80 2-47 1 0 1 0 1 47 1 0 1-47 1 0 1 47 1-47 1 47 1 0 1 0 1 80 1-80 1 0 1-47 1 0 1 0 1-58 1 105 1-47 1 47 1-47 1 0 1 0 1 47 1 0 1 0 1-47 1 47 1-47 1 0 1 0 1 0 1 47 1-47 1 47 1-47 1 47 1 80 1-80 1 0 1-47 1 0 1 47 1 0 1 0 1 0 1-47 1 0 1 0 1 47 1-47 1 0 1 0 1 0 1 47 1 0 1-80 1 80 1 0 1 80 1-127 1 47 1-47 1 0 1 47 1 0 1-47 1 47 1 80 1-80 1-47 1 0 1-33 1 80 1-80 1 80 1 0 1 0 1 0 1-47 1 47 1-47 1 47 1 0 1-47 1 47 1 0 1-80 1 80 1 80 1-80 1 0 1 0 1 0 1 0 1-47 1 0 1-33 1 33 1 127 1-127 1 47 1 0 1-47 1 0 1 0 2 0 1 0 1 47 1 80 1-80 1 0 1 0 1-47 1 47 1-47 1-33 1 80 1 0 1 0 1-47 1 47 2 0 1 0 1-80 1 80 1 0 1 0 1-80 1 80 1 80 1-185 1 185 1-127 1 47 1-47 1 47 1 0 1-47 1 47 1 0 1-47 1 47 1-47 1 47 1 80 1-160 1 33 1 47 2 80 1-127 1 47 1-47 1 47 1-80 1 0 1 80 1 0 1 0 1 0 1-47 1 47 1-47 1 47 1 0 1 0 1 80 2-185 1 58 1 47 1 0 1 0 1 0 1 0 1-47 1 47 1-47 1 47 1-80 1 33 1 0 1 0 2 47 1 0 1 0 1 0 1 0 1 0 1 80 1-80 1 0 1 0 1-80 1 33 2 47 1 0 1 0 1 0 1 0 1 0 1 0 1 0 1 0 1-47 1 47 1 0 1-47 1 0 1 47 1 0 1 0 1-47 1 47 1 0 1-47 1 47 1 0 1 0 1 0 1-47 1 0 1 47 1 0 1 0 1-47 1 47 1-47 1 0 1 47 1-47 1 47 1 0 1-47 1 47 1-47 1 47 1-47 1 47 1 0 1 0 1-47 1 0 1 47 1-47 1 47 1 0 1-105 1 58 1 0 1 47 1 0 1 0 1 0 1 80 1-127 1-58 1 25 1 33 1 0 1 0 1 0 1 47 1 0 1 0 1 0 1-47 1 0 1 0 1 47 1-80 1 80 1-47 1 47 1-47 1 47 1 0 1 0 1 0 1 0 1-47 1 47 1 0 1-47 1 0 1 0 1 47 1 0 1 0 1 0 1 0 1 0 1 0 1-47 1 127 1-80 1 0 1-80 1 33 1 47 1 0 1 0 1 0 1-47 1 47 1-47 1 47 1 0 1 0 1 0 1 0 2 0 1 0 1 0 1 0 1-47 1 47 1-47 1 47 1 0 1 0 1-47 1 47 1-80 1 80 1-47 1 0 1 47 1 0 1 80 1-80 1 0 1 0 1 80 1-80 1-47 1 47 1 0 1 0 1-80 1 33 1 0 1 0 1 47 2 0 1 0 1 0 1-47 1 0 1 47 1 0 1 0 1 0 1-47 1 0 1 0 1 0 1 0 1 47 1 0 1-47 1 0 1 47 1 0 1-47 1 47 1 0 1-47 1 47 1-47 1-33 1 33 1 47 1 0 1 0 1 0 1 0 1 0 1-47 1-33 1 33 1 47 1 0 1 0 1-47 1 0 1 47 1 0 1 0 1-47 1-33 1 80 1-47 1 0 1 0 1 47 1 0 1-47 1 47 1-47 1 0 1 47 1 0 1-47 1 0 1 0 1 47 1-47 1 0 1 47 1 0 1-47 1-33 1 33 1 47 1 0 1-47 1 0 1 47 1-47 1 47 1-47 1 0 1 0 1 47 1-47 1 0 1 47 1-47 1 47 2-47 1 47 1 0 1 0 1 0 1-126 1 79 1 47 1 0 1-47 1 0 1 0 1 0 1 0 1 0 1 47 1-47 1 47 1 0 1 0 1-47 1 0 1 0 1-33 1 33 1 0 1 0 1 47 1-47 1 47 1 0 1 0 1 0 1 0 1-47 1 47 1 0 1-47 1 47 1 0 1-47 1 47 1-47 1-58 1 105 1 0 1 0 1 0 1-47 1-33 1 80 1 0 1 0 2-47 1 47 1 0 1-47 1 0 1 47 1-47 1 0 1 0 1 47 1 0 1-80 1 80 1-80 1 33 2 47 1 0 1 0 1-80 1 33 1 47 1 0 1-80 1 33 1 47 1 0 1-47 1-33 1 80 1 80 1-160 1 33 1 0 1 0 1 47 1 0 1-80 1 0 1 33 1 47 1 0 1-47 1 0 1 47 1 0 1-80 1 33 1 47 1 0 1-47 1-33 1 33 1 0 1 47 1 0 1 0 1-80 1 33 1 47 1-47 1 47 1 0 1-47 1-33 1 80 1 0 1-105 1 58 1 0 1 0 1-33 1 33 1 0 1-33 1 33 1 0 1 0 1 0 1 47 1 0 1-47 1 47 1 0 1 0 1-47 1-97 1 97 1 0 1 47 1 0 1-47 1 0 1 0 1 0 1 47 1 0 1-47 1 0 1 0 1 0 1 47 1 0 1-80 1-25 1 25 1 160 1-127 1 0 1-33 1 80 1-47 1 0 2 0 1 0 1 0 1 0 1-33 1 80 1-80 1 0 1 33 1 47 1-47 1 0 1 0 1 0 1 0 1-33 1 33 1-33 1 33 1 0 1 0 1-33 1 33 1 47 1-47 1 47 1 0 1-47 1 0 1 0 1 0 1 47 1-105 1 0 1 25 1-25 1 105 1-47 1 0 1 0 1 47 1-47 1 0 1-33 1 80 1 0 1-47 1-79 1 126 1 0 1-47 1 47 1-80 1 33 1-79 1 79 1 0 1 0 1 47 1-47 1 47 1-144 1 39 1 58 1 47 1-80 1 0 1 33 1 0 1 0 1-33 1-46 1 79 1 0 1-79 1 21 1 58 1-33 1 80 1-47 1-58 1 0 1 25 1 0 1 0 1-25 1-54 1 79 1-25 1-21 1 126 1-105 1 25 1 80 1-80 1 33 1 47 1-105 1 25 1 160 1-224 1 64 1-25 1 25 1 33 1-33 1-25 1-54 1 79 1 0 1-79 1 54 1 25 1-46 1 79 1-79 1 46 1 80 1-47 1-97 1 64 1-46 1 79 1-58 1-21 1 79 1-33 1 0 1-64 1 18 1-18 1 97 1-33 1-46 1-18 1 97 1-58 1-39 1 39 1-21 1-47 1 47 1 0 1 21 1 105 1 0 1-173 1 47 1 126 1-159 1 15 1 64 1-93 1 47 1 21 1 0 1-68 1 93 1-64 1 0 1 144 1-105 1-21 1 79 1-97 1 64 1 0 1 0 1-46 1-47 1 173 1-173 1 68 1 0 1-21 1 46 1 0 1 33 1-97 1 39 1 25 1-25 1-39 1 97 1-112 1 54 1 0 1-39 1 39 1 0 1-39 1 0 1 64 1-79 1 15 1-15 1 79 1 0 1-64 1 39 1 0 1-39 1 18 1 79 1-112 1 33 1-18 1 0 1 97 1-79 1 46 1-64 1 18 1 46 1-46 1-59 1 26 1-14 1 68 1 25 1-46 1-18 1 0 1 64 1-105 1 12 1 14 1 54 1-39 1 64 1-93 1 0 1 14 1-26 1 59 1-18 1 224 1-239 1 33 1-47 1-73 1 40 1-40 1 50 1 37 1 15 1-95 1 7 1 127 1-54 1-14 1-73 1-24 1 126 1-62 1-33 1 7 1-38 1 97 1 14 1-37 1-19 1-24 1 54 1-11 1-50 1 120 1-113 1-51 1 84 1-18 1 65 1-111 1 64 1-40 1 50 1 0 1-63 1 63 1-19 1 9 1 47 1-73 1 47 1-21 1-18 1-29 1 14 1-20 1 27 1-7 1-26 1 26 1-20 1 74 1-105 1 44 1-30 1 11 1 0 1 0 1 33 1-63 1 122 1-80 1 29 1-29 1-33 1 0 1 90 1-85 1-48 1 39 1 75 1-66 1-61 1 96 1 7 1 0 1-47 1 40 1-24 1-29 1-43 1 118 1 28 1-36 1-33 1 6 1 20 1-126 1 126 1-76 1 0 1-32 1 115 1-38 1 5 1 26 1-20 1 27 1-133 1 33 1 51 1-14 1-27 1-7 1 53 1-31 1 31 1-82 1-5 1 41 1 52 1-49 1-13 1 51 1-18 1 9 1-9 1-36 1 9 1-39 1 12 1 18 1 20 1-40 1 60 1-84 1 24 1-13 1 24 1-14 1 36 1-22 1 58 1-40 1-68 1 95 1-20 1-62 1-36 1-2 1 66 1 6 1-74 1 25 1 85 1-82 1 61 1-28 1-29 1-28 1 64 1-5 1-41 1 4 1 4 1 62 1-70 1-37 1 10 1 91 1-87 1-8 1 88 1-67 1-8 1-37 1 17 1 22 1-15 1 4 1 29 1-14 1-41 1 33 1-33 1 44 1-29 1 41 1-44 1-39 1 37 1-15 1 23 1-25 1 24 1-26 1 1 1-14 1-5 1-16 1 35 1-28 1 22 1-10 1 23 1-22 1-7 1-1 1 18 1-28 1 9 1 13 1-56 1 22 1-16 1 22 1-3 1-6 1 1 1-20 1 0 1 12 1-4 1-25 1 14 1-5 1-28 1 22 1 6 1-10 1-19 1 11 1-3 1-9 1-5 1-26 1 4 1 3 1-8 1 6 1-7 1-12 1 1 1 1 1-21 1 19 1-16 1-5 1-5 1 0 1-2 1-14 1 3 1-5 1 0 1-12 1 1 1-2 1-5 1-4 1-4 1-1 1-3 1-8 1-3 1-1 1-3 1-8 1-2 1 0 1-7 1-1 1-9 1 2 1-5 1-3 1-3 1-2 1-9 1 2 1-6 1 1 1-8 1-3 1 0 1-3 1-3 1-6 1-5 1-2 1-5 1-3 1-1 1-2 1-3 1-7 1-3 1-2 1-4 1-4 1-4 1-2 1-3 1-4 1-1 1-4 1-4 1-4 1-5 1-2 1-3 1-6 1-1 1-4 1-3 1-5 1-3 1-5 1-1 1-4 1-5 1-2 1-6 1-4 1-4 1-5 1-3 1-6 1-4 1-6 1-5 1-5 1-6 1-6 1-6 1-6 1-5 1-5 1-4 1-5 1-5 1-4 1-5 1-5 1-4 1-3 1-2 1 0 1 0 1 1 1 3 1 3 1 4 1 3 1 5 1 4 1 5 1 4 1 4 1 4 1 6 1 4 1 6 1 5 1 6 1 6 1 7 1 5 1 6 1 8 1 6 1 7 1 9 1 9 1 7 1 9 1 12 1 8 1 8 1 12 1 7 1 8 1 7 1 9 1 8 1 11 1 3 1 10 1 8 1 5 1 5 1 10 1 9 1 8 1 8 1 2 1 9 1-3 1 10 1 4 1 8 1 4 1 1 1 9 1 11 1 1 1 6 1 10 1-9 1 8 1-4 1 7 1 6 1 21 1-11 1-4 1 25 1 4 1-7 1 6 1-1 1 15 1-6 1 0 1 27 1-7 1-13 1 27 1 4 1 5 1 4 1 13 1-24 1 29 1-28 1 11 1 23 1-16 1 44 1-44 1 36 1 3 1 6 1-29 1 12 1 35 1-16 1 6 1 36 1-53 1 43 1-2 1 19 1-29 1-12 1 54 1-8 1 44 1-36 1-13 1 49 1-51 1-29 1 62 1-2 1 26 1-19 1 2 1-10 1 72 1-82 1 46 1 0 1 24 1-63 1 52 1 33 1-131 1 142 1-39 1-54 1 27 1 2 1 89 1-64 1 6 1-71 1 71 1 63 1-89 1 100 1-56 1-85 1-7 1 142 1-66 1 39 1-16 1 0 1-34 1 114 1-136 1 94 1 0 1 0 1 0 1-14 1-31 1 4 1-25 1 82 1-30 1 56 1-80 1 87 1 36 1-63 1-52 1 41 1-69 1 58 1 28 1 21 1-63 1 5 1 94 1-107 1 71 1-7 1 33 1-75 1-45 1 153 1-80 1 38 1-38 1 21 1 73 1-56 1 19 1-43 1-26 1 106 1-14 1-51 1 0 1 80 1-102 1 14 1 47 1-110 1 30 1 80 1-54 1 80 1-111 1 55 1-50 1 80 1-91 1 117 1-100 1-27 1 113 1 0 1-23 1-36 1 73 1-37 1-28 1-8 1 0 1 17 1 19 1 23 1 47 1-98 1 39 1 41 1 18 1-59 1 12 1-23 1 0 1-10 1 10 1 23 1-33 1 21 1-21 1-9 1 110 1-21 1-80 1 62 1-29 1 93 1-93 1 68 1-39 1-15 1 0 1 15 1-15 1 15 1 18 1-18 1 39 1-39 1-62 1 101 1-39 1 39 1-21 1 46 1-64 1 39 1-21 1-33 1 33 1-59 1 105 1 0 1-64 1 39 1 25 1-25 1-39 1 64 1-93 1 93 1 0 1-46 1-18 1-15 1 33 1 46 1 0 1-79 1 112 1-79 1 46 1-25 1-54 1 79 1 0 1-25 1 58 1 0 1-33 1 33 1 0 1-58 1 25 1-79 1 33 1 21 1 0 1 185 1-239 1 33 1 46 1 33 1-58 1 58 1-58 1-21 1 79 1-79 1 46 1-46 1 21 1 25 1 0 1 33 1-33 1-79 2 79 1-46 1 126 1-80 1-25 1-39 1 144 1-80 1 0 1 33 1-33 1 0 1 33 1-33 1 0 1-64 1 18 1 46 1 33 1-33 1 80 1-80 1-46 1 21 1 185 1-206 1 126 1-105 1 105 1-80 1-64 1 64 1 33 1 0 1-112 1 33 1 79 1-58 1 58 1-33 1 33 1-33 1-46 1 0 1 21 1 25 1 80 1-144 1 97 1 47 1-105 1 58 1-97 1 18 1 46 1 0 1-25 1 0 2 0 1 105 1-80 1 0 1 80 1-126 1 46 1 0 1-25 1 58 1 0 1-33 1-25 1 58 1-33 1 0 1 0 1-25 1 58 1-33 1 33 1 0 1-33 1 33 1 0 1 0 1-33 1 80 1-105 1 105 1-144 1 97 1 0 1 0 1 0 1 0 1 47 1 0 1-80 1-25 1 0 1-21 1 206 1-80 1 0 1-47 1-97 1 39 1 105 1-80 1-25 1 25 1-25 1 58 1-79 1 79 1 0 1 47 1-105 1 58 1 0 1 0 1-58 1 25 1-25 1 105 1-47 1 47 1 0 1-80 1-25 1 0 1 105 1-105 1 58 1 0 1 0 1 0 1 0 1-33 1 80 1-105 1 185 1-80 1-47 1 47 1-80 1 0 1 0 1 80 1-80 1 80 1 0 1 80 1-185 1-21 1 79 1-33 1 0 1 33 1-79 1 206 1-127 1 0 1-79 1 46 1-25 1 58 1 0 1 47 1-47 1 0 1-79 1 21 1 25 1-46 1 79 1-33 1-25 1 0 1 25 1-46 1 46 1 33 1 47 1 0 1 0 1-47 2 0 1 0 1-58 1-21 1 0 1 46 1 33 1-33 1 33 1-33 1-25 1 58 1 0 1-33 1 80 1-80 1 33 1 47 1 0 1 0 1-80 1 0 1 33 1 47 1-47 1 0 1 0 1 0 1-33 1-25 1-21 1 46 1 0 1-25 1 105 1-105 1 58 1 0 1 47 1 0 1-47 1 47 1 0 1-47 1 47 1-47 1 47 1 0 1-80 1 80 1 0 1-80 1 0 1 33 1-33 1-64 1 97 1 0 1-58 1 0 1 25 1-25 1 185 1-127 1 0 1 47 1-80 1 33 1-33 1-25 1 25 1 0 1 80 1-105 1 58 1 0 1 0 1 47 1-105 1 25 1 33 1 47 1-80 1 33 1-33 1 0 1 0 1-64 1 0 1 144 1-80 1-46 1 0 1 21 1 25 1-64 1 64 1 80 1-173 1 93 1-105 1 59 1-59 1 12 1 0 1 93 1-79 1 15 1 0 1 18 1 0 1-33 1-65 1 51 1-42 1-38 1 21 1 0 1-38 1-20 1 9 1 16 1-5 1-45 1-32 1 32 1 56 1-138 1 68 1-99 1 73 1 0 1-113 1-33 1-21 1-314 1-235 1 0 1 0 1 0 1 0 1 254 1 318 1 10 1 69 1-1 1 34 1 76 1-126 1 115 1-50 1-13 1-13 1 45 1 46 1 8 1-8 1 31 1-10 1 10 1 37 1 7 1-14 1 61 1 12 1-59 1 36 1 23 1-23 1 37 1 54 1-54 1 15 1 0 1 0 1 18 1-47 1 68 1 0 1-39 1-15 1 33 1 79 1-58 1-39 1 18 1 21 1 25 1 0 1-46 1-18 1 39 1 25 1-25 1-21 1 0 1-18 1 64 1 33 1 0 1-33 1-25 1-21 1 0 1 79 1 47 1-80 1 33 1 0 1 0 1 0 1-33 1 33 1-58 1 25 1 0 1 33 1-33 1 33 1-79 1 46 1 0 1 80 1-47 1-33 1 33 1-33 1 80 1-47 1 0 1 47 1-47 1-58 1 25 1 33 1-33 1 80 1-105 1 58 1 47 1-47 1 0 1-33 1 33 1-33 1 0 1 33 1-33 1 33 1 47 1-80 1 80 1-80 1 33 1-33 1 80 1 0 1-47 1-58 1 58 1 47 1-47 1-58 1 105 1-47 1 47 1-47 1 47 1 80 1-127 1 0 1 47 1-47 1 47 1-47 1 127 1-127 1 0 1-97 1 144 1-80 1 33 1-33 1 0 1 33 1-33 1 0 1 80 1-47 1 0 1 127 1-80 1 0 1-80 1 33 1 47 1-47 1 0 1 0 1 0 1 47 1-80 1 33 1 0 1 0 1 0 1-33 1 33 1 0 1 0 1 0 1 0 1 0 1 47 1 0 1-80 1 33 1 47 1-80 1 33 1 127 1-127 1 0 1 0 1 0 1 47 1-47 1 0 1 0 1 0 1 0 1 47 1-47 1-33 1 33 1 0 1 47 1-47 1 47 1-47 1 0 1 47 1-47 1 0 1 0 1 47 1 0 1-80 1 33 1 0 1 0 1 0 1 0 1 0 1 0 1 47 1-47 1 0 1 0 1-33 1 33 1 47 1 0 1-47 1 0 1 0 1 0 1 0 1-58 1 25 1 33 1-58 1 58 1 0 1 0 1-58 1 0 1 58 1 47 1-80 1 80 1-47 1 47 1-80 1 0 1 80 1-47 1 0 1 0 1 47 1-80 1 80 1-47 1-33 1 33 1 0 1-33 1 33 1 0 1-58 1 105 1 0 1-80 1 0 1 80 1-47 1 0 1-33 1 33 1 0 1 0 1 47 1 0 1-47 1 127 1-127 1 0 1 0 1 47 1 0 1-47 1-79 1 79 1 0 1 0 1 0 1 0 1 0 1 47 1 0 1 0 1-105 1 58 1 47 1 0 1 0 1-47 1-33 1 33 1-33 1 80 1 0 1-80 1 80 1-47 1 47 1-47 1-33 1 0 1 80 1 0 1-47 1-79 1 126 1-47 1 0 1 0 1 47 1-47 1 0 1 47 1 0 1-80 1 80 1-47 1 0 1 47 1-47 1 47 1-105 1 58 1 0 1 47 2 0 1 0 1 0 1 80 1-160 1 33 1 47 1-47 1 47 1 0 1-47 1 47 1-47 1 47 1-105 1 105 1-47 1 47 1-80 1 33 1 47 1-47 1 0 1 0 1-33 1 33 1 47 1-47 1 0 1 0 1-33 1-25 1 58 1 0 1 47 1-47 1 0 1 47 1-47 1 0 1 0 1-33 1 33 1 47 1 0 1 0 1 0 1-47 1 0 1 0 1 0 1 0 1 47 1-47 1-33 1 33 1 47 1 0 1 0 1-47"/>
<path vector-effect="non-scaling-stroke" stroke-width="1.80" stroke="#ff0000" d="M0 4919l1 185 1-159 1 80 1-47 1-33 1 33 1-33 1 0 1 0 1 80 1-80 1 0 1 0 1-26 1 0 1 26 1-26 1 59 1-33 1 80 1-47 1 47 1-127 1 0 1 47 1-64 1 64 1-116 1 275 1-126 1-59 1 59 1-80 1 127 1-80 1-64 1 97 1 47 1-127 1 127 1-80 1 33 1-113 1 54 1 106 1-47 1 126 1-159 1 80 1-47 1-59 1 0 1 59 1-138 1 105 1 33 1-33 1-26 1 59 1-33 1-80 1 113 1 0 1 0 1 0 1-33 1 80 1-106 1 26 1 33 1 0 1-59 1 106 1 0 1 79 1-159 1 80 1-80 1 0 1-47 1 47 1-47 1 0 1-33 1 113 1-33 1 33 1-97 1 0 1 17 2 127 1-127 1 21 1 185 1-126 1 47 1-106 1-21 1 80 1-80 1 0 1 127 1-106 1 26 1 33 1-80 1 80 1 47 1-127 1 80 1-59 1-38 1-16 1 80 1-26 1-54 1 0 1 160 1-106 1 26 1 33 1-33 1-64 1 17 1 0 1 47 1 80 1-106 1-54 1 160 1 0 2-80 1 80 1-106 1 59 1 0 1-59 1 106 1-47 1-80 1 21 2-21 1 80 1-59 1 26 1-26 1-38 1 97 1-33 1-26 1 0 1-21 1 21 1 59 1-33 1 33 1-80 1 0 1 127 1-47 1 0 1 0 1-33 1 33 1 47 1-80 1 33 1 0 1 0 1 47 1 0 1-127 1 21 1-38 1 97 1-33 1-47 1 206 1-126 1-59 1 59 1-59 1-38 1 97 1-59 1 0 1 0 1 26 1 0 1-26 1 26 1 33 1 0 1 0 1 126 1-159 1 159 1-79 1-106 1 59 1-33 1 33 1-33 1-26 1 59 1 0 1-33 1-116 1 69 1 127 1-80 1-93 1 67 1 0 1 26 1-47 1-33 1 80 1 33 1-59 1 185 1-79 1-127 1 21 1 0 1 26 1-47 1 21 1 59 1-80 1 127 1-144 1 64 1 33 1-126 1 173 1-144 1 97 1-126 1 93 1 80 1 79 1-206 1 47 1 0 1 80 1-127 1 21 1 59 1 47 1-144 1-16 1 54 1 0 1-67 1 67 1 106 1-47 1 126 1-126 1 47 1-144 1 17 1 80 1 47 1-80 1-26 1-21 1 47 1-47 1 21 1 106 1-47 1 47 1-106 1 26 1 33 1-80 1 47 1-116 1 116 1-47 1 47 1 33 1 126 1-126 1 0 1-97 1 64 1 0 1 33 1-113 1 33 1 21 1 26 1-26 1 26 1-105 1 0 1 41 1 223 1-206 1 21 1 26 1-26 1 26 1-26 1 26 1 80 2-80 1 80 1 0 1-80 1-26 1 59 1-59 1 106 1-144 1 0 1 97 1 0 1-59 1 26 1-26 1-38 1-41 1 41 1 144 1-106 1 0 1 59 1-59 1 26 1 0 1 159 1-223 1 144 1-47 1-138 1 185 1-80 1-26 1 185 1-223 1 0 1 97 1-33 1-144 1 64 1 80 1-26 1 106 1-144 1 38 1-110 1 216 1-80 1 0 1-26 1 106 1-127 1 127 1-106 1-38 1 97 1-80 1-58 1 41 1 223 1-185 1-54 1 33 1-58 1 105 1-47 1 47 1-26 1 106 1-47 1 126 1-185 1 106 1-106 1-79 1 185 1-206 1 100 1 26 1-80 1 113 1-33 1-64 1 38 1 106 1-173 1 29 1-29 1 126 1-80 1 0 1 0 1 0 1-79 1 159 1-33 1 80 1-127 1-46 1 13 1-13 1 67 1-38 1 0 1 38 1-21 1 47 1-126 1 100 1 59 1-113 1-25 1 138 1-97 1 64 1 0 1-64 1 17 1 0 1 47 1-80 1-72 1 152 1-126 1 79 1 21 1-21 1-105 1 126 1-38 1-72 1 89 1-69 1 23 1 46 1-17 1-62 1 126 1 0 1-64 1-16 1-13 1 67 1-54 1 33 1-58 1 79 1-38 1 17 1-33 1 16 1-52 1 90 1-79 1-39 1 80 1 17 1 21 1-54 1 33 1-17 1 97 1-138 1 25 1-13 1 93 1-105 1 12 1 46 1-33 1-36 1-43 1 43 1-20 1 136 1-93 1 29 1-29 1 13 1-46 1 62 1-102 1-30 1 52 1 64 1-25 1-11 1-10 1 0 1 10 1 36 1-13 1-23 1-36 1 126 1-54 1-72 1 36 1-28 1 8 1-23 1 7 1 47 1-68 1 80 1-80 1 80 1-12 1-110 1 99 1-20 1-49 1 0 1 92 1-86 1 13 1 0 1 40 1-70 1 11 1 59 1-98 1 119 1-21 1 10 1-43 1 23 1 0 1-43 1 43 1 56 1-13 1-98 1 6 1-16 1 57 1-15 1 0 1 15 1 64 1-56 1 0 1 10 1-85 1 52 1 15 1-29 1 0 1 21 1 8 1 18 1-75 1 0 1 108 1-66 1 23 1-30 1 73 1-127 1-19 1 123 1-63 1 86 1-113 1 70 1-30 1-19 1 6 1 13 1-19 1-30 1 36 1 53 1-94 1 94 1-70 1 44 1-7 1 54 1-91 1 70 1-59 1 49 1-55 1-20 1-13 1 18 1 21 1-43 1 27 1 5 1 44 1-33 1 19 1-13 1 0 1 0 1 27 1-63 1 30 1 12 1-18 1-68 1 31 1 102 1-65 1-55 1 61 1 19 1-25 1 32 1-42 1-19 1 19 1 22 1 13 1-40 1-9 1-21 1 63 1-23 1-19 1 49 1-70 1 30 1-67 1 58 1 0 1-13 1 8 1 0 1 24 1-24 1-42 1 89 1-6 1-27 1-33 1 28 1 26 1-30 1-5 1-4 1-12 1 25 1-13 1 4 1-19 1 73 1-40 1-5 1-4 1 14 1-10 1-28 1-49 1 87 1-64 1 41 1 18 1-5 1-32 1-30 1 72 1-38 1-7 1 7 1-23 1 56 1-26 1 4 1 37 1-62 1-6 1 16 1 11 1-11 1 11 1-7 1 24 1-50 1-18 1 15 1 12 1 45 1-84 1-13 1 84 1-86 1 104 1-9 1-38 1 10 1-16 1-11 1-13 1-10 1 44 1-13 1-28 1 17 1-44 1 18 1 2 1 2 1 33 1-3 1-18 1-29 1 15 1 32 1-23 1-9 1 19 1-8 1-18 1 28 1 44 1-58 1-5 1-9 1 0 1 14 1 0 1-28 1 14 1 31 1-22 1-2 1-41 1 39 1 53 1-7 1-17 1-18 1-18 1 28 1-28 1 11 1-4 1 6 1 0 1-17 1-9 1-13 1 44 1-41 1 46 1-45 1-17 1 55 1-64 1 37 1-3 1 23 1-21 1 25 1-2 1-16 1-2 1 16 1-34 1 15 1 26 1-39 1-11 1-7 1-17 1 67 1-31 1-14 1 36 1-29 1 14 1-11 1-30 1 31 1-11 1-11 1 16 1-9 1-6 1 8 1 3 1 16 1-39 1-3 1 22 1-31 1 11 1-23 1 28 1 7 1 31 1-23 1-17 1-7 1 18 1-45 1 53 1-17 1-38 1 22 1 16 1-1 1 11 1-13 1-26 1-21 1 17 1-20 1 11 1 16 1 3 1-15 1 19 1 17 1-9 1-9 1-10 1 1 1-3 1-10 1 11 1-4 1-1 1-7 1-11 1 4 1 9 1-19 1 24 1-23 1-14 1 3 1 2 1 9 1-6 1-25 1 22 1 1 1-7 1-25 1 20 1-12 1 10 1 17 1-22 1 1 1-25 1 45 1-15 1-11 1-16 1 20 1-18 1-8 1-10 1 17 1-2 1-7 1 26 1-43 1 16 1-5 1 18 1-34 1 3 1-6 1 16 1-10 1 4 1 8 1-16 1-3 1 4 1-12 1 1 1 2 1-28 1 27 1-25 1 4 1 6 1 11 1-10 1-10 1-4 1-17 1 13 1 7 1-24 1 8 1-21 1 3 1 4 1-14 1-1 1-11 1 2 1-4 1 11 1-22 1 9 1-10 1-6 1 2 1-4 1-5 1-13 1 5 1-5 1-19 1 14 1-7 1-7 1-10 1 3 1-9 1 6 1-15 1 14 1-10 1-15 1-5 1-4 1 6 1-10 1-8 1 1 1-1 1-2 1-12 1-17 1 5 1-3 1-10 1-13 1-8 1 5 1-15 1-15 1-8 1-9 1-5 1-9 1-16 1-5 1-13 1-13 1-9 1-9 1-13 1-21 1-18 1-23 1-19 1-18 1-13 1-16 1-9 1-10 1-12 1-7 1-10 1-11 1-7 1-4 1-7 1-7 1-8 1-4 1-5 1-5 1-1 1-2 1 2 1 2 1 5 1 3 1 5 1 10 1 6 1 13 1 15 1 24 1 17 1 16 1 22 1 22 1 18 1 22 1 17 1 18 1 20 1 7 1 16 1 7 1 19 1 11 1 13 1 15 1 5 1 12 1 12 1 11 1 3 1 18 1 0 1 15 1 5 1 2 1 16 1 3 1 6 1 14 1 7 1 9 1-3 1 10 1 11 1-12 1 22 1-2 1-6 1 19 1-7 1 15 1-1 1 3 1-12 1 18 1 2 1-2 1 3 1 4 1-14 1 23 1-7 1 13 1 0 1-11 1 14 1 16 1-8 1-10 1 9 1-6 1 22 1-3 1 2 1-7 1 12 1 27 1-7 1-4 1 3 1-9 1 27 1-11 1 19 1 4 1-1 1-5 1 16 1-7 1 2 1 12 1 8 1-22 1 21 1-22 1 35 1-22 1-1 1 1 1 13 1 19 1-11 1-20 1 10 1-1 1 21 1-12 1-1 1 7 1 0 1 8 1 16 1-7 1 1 1 0 1-17 1 43 1-32 1 7 1 19 1 5 1-15 1-8 1 19 1 17 1-24 1-16 1 7 1-10 1 14 1 51 1-7 1-1 1-9 1 0 1-8 1 10 1-15 1 20 1 20 1-26 1 8 1 2 1-1 1 15 1 1 1-22 1-5 1 12 1 5 1-26 1 35 1 25 1-29 1 14 1-10 1 4 1 16 1 29 1-61 1 53 1-14 1-16 1 5 1 29 1-37 1 32 1 15 1-13 1 6 1 11 1-22 1 27 1 0 1-17 1-4 1-21 1 55 1-57 1 38 1 8 1 21 1-29 1 17 1-13 1-25 1 13 1 5 1 45 1-29 1-5 1-34 1 48 1-7 1 9 1-47 1 54 1-2 1 18 1 22 1-16 1-58 1 41 1-2 1 0 1 39 1-26 1 9 1 7 1-65 1 58 1-12 1 12 1-22 1 54 1-12 1-29 1 26 1-26 1 12 1 38 1-28 1-19 1 42 1-16 1-37 1 62 1-70 1 32 1-7 1 13 1 37 1-30 1-3 1-7 1 22 1 4 1-19 1-14 1 52 1-14 1 36 1-22 1 0 1-52 1 101 1-94 1 61 1-51 1 70 1-30 1 0 1 11 1-54 1 19 1 9 1 10 1 16 1-30 1 19 1 0 1 52 1-57 1 22 1 0 1 20 1-42 1-42 1 0 1 58 1-47 1 73 1-47 1 47 1-7 1-7 1-55 1 0 1 55 1 7 1-19 1 49 1-96 1 80 1 0 1-7 1-20 1 63 1-28 1-52 1 91 1-31 1-23 1 43 1 0 1-43 1 15 1-35 1 27 1-80 1 88 1-35 1 20 1 79 1-152 1 116 1-28 1-71 1 36 1 13 1-13 1 43 1 20 1-90 1 70 1-30 1 7 1 54 1-39 1-8 1-39 1 32 1-52 1 26 1 0 1 12 1-23 1 116 1-36 1 23 1-98 1 86 1-80 1 80 1-39 1 8 1 20 1-63 1 99 1 0 1-72 1 105 1-138 1 41 1 39 1-39 1 51 1-12 1-91 1 70 1 10 1 0 1-43 1 15 1 39 1 0 1 0 1-39 1 8 1 20 1 23 1-59 1 8 1-15 1 66 1-80 1 47 1-10 1 31 1-11 1 36 1-72 1 88 1-62 1 79 1-58 1 12 1-12 1-21 1 46 1-46 1 62 1 17 1-33 1-46 1 62 1-29 1-23 1 0 1 52 1 64 1-144 1 8 1 110 1-54 1-72 1 72 1 33 1 0 1 0 1-58 1 0 1 12 1 13 1-13 1 13 1 16 1-41 1 0 1 58 1-79 1 62 1-29 1-12 1 25 1-86 1 86 1 0 1 16 1 64 1-116 1 149 1-138 1 41 1-41 1 105 1-93 1-33 1 62 1-29 1-12 1 58 1-17 1 0 1-16 1-36 1 23 1 13 1-46 1 10 1 90 1-54 1 113 1-185 1 152 1-116 1 69 1-17 1 38 1-67 1 93 1 0 1-47 1-17 1 17 1-69 1 11 1 41 1 144 1-160 1 0 1 80 1-47 1 127 1 0 1-80 1 33 1-80 1 80 1-97 1 64 1-80 1 54 1-79 1 79 1-38 1 64 1 159 1-206 1 0 1 80 1-149 1 69 1 80 1-33 1-93 1 67 1 0 1-21 1 47 1-47 1 0 1 127 1-173 1 13 1 33 1 127 1-80 1-93 1 93 1-47 1 21 1-79 1 105 1-64 1-41 1 58 1-33 1 54 1 26 1-26 1 26 1 0 1-47 1 0 1 80 1 126 1-79 1-106 1-21 1 127 1-47 1-59 1 59 1-59 1-67 1 46 1 21 1 106 1 79 1-79 1-106 1 0 1 59 1-80 1-58 1 58 1 206 1-159 1-80 1 113 1-33 1 33 1-59 1 0 1 26 1-26 1 26 1 80 1-106 1 26 1 80 1-106 1 0 1 59 1-33 1-47 1 47 1-64 1-41 1 185 1-80 1 0 1 0 1-47 1 127 1-47 1-138 1 58 1 127 1-106 1 26 1-80 1 239 1-79 1-80 1-26 1 26 1 0 1 159 1-206 1 127 1-160 1 113 1-80 1 80 1 0 1-97 1 0 1 38 1-21 1 127 1-127 1 21 1 0 1-54 1 0 1 16 1 64 1-26 1 59 1 0 1-80 1-17 1 97 1-59 1 26 1 80 1 0 1-127 1 127 1 0 1-80 1-26 1 106 1-80 1 80 1-80 1 33 1-33 1-26 1-54 1 16 1 0 1 17 1 21 1-21 1 80 1 47 1-106 1 59 1-59 1-21 1 206 1-185 1 26 1 0 1 80 1 79 1 0 1-159 1 0 1 159 1-79 1-80 1-64 1 64 1 0 1-47 1 80 1 47 1-80 1-64 1 64 1 159 1-126 1-33 1 33 1-80 1 127 1-106 1 26 1 80 1-80 1-47 1 80 1-33 1 80 1-127 1-33 1 113 1-33 1 0 1 80 1-80 1 0 1 0 1 33 1 126 1-239 1-25 1 79 1 185 1-275 1 90 1-54 1 16 1 64 1-47 1 21 1 26 1-47 1 21 1 59 1-59 1-67 1 29 1 64 1 33 1-59 1-90 1 149 1-33 1-80 1 33 1 127 1-80 1 0 2 80 1 0 1-106 1-38 1 64 1 80 1-106 1-21 1 80 1 47 1-127 1 127 2-106 2 0 1 106 1-80 1 80 1 0 1 0 1-144 1 64 1-26 1 0 1 59 1-33 1 33 1 0 1-138 1 79 1 26 1 159 1-206 1 80 1-59 1-38 1 17 1 0 1 0 1 206 1-126 1-80 1 206 1-159 1 159 1 0 1-79 1-47 1-33 1 33 1 0 1-113 1 80 1 33 1 0 1-33 1 80 1-173 1 126 1-59 1 26 1-64 1 97 1 47 1-80 1-64 1 144 1-144 1 38 1-38 1 0 1 38 1 59 1-80 1 80 1 0 1-59 1-38 1 0 1 17 1-58 1 105 1 80 1 0 1-80 1 159 1-126 1 0 1-97 1 144 1-127 1 0 1 47 1 80 1 0 1-144 1 64 1 33 1-113 1 16 1 38 1 106 1-80 1 80 1-80 1-26 1 0 1 59 1-33 1 159 1-159 1 80 1-106 1 106 1-80 1 80 1-144 1 97 1-80 1 21 1 106 1-144 1 38 1 0 1 59 1 0 1 47 1-47 1 0 1 126 1-223 1 144 1-47 1-113 1 80 1 0 1 80 1-106 2-21 1 21 1 59 1-59 1 185 1-79 1-106 1 0 1-21 1 47 1 80 1-106 1 185 1-159 1 80 1 0 1-106 1 59 1 0 1-97 1 97 1-59 1 59 1-80 1 47 1 80 1-106 1 59 1-33 1 0 1-64 1 64 1 0 1-26 1-38 1 97 1-80 1 127 1-160 1 160 1-80 1-26 1-21 1 206 1 0 1-159 1 0 1 0 1-26 1 26 1 33 1-59 1 26 1 0 1 80 1 79 1-239 1 54 1 0 1 106 1-80 1 33 1-33 1-64 1 38 1-38 1 17 1 0 1-33 1 80 1 80 1 0 1-80 1-26 1-21 1 127 1-47 1 126 1-206 1 47 1 33 1-59 1-54 1 160 1-106 1 0 1 106 1-80 1 33 1 47 1-47 1 0 1-33 1 0 1 80 1-80 1 80 1-47 1-97 1 64 1-26 1-38 1 38 1 26 1 0 1 159 1-206 1 21 1 106 1-47 1-113 1 113 1 47 1-47 1 47 1 0 1-106 1 59 1-113 1 113 1-97 1 64 1-47 1 206 1-126 1-33 1 33 1-97 1 0 1 64 1 80 1-47 1 47 1-80 1 0 1 159 1-159 1-64 1 64 1 0 1 80 1 79 1-126 1 47 1 0 1-80 1 159 1-159 1-93 1 126 1 47 1-80 1 33 1-33 1-47 1 47 1 33 1-149 1 196 1-80 1-47 1 0 1 21 1-21 1 80 1-33 1-80 1 0 1 239 1-252 1 93 1 33 1-33 1 0 1 80 1-127 1 80 1-33 1 159 1-159 1-47 1 80 1-33 1-26 1 26 1 0 1-80 1 80 1-64 1 97 1-33 2 0 1 0 1-64 1 38 1-21 1-17 1 144 1-144 1 144 1-80 1 0 1 33 1-126 1 173 1-47 1 0 1 0 1-97 1 0 1-29 1 93 1 0 1-105 1 58 1-17 1 64 1 0 1 0 1-26 1 106 1-47 1-80 1-46 1 126 1-80 1 127 1-127 1 47 1-47 1 80 1-126 1 29 1 97 1 126 1-126 1-97 1 144 1 0 1-80 1-26 1 106 1 0 1-144 1 17 1 0 1 21 1-21 1 206 1-159 1 0 1-64 1 64 1-26 1-67 1 126 1-59 1-67 1 173 1 0 1-47 1-59 1 26 1-64 1 17 1 47 1-47 1 21 1 106 1-127 1-17 1 144 1-127 1 80 1-138 1 105 1-26 1 26 1-47 1 127 1-80 1-64 1 38 1 59 1-113 1 54 1 59 1-126 1 29 1-41 1 79 1-100 1 100 1-54 1 80 1 0 1 0 1-26 1-21 1 206 1-223 1 64 1 0 1 0 1-64 1 0 1 144 1-127 1 21 1-38 1 97 1-80 1 0 1 47 1-80 1 113 1-126 1 173 1-80 1-26 1 26 1 0 1-64 1-62 1 100 1-21 1 47 1-47 1-46 1 173 1-144 1 97 1-159 1 126 1-47 1-17 1 64 1-64 1 144 1 79 1-206 1-46 1 126 1-59 1 26 1 33 1-59 1-38 1 97 1-80 1 21 1 185 1-159 1 0 1 0 1-47 1 47 1 80 1-47 1 0 1-80 1-97 1 64 1 113 1-177 1 64 1-25 1 105 1 0 1-80 1 80 1-26 1-54 1 80 1 80 1-80 1-80 1 54 1-90 1 52 1 38 1 26 1-93 1 67 1-38 1 0 1-80 1 144 1 0 1-93 1 46 1 47 1-105 1 138 1-80 1 80 1 0 1-138 1 58 1 21 1-21 1 80 1-138 1 79 1-38 1 64 1-80 1 16 1 17 1-97 1 224 1-106 1 0 1-100 1 100 1 26 1-26 1 26 1-64 1 38 1-21 1-46 1 29 1 17 1 21 1-21 1 127 1-80 1-26 1-38 1 38 1-21 1 21 1 185 1-223 1 97 1-113 1 113 1-59 1 0 1-38 1 0 1 0 1 38 1 106 1-127 1 21 1 0 1 26 1-26 1 59 1-59 1-54 1 54 1 59 1 0 1-59 1 26 1 0 1-26 1-21 1 47 1 0 1 80 1-47 1-97 1 17 1 0 1-17 1 97 1-59 1 59 1-33 1 0 1-47 1 47 1 0 1 159 1-252 1 173 1-127 1-33 1 33 1 21 1 0 1 106 1-80 1 33 1-59 1 59 1-159 1 159 1 0 1-80 1-46 1 46 1 0 1 80 1 0 1-33 1-93 1 126 1-80 1-46 1 13 1 80 1-26 1 59 1-33 1-47 1 0 1 80 1-59 1 26 1 33 1-80 1 80 1-33 1 80 1 0 1 0 1 0 1-127 1 0 1 80 1 47 1-127 1 80 1-33 1 0 1 159 1-79 1 0 1-127 1-33 1 113 1-80 1 0 1-46 1 126 1-59 1 59 1-59 1 26 1 0 1-80 1 113 1 0 1 47 1 0 1-106 1-38 1 38 1 59 1 0 1 0 1-33 1 0 1 33 1-97 1-52 1 90 1 59 1-33 1-93 1 126 1 47 1-173 1 67 1 106 1 0 1-47 1-159 1 159 1-97 1 38 1 59 1-126 1 46 1 127 1-196 1 90 1 0 1 59 1-59 1-100 1 206 1-106 1-100 1 159 1-59 1 185 1-223 1 64 1 33 1-59 1 0 1 26 1 0 1 33 1-80 1 21 1 185 1-185 1 26 1-64 1 144 1-106 1-38 1 0 1 144 1 0 1 0 1-47 1 47 1-47 1-33 1 159 1-223 1 0 1 38 1-21 1 21 1 0 1 106 1-80 1-26 1 26 2 0 1-26 1-21 1 80 1-126 1 93 2 0 1 159 1-126 1 0 1 0 2-97 1 97 1-97 1 38 1 185 1-185 1 59 1-33 1 33 1 47 1-127 1 80 1 0 1 126 1-159 1 80 1-80 1 0 1-26 1 59 1-59 1 185 1-79 1 79 1-79 1-80 1 80 1-47 1-80 1 80 1-80 1 47 1 33 1 0 1-33 1 80 1-127 1 21 1 106 1 0 1-47 1-33 1-126 1 206 1-80 1 33 1-59 1 0 1-79 1 41 1 17 1 80 1 47 1-47 1 126 1-126 1-59 2 59 1-33 1 0 1 33 1 47 1-47 1-80 1 0 1 0 1-17 1 64 1 80 1-80 1 159 1-159 1 159 1-79 1-106 1 185 1-185 1 106 1 0 1-80 1 0 1 80 1-47 1-59 1 59 1 47 1-80 1-105 1 79 1 106 1-47 1-33 1 0 1 0 1 80 1-80 1-26 1 0 1 106 1-80 1 80 1-80 1 33 1-33 1 33 1-59 1 0 1 26 1-80 1 54 1 106 1-47 1-33 1-26 1 59 1 0 1-33 1 159 1-126 1 0 1-33 1 33 1 126 1-206 1 47 1 33 1-33 1-47 1 127 1-144 1 0 1 38 1 0 1-21 1 47 1 0 1 159 1-126 1 0 1 0 1 0 1-33 1 80 1-47 1-33 1 33 1-97 1 0 1 38 1-21 1 47 1 80 1 0 1-80 1-47 1 0 1 0 1 47 1-80 1 33 1 47 1 33 1-59 1 106 1-80 1 0 1 0 1 80 1-127 1 47 1 0 1 159 1 0 1-126 1 0 1-80 1 47 1-26 1 26 1 80 1-106 1 59 1 47 1 0 1 0 1-47 1 47 1-47 1-59 1 59 1-33 1 0 2 80 1-127 1 0 1 80 1-97 1 97 1 0 1-59 1 26 1 0 1 33 1 0 1 0 1 0 1-97 1 144 1-144 1 38 1 59 1 0 1 126 1-206 1 21 1 106 1-47 1-80 1 0 1-17 1 144 1-80 1-26 1 0 1 26 1 33 1-33 1 0 1 33 1-113 1 160 1-127 1 0 1-17 1 64 1 80 1-47 1 0 1-33 1 33 1-33 1 0 1 80 1-80 1 0 1 80 1-80 1 0 1 80 1-127 1-33 1 16 1 144 1-47 1 126 1-79 1-127 1-33 1 160 2 0 1-80 1-47 1 127 1 0 1-47 1 126 1-223 1 97 1 47 1 0 1-47 1-33 1-26 1 26 1 33 1-97 1 144 1 0 1-127 1 206 1-159 1 80 1-80 1-26 1 26 1 0 1-26 1 106 1 79 1-185 1 106 1-47 1 47 1-80 1 159 1-79 1 79 1 0 1-126 1 47 1-127 1 21 1 0 1 0 1 26 1-80 1 113 1 47 1 79 1-185 1 26 1 0 1 80 1-106 1 26 1 80 1-80 1 0 1 80 1-106 1 59 1-33 1-64 1 97 1-59 1 59 1-59 1 106 1-80 1 80 1-80 1 33 1-59 1 26 1 159 1-126 1 47 1-47 1-59 1 59 1 0 1-33 1 33 1-80 1 127 1-47 1-59 1 185 1-126 1 0 1-33 1 0 1 0 1 0 1 0 1 33 2 126 1-159 2 33 1-126 1 173 1-127 1 21 1 0 1 59 1-113 1 54 1 26 1 0 1-47 1 80 1-97 1 97 1-33 1 0 1 80 1-127 1 47 1 33 1 126 1-159 1 33 1 47 1-80 1-47 1 21 1 106 1-173 1 93 1 159 1-159 1 33 1-33 1-47 1 80 1 47 1-80 1 33 1-80 1 80 1 0 1 0 1-59 2 26 1 0 1 0 1 33 1-113 1 80 1 159 1-79 1 79 1-159 1 0 1 80 1-80 1 33 2-59 1 106 1-196 1 149 1-33 1 33 1-80 1 127 1-160 1 113 1-59 1 59 1-33 1-47 1 127 1-80 1 80 1 0 1 0 1 0 1-127 1 80 1-59 1 26 1 33 1 0 1-80 1 21 1 59 1 0 1 47 1-106 1 26 1 0 1-47 1 47 1 0 1 159 1-185 1 26 1-47 1 47 1 0 1-26 1-21 1 0 1 206 1-126 1-97 1 17 1 80 1 0 1 0 1-33 1 33 1 47 1-127 1-17 1 38 1-38 1 144 1 0 1-127 1 21 1 106 1 0 1 0 1-80 1 80 1-80 1 0 1 80 1-47 1-80 1 80 1-59 1-110 1 136 1 0 1 33 1-59 1 59 1-33 1-47 1-79 1 206 1-127 1 127 1-127 1 47 1-93 1 46 1 127 1-144 1 17 1-46 1 13 1 33 1 0 1 47 1-93 1 93 1 33 1-159 1 126 1-47 1-33 1 16 1 17 1 80 1-159 1 79 1 21 1-100 1 46 1 33 1 47 1-80 1-25 1 79 1-38 1-52 1 11 1-39 1 51 1 0 1-12 1-31 1-65 1 5 1 23 1-38 1-9 1 76 1-47 1-41 1-7 1-10 1 38 1-35 1 7 1-17 1 36 1-23 1-38 1 8 1 37 1-50 1-39 1 69 1-57 1 40 1-26 1 16 1-16 1-43 1 22 1-8 1-9 1-14 1-28 1 12 1-11 1-21 1 4 1-15 1-12 1-16 1 16 1-25 1-12 1-30 1-9 1-4 1-27 1-25 1-31 1-35 1-25 1-39 1-55 1-59 1-76 1-93 1-290 1-264 1 0 1 0 1 0 1 0 1 208 1 310 1 122 1 71 1 71 1 36 1 38 1 53 1 39 1 12 1 5 1 26 1 14 1 37 1 17 1 10 1 15 1 5 1 8 1 0 1 38 1-31 1 64 1-5 1 20 1-44 1 52 1-11 1-11 1 55 1-13 1 13 1-2 1-25 1 41 1-27 1 34 1-32 1 49 1-56 1 14 1 36 1 16 1 13 1-57 1 54 1-14 1 10 1 0 1 19 1 33 1-15 1-14 1 41 1-27 1 70 1-100 1 156 1-13 1-12 1-11 1-10 1-47 1 21 1 47 1 0 1 58 1-17 1-62 1 100 1-38 1 38 1-110 1 56 1-56 1 110 1-21 1-17 1-52 1 52 1 0 1 38 1-38 1 64 1-47 1-17 1 64 1-80 1 33 1 80 1-59 1 106 1-106 1 0 1-90 1 116 1 33 1 0 1 0 1 0 1-59 1 0 1-38 1 97 1-59 1 106 1-47 1 47 1-144 1 64 1 33 1-33 1-26 1-21 1 0 1 80 1-97 1 223 1-206 1 21 1 0 1 0 1 185 1-206 1 0 1-17 1 0 1 64 1-47 1 80 1 0 1 47 1-80 1 0 1-26 1 106 1-127 1-33 1 160 1 0 1 0 1-106 1 59 1-113 1 239 1-206 1 80 1-59 1-21 1 47 1 33 1-59 1 59 1-59 1 0 1-67 1 29 1 0 1 64 1-26 1-21 1 80 1 0 1-80 1 80 1-59 1 106 1 0 1-160 1 113 1-33 1-26 1 26 1-64 1 17 1 47 1 80 1 0 1-47 1 126 1-159 1-80 1 80 1 80 1 79 1-185 1 185 1-126 1 0 1-33 1 33 1 47 1-127 1 21 1 0 1 59 1 0 1 0 1 47 1-80 1-47 1 47 1 33 1 126 1-185 1 26 1 33 1-33 1 33 1 0 1 47 1-80 1 0 1 0 1 80 1 0 1 79 1-79 1-127 1 80 1-97 1 64 1-26 1-38 1-16 1 113 1-97 1 64 1 0 1-47 1 80 1-97 1 97 1 126 1-159 1 33 1 0 1 47 1-144 1 38 1 26 1 0 1 33 1 126 1-79 1-80 1 0 1 80 1 79 1-79 1-47 1-59 1 106 1-80 1-26 1 59 1-80 1 21 1 106 1-80 1-47 1 80 1-33 1 159 1-185 1 26 1 80 1-106 1 106 1 0 1 79 1-126 1-80 1 47 1-47 1 80 1 0 1 47 1-47 1-33 1 80 1-106 1 26 1 80 1-80 1 80 1-106 1 26 1 80 1-47 1-97 1 64 1 0 1 80 1 0 1-47 1-33 1 33 1-80 1 0 1 47 2 0 1 33 1 47 1-47 1 47 1 0 1 79 1-185 1 0 1 59 1-33 1 0 1 33 1-97 1 64 1 33 1 47 1-144 1 144 1 0 1-47 1 47 1-47 1 0 1 47 1 0 1-127 1 206 1-126 1 0 1 0 1-59 1 26 1-47 2 47 2 33 1 126 1-206 1 127 1-127 1 127 1 79 1-159 1-47 1 127 1-80 1 0 1 159 1-79 1-80 1 0 1 33 1 47 1-160 1 113 1-80 1 80 1-113 1 33 1 80 1-59 1 0 1 106 1-80 1 80 1 0 1-127 1 47 1-47 1 80 1-80 1 127 1 0 1-80 1-64 1 64 1 159 1-79 1-80 1-64 1 223 1-159 1 80 1-127 1 47 1-64 1 223 1-159 1 33 1 47 1-127 1 80 1 0 1-80 1 206 1-126 1 0 1 126 1-159 1 80"/>
<path vector-effect="non-scaling-stroke" stroke-width="1.80" stroke="#0000ff" d="M0 5475l1 33 1-80 1 47 1 33 1 46 1 0 1 0 1-46 1 0 2 46 1-79 1 33 1-59 1 105 1 0 1 0 1-79 1 79 1-46 1 46 1 0 1-105 1 185 2-159 1-26 1 59 1 46 1 0 1-46 1 46 1-46 1 46 1-46 1 46 1-46 1 0 1 46 1-126 1 80 1 0 1 46 1 0 1-46 1-33 1 33 1 46 1-79 1 0 1 0 1 33 1-33 1 0 1 79 1-105 1 185 1 0 1-126 1-59 1 59 1 0 1 46 1-46 1 0 1-59 1 105 1 0 1 0 1-105 1 59 1-33 1 79 1-46 1-59 1 105 1-79 1 79 1-79 1 0 1 79 1-79 1 33 1 46 1-126 1 80 1 0 1 0 1-33 1 33 1 46 1-105 1 59 1 46 1 80 1-159 1 79 1-46 1 46 1-46 1 0 1-33 1 79 1-46 1 0 1 46 1-46 2-59 1 0 1 105 2-79 1-47 1 21 1 105 1-46 1 46 1-79 1 0 1 0 1 0 1 0 1-47 1 21 1 26 1-94 1 127 1-59 1 105 1 0 1 0 2-79 1 79 1-46 1 0 1 46 1-126 1 47 1-26 1 0 1 105 1-46 1-139 1 139 1-33 1 159 1-206 1 80 1 0 1 126 1-126 1 46 1 0 1-126 1 80 1 46 1-46 1 0 1 46 1-185 1 139 1 46 1 80 1-159 1 33 1 46 1-79 1 79 1 0 1-46 1-113 1 33 1 47 1 33 1 0 1-33 1 0 1 79 1-79 1-26 1-39 1 98 1-33 1 0 1 0 1 0 1 0 1 0 1 33 1 0 1-33 1 0 1 0 1 0 1-47 1 21 1 59 1 0 1-59 1 26 1 79 1-105 1 26 1 79 1-144 1 65 1 0 1 0 2 0 1 33 1-59 1 26 1 79 1-79 1 79 1 0 1-105 1 185 1-80 1 0 1-46 1 0 1 0 1-33 1 0 1 79 1-105 1 26 1 79 1-46 1 0 1 46 1 0 1 80 1-126 1-98 1 98 1-33 1 33 1-33 1 79 1-46 1 0 1 0 1-33 1 33 1-33 1 33 1 46 1 0 1-46 1-33 1-26 1-54 2 113 1 0 1-59 1 105 1-126 1 126 1-46 1-98 1 144 1-46 1-113 1 80 1 0 1 33 1-59 1 26 1-80 1 113 1 0 1 46 1-79 1 33 1-80 1 206 1-80 1-46 1 0 1 46 1-105 1 59 1 0 1 46 1-105 1 105 1-105 1-21 1 0 1 21 1-21 1 21 1-21 1 80 1-113 1 113 1-80 1 126 1-46 1 0 1-33 1 33 1 46 1-46 1-33 1 0 1 33 1-113 1 80 1 33 1 46 1-46 1-33 1-26 1 105 1-105 1 0 1 59 1-80 1 80 1-33 1 79 1 0 1 0 1-79 1-26 1 0 1 0 1 26 1 159 1-126 1-80 1 80 1-80 1 80 1-80 1 21 1 26 1 0 1-47 1-18 1 224 1-126 1 46 1-105 1 26 1 0 1-47 1 47 1 79 1-79 1-94 1 47 1 80 1-33 1 33 1 126 1-206 1 21 1 0 1 105 1-126 1 47 1 0 1 33 1-98 1 144 1-79 1 33 1 0 1-80 1 206 2-159 1-80 1 113 1 126 1-224 1 224 1-126 1-59 1 26 1 0 1-26 1 26 1-26 1 0 1-68 1 127 1-59 1 0 1 105 1-46 1 126 1-185 1 0 1 26 1-94 1 47 1 0 1 126 1-46 1 46 1 0 1 0 1-79 1 33 1-80 1 126 1-105 1-39 1 65 1 33 1 0 1 0 1 0 1 46 1-144 1 65 1 0 1 33 1-127 1 94 1 159 1-126 1-59 1 59 1-33 1 79 1-126 1 47 1-136 1 71 1 39 1 59 1-33 1 0 1 0 1 0 1 33 1-59 1 26 1 0 1 33 1-80 1-18 1 0 1 65 1-26 1 59 1-59 1-68 1 94 1-47 1 0 1-33 1 80 1 0 1-65 1 39 1-21 1 80 1 0 1-127 1 68 1-21 1 0 1-33 1 113 1-33 1 0 1 33 1 0 1 126 1-185 1 26 1 0 1 79 1-105 1 0 1 26 1-47 1 0 1-59 1 139 1-98 1 0 1 65 1 33 1-127 1 29 1 65 1-26 1 26 1 33 1-80 1 47 1-47 1 21 1 26 1-26 1 26 1-106 1 12 1 127 1 46 1-105 1-39 1 65 1 0 1 0 1-26 1 0 1 0 1 0 1 59 1-59 1 59 1-33 1-26 1-21 1 47 1 33 1-80 1 126 1-185 1 41 1 0 1 39 1 26 1 79 1-46 1 0 1 0 1-80 1-59 1 185 1-105 1 26 1-47 1 47 1-94 1 94 1-127 1 127 1-47 1 21 1 0 1-39 1 39 1-21 1 0 1-47 1 94 1 0 1-47 1 21 1-39 1 65 1 0 1-94 1 68 1 59 1-98 1 39 1 0 1-80 1 41 1-15 1 33 1 47 1 0 1-80 1 33 1-33 1 15 1 65 1-65 1 39 1-68 1 68 1-21 1-18 1-15 1 0 1 15 1 39 1-21 1-47 1 94 1-106 1 80 1-80 1 59 1 47 1-26 1-21 1-59 1 106 1-47 1-18 1 39 1 26 1-26 1-21 1-18 1 0 1-15 1 0 1-14 1-12 1 139 1-33 1-65 1-41 1 106 1-106 1 26 1-14 1 29 1 0 1-15 1 80 1 0 1-47 1-47 1 29 1 0 1 18 1-70 1 117 1-26 1-68 1 0 1 68 1-80 1 26 1 15 1-29 1 0 1 47 1-47 1 47 1-18 1-102 1 120 1-33 1-80 1 43 1 0 1-19 1 71 1 39 1-68 1 0 1 29 1 39 1-118 1 17 1 127 1-106 1 26 1 15 1-121 1 106 1-37 1-27 1 50 1 14 1-37 1 37 1-93 1 21 1 8 1 79 1-29 1-50 1 118 1-110 1 19 1 0 1 70 1-155 1 108 1-33 1 101 1-141 1 31 1-16 1 58 1-73 1 50 1 0 1-63 1 63 1 23 1 0 1-12 1-21 1 62 1 65 1-186 1 59 1-9 1 42 1-73 1 23 1 50 1-58 1 87 1-62 1 47 1-116 1 36 1 24 1-75 1 105 1-46 1-80 1 88 1 0 1 79 1-95 1-7 1-6 1 46 1 0 1-9 1-66 1 22 1 36 1-8 1 46 1-46 1-8 1-26 1 13 1 29 1-29 1 37 1-16 1-50 1-22 1 33 1 11 1-22 1 35 1 23 1 64 1-111 1 18 1-7 1-76 1 65 1 74 1-74 1 39 1 0 1-44 1 102 1-86 1 44 1-111 1 41 1-34 1 38 1-4 1 0 1 15 1-11 1 11 1-85 1 56 1-8 1 32 1 52 1-76 1-20 1 134 1-178 1 48 1 20 1 43 1-89 1 76 1-46 1 8 1 44 1 0 1-40 1 24 1 10 1-30 1 10 1-50 1-44 1 173 1-138 1 33 1 0 1 72 1-72 1 59 1 6 1-24 1-49 1-28 1 52 1-8 1-62 1 119 1-95 1 76 1 6 1-91 1-13 1-18 1 52 1-81 1 78 1-21 1 18 1-20 1-10 1 0 1-28 1 35 1 26 1-18 1-46 1 38 1-25 1 76 1 0 1 22 1-94 1 2 1 51 1-46 1 0 1 0 1-52 1 83 1-57 1 2 1 93 1-35 1-25 1 22 1-53 1 1 1 28 1 21 1 25 1-44 1 3 1 70 1-29 1-3 1-55 1-14 1 23 1 5 1 13 1-46 1 38 1-80 1 73 1-106 1 52 1 24 1-32 1-28 1-3 1 35 1-55 1 37 1-14 1 52 1-3 1-66 1 11 1-8 1 77 1-33 1-36 1 15 1 28 1-44 1 45 1 16 1-50 1-6 1 5 1 23 1-26 1-32 1 14 1-23 1 37 1-30 1 13 1 29 1-20 1-25 1-8 1-4 1-2 1-22 1 31 1 10 1-35 1 31 1-20 1-16 1 6 1-14 1 9 1-2 1-10 1-5 1 15 1-42 1 16 1-9 1 7 1-9 1-5 1-3 1-20 1 11 1-27 1 16 1-4 1-6 1-13 1 4 1-10 1-7 1 1 1-11 1-4 1-3 1-1 1-8 1 3 1-11 1 1 1-15 1-5 1-7 1-4 1-11 1-3 1-5 1-8 1-2 1-6 1-10 1-10 1-6 1-7 1-6 1-10 1-6 1-9 1-6 1-10 1-11 1-12 1-7 1-11 1-13 1-9 1-12 1-8 1-11 1-11 1-10 1-9 1-9 1-7 1-7 1-7 1-7 1-7 1-7 1-5 1-6 1-6 1-5 1-6 1-6 1-4 1-5 1-4 1-4 1 0 1 1 1 2 1 3 1 4 1 4 1 5 1 6 1 4 1 5 1 5 1 5 1 5 1 6 1 7 1 5 1 6 1 8 1 6 1 7 1 6 1 8 1 6 1 7 1 8 1 6 1 7 1 11 1 6 1 7 1 9 1 9 1 8 1 9 1 7 1 8 1 8 1 9 1 9 1 7 1 10 1 9 1 7 1 8 1 12 1 2 1 8 1 13 1 10 1 4 1 15 1 2 1-2 1 16 1 8 1-6 1 23 1 4 1 9 1-8 1 13 1 5 1 2 1 8 1 12 1 15 1-11 1-1 1 5 1 19 1 7 1 7 1 3 1 3 1 2 1-1 1 20 1 1 1-7 1 16 1 9 1 14 1-15 1 33 1-26 1-20 1 16 1-8 1 22 1 4 1-11 1 26 1 39 1-2 1-31 1 5 1 31 1-22 1-14 1 27 1-29 1 72 1-30 1 1 1-11 1 14 1 5 1 47 1-4 1-13 1 0 1-60 1 99 1-43 1-64 1 5 1 29 1 28 1 15 1 41 1-41 1 20 1-28 1 28 1 33 1-71 1-24 1 46 1 7 1 39 1-9 1-65 1 68 1-89 1 45 1-14 1 29 1-83 1 52 1 46 1-38 1 38 1-3 1 29 1-41 1-4 1 99 1 16 1-36 1-52 1-53 1 125 1 5 1-155 1 87 1-39 1-19 1 31 1 80 1-18 1 18 1-22 1-48 1 2 1-12 1 15 1 31 1 67 1-108 1 70 1-9 1 0 1-36 1 70 1 0 1-5 1-98 1 13 1 23 1-23 1 74 1 35 1-24 1-11 1 66 1-8 1-76 1-20 1 60 1-48 1 8 1 34 1-30 1 0 1 43 1 79 1-126 1 24 1 60 1-24 1-64 1 51 1-47 1 60 1 0 1-7 1-13 1 7 1-43 1 14 1 42 1-26 1 69 1-133 1 144 1-141 1 141 1-54 1-7 1 50 1-19 1-8 1 79 1-102 1-6 1-47 1 84 1-37 1 126 1 0 1 0 1-97 1-8 1 0 1 16 1-37 1-7 1 86 1-66 1 8 1-72 1 38 1 69 1-79 1 149 1-33 1-26 1-38 1-16 1 24 1-8 1 8 1 56 1-80 1 54 1-21 1 101 1-141 1 87 1-14 1-12 1 12 1-42 1 30 1-30 1 42 1-42 1 30 1 0 1-11 1 11 1-11 1 37 1 0 1-26 1 12 1 68 1-68 1-12 1 26 1 0 1 0 1-64 1 38 1 80 1-68 1 94 1-106 1-30 1 169 1-139 1 12 1 47 1-33 1-14 1-23 1-27 1 50 1-23 1 70 1-59 1 41 1 0 1-15 1 80 1-106 1 59 1 21 1-118 1 79 1-29 1 68 1-21 1 0 1 0 1-33 1-26 1 41 1 65 1-127 1 47 1 54 1-21 1 126 1-144 1-71 1 71 1 65 1-152 1 46 1 106 1-65 1 39 1-21 1-18 1 18 1-47 1 14 1-26 1 59 1-18 1 0 1-15 1 0 1 33 1 47 1-65 1 0 1 18 1-18 1 39 1 0 1-21 1-18 1-52 1 23 1 68 1 0 1-80 1 185 1-126 1-59 1 59 1 21 1 105 1-126 1 0 1 80 1-113 1 54 1 0 1 0 1-39 1 65 1-80 1 80 1 33 1-59 1 26 1-26 1-21 1 47 1-80 1 33 1-33 1 54 1 0 1 26 1 79 1-185 1 80 1-54 1 0 1 80 1 0 1 0 1-47 1 0 1-33 1 33 1-18 1 18 1 126 1-173 1 68 1-21 1 47 1 33 1-160 1 101 1 59 1-59 1-91 1 91 1-39 1 39 1-21 1 126 1-126 1 21 1-21 1-18 1 65 1-65 1 65 1-26 1-39 1 65 1-65 1 65 1-80 1 80 1-26 1-68 1 68 1 59 1-59 1 0 1 0 1-21 1 47 1-65 1-41 1 41 1 224 1-80 1-105 1-54 1 0 1 80 1-65 1 18 1 0 1 80 1-33 1-26 1-54 1 113 1-113 1 33 1 80 1 0 1 0 1-98 1 39 1 0 1 26 1-65 1 98 1-59 1 26 1-47 1 0 1 0 1 126 1-173 1 68 1 26 1 0 1 33 1-80 1 80 1 46 1-126 1 21 1-39 1 98 1 46 1-79 1-65 1 39 1 26 1-80 1 113 1-33 1-47 1-33 1 159 1-159 1 113 1-33 1-26 1-68 1 127 1 0 1-33 1-94 1 173 1-159 1 159 1 0 1-126 1 47 1-80 1-37 1 52 1 98 1-113 1 15 1 18 1 0 1 21 1 59 1-59 1 0 1 26 1-26 1-54 1 80 1 33 1-80 1 80 1 46 1-144 1 65 1 79 1-105 1 59 1-139 1 185 1-79 1 79 1-46 1-139 1 185 1-105 1 26 1 33 1-80 1-59 1 59 1 206 1-159 1-26 1 0 1 59 1-59 1 0 1 59 1-113 1-26 1 80 1-21 1 21 1 26 1 159 1-126 1-127 1 127 1 0 1-98 1 144 1 0 1-79 1 79 1-185 1 59 1-80 1 80 1-18 1 144 1-105 1-21 1 126 1-46 1-113 1 113 1 0 1-33 1 159 1-253 1 94 1-65 1-15 1 159 1-79 1 33 1-59 1-21 1 126 1-46 1-59 1 0 1 0 1-21 1 80 1-59 1 0 1-21 1 80 1-33 1 0 1-26 1-54 1 113 1-59 1-80 1 106 1 0 1 0 1-26 1 59 1-33 1-47 1 21 1-39 1 98 1-33 1-26 1 185 1-159 1-47 1 0 1-18 1-41 1 139 1 46 1-159 1 113 1-98 1 65 1-65 1-29 1 14 1 80 1-47 1 21 1 0 1 59 1-113 1 33 1-18 1 65 1 0 1 159 1-185 1 26 1-65 1 65 1-26 1 59 1-59 1 105 1-105 1-54 1 54 1 0 1 59 1-59 1 26 1-26 1-21 1 47 1 33 1-33 1 33 1-33 1-94 1 127 1 46 1-126 1 80 1-59 1-39 1 39 1 0 1 59 1-33 1 33 1-80 1 47 1 79 1-46 1 46 1-46 1 0 1-33 1 33 1-33 1 33 1 0 1-80 1 47 1-80 1 113 1-33 1-26 1-39 1 224 1-80 1-126 1 0 1-18 1-29 1 127 1 46 1 0 1 0 1-46 1-98 1 98 1 0 1-33 1-47 1 0 1 47 1-26 1 26 1-26 1 0 1 26 1-94 1 127 1-33 1-47 1 206 1-253 1 47 1 21 1 26 1 0 1-65 1 18 1-18 1 98 1 0 1-113 1 33 1 47 1 33 1 46 1-144 1 98 1-80 1 80 1 46 1-105 1 0 1 59 1 0 1-33 1 33 1-98 1 0 1 0 1 65 1-80 1 80 1 79 1-144 1 98 1 46 1-46 1-127 1 68 1 0 1 26 1-94 1 94 1 79 1-46 1 126 1-185 1-39 1 0 1 144 1 0 1-46 1 0 1-80 1 126 1-144 1 65 1 33 1-59 1 26 1 0 1 0 1-80 1-14 1 68 1 59 1 126 1-126 1 0 1-59 1 26 1 0 1 79 1 0 1 0 1-79 1 33 1-33 1 0 1-47 1 21 1 59 1-33 1-47 1 21 1 26 1-26 1 59 1-33 1 79 1-173 1 127 1 0 1 0 1 0 1-59 1 0 1 59 1-59 1-68 1 253 1-185 1 0 1 105 1-79 1 0 1 0 1-26 1 26 1 79 1-126 1 47 1 79 1 80 1-206 1 21 1 0 1 26 1 0 1 79 1-79 1-65 1 18 1-47 1 173 1-105 1-21 1 47 1-26 1 26 1-65 1 39 1 59 1 0 1 46 1-79 1 79 1-105 1 26 1-26 1 0 1 0 1 59 1-59 1 26 1 33 1-33 1 33 1 46 1-46 1 46 1-46 1 126 1-206 1 47 1-26 1 59 1-59 1 105 1-79 1-26 1 105 1-79 1-47 1-18 1 98 1-113 1 159 1-79 1-26 1 59 1-98 1 144 1-79 1 33 1-33 1-26 1 0 1 59 1-80 1 21 1 185 1-185 1 26 1-26 1 0 1 0 1 59 1 0 1-59 1 59 1-59 1 0 1 59 1-33 1 0 1-65 1 98 1-33 1 33 1 0 1-98 1 98 1 0 1-59 1 0 1 105 1-144 1 144 1-105 1 0 1 26 1-26 1 185 1-159 1-26 1 26 1 33 1 0 1 0 1 0 1 0 1-33 1 79 1-105 1 26 1-47 1 80 1-139 1 106 1-47 1 47 1-26 1 26 1-26 1 26 1 33 1-59 1-54 1 15 1 65 1 0 1 33 1 126 1-159 1 33 1-33 1 33 1-59 1 105 1-79 1-26 1 0 1 59 1 0 1-33 1-26 1-21 1 47 1 0 1 79 1-105 1 26 1-47 1 47 1 0 1 33 1-59 1 105 1-105 1-21 1 47 1 0 1 33 1-33 1 0 1 0 1 33 1-33 1 0 1 33 1 46 1-46 1 0 1-80 1 47 1 0 1-47 1 80 1 46 1-79 1-26 1 59 1 46 1-79 1-26 1 26 1 0 1 33 1-33 1 0 1-47 1 126 1-46 1-59 1-21 1 126 1 0 1-126 1 80 1-59 1 185 1-224 1 65 1 33 1 46 1-79 1 79 1-79 1 0 1 0 1-26 1 105 1-46 1 0 1-150 1 150 1 0 2 46 1-79 1 79 2-46 1 46 1-46 1-59 1 0 1 0 1 26 1-80 1 54 1 185 1-185 1 105 1-105 1 105 1-126 1 47 1 79 1 0 1-105 1 105 1-105 1 59 1-33 1 33 1-98 1 18 1 80 1 126 1-80 1-79 1-26 1 0 1 105 1-46 1 0 1 0 1-80 1 47 1 33 1 46 1-46 1 0 1 46 1 0 1 0 1-46 1-113 1 80 1 79 1 0 1-46 1-33 1-65 1 18 1 80 1 0 1-59 1 59 1 0 1-59 1-21 1 126 1-105 1 59 1-98 1 224 1-80 1-79 1-65 1 144 1-79 1 79 1 80 1-159 1 33 1-33 1 33 1 46 1-105 1 59 1-33 1 79 1-105 1 105 1 0 1-79 1-26 1 105 1-126 1 47 1 0 1-47 1 80 1-59 1 26 1 79 1-79 1 0 1-26 1 0 1 26 1-26 1 59 1 46 1-126 1 0 1 47 1 0 1-26 1 0 1-21 1 21 1 105 1-105 1 26 1 0 1-26 1-21 1 21 1 59 1-80 1 80 1 0 1 126 1-185 1 59 1-33 1 33 1-113 1 80 1 33 1 126 1-80 1-173 1 127 1-59 1 0 1-54 1 33 1 21 1 26 1-47 1-18 1-41 1 80 1-21 1-18 1-15 1 54 1-54 1 80 1-80 1 15 1 39 1 59 1-59 1 0 1 26 1 0 1-47 1 0 1-59 1 0 1 106 1-94 1 47 1-18 1 98 1-33 1-65 1 18 1 47 1 159 1-239 1 54 1-91 1 11 1 139 1-80 1 21 1-54 1-72 1 72 1 54 1-21 1-18 1-29 1 29 1 39 1-110 1 56 1-26 1 26 1 0 1-47 1 10 1-27 1 27 1-35 1 105 1-133 1 36 1 50 1 47 1-126 1-23 1-10 1 100 1-90 1 16 1-6 1 69 1-35 1-84 1 63 1 37 1-55 1 5 1 106 1-100 1 86 1-50 1-47 1 31 1-7 1-61 1 55 1-7 1-22 1 0 1 75 1-105 1-15 1 15 1 80 1-8 1-7 1-109 1-5 1 25 1 32 1 22 1 16 1 13 1 6 1-13 1-60 1-7 1 51 1-51 1 36 1 5 1 4 1-82 1 56 1 37 1 39 1-15 1-65 1-15 1 11 1 100 1-44 1-36 1-27 1 23 1-27 1 0 1 45 1 35 1-24 1-65 1 6 1 18 1-76 1 102 1-10 1-16 1 80 1 0 1-119 1 144 1-105 1 4 1 37 1 5 1-61 1-3 1 83 1 40 1-9 1-114 1 39 1 20 1 64 1-33 1 0 1 16 1-36 1 13 1 61 1 26 1-72 1 0 1 16 1-66 1 122 1-26 1-80 1 106 1-14 1-73 1 61 1 59 1-113 1 80 1-56 1-8 1-23 1 50 1 52 1-15 1-14 1 0 1-66 1 54 1 0 1 12 1 14 1 80 1 0 1-106 1 26 1 80 1 33 1-127 1 0 1-33 1 21 1-30 1 19 1 52 1-15 1-26 1 106 1-26 1-68 1 47 1 21 1-54 1-47 1 47 1 159 1-79 1-65 1 18 1 126 1-126 1 47 1 0 1-47 1 47 1 0 1-65 1 144 1-79 1-26 1 105 1-144 1 144 1-159 1 54 1 26 1 0 1 79 1-79 1-80 1 239 1-224 1 224 1 0 1-159 1-26 1 26 1-80 1 113 1-33 1 33 1-98 1 65 1 79 1-105 1-21 1 47 1 0 2 33 1 0 1-80 1 47 1-47 1 47 1 0 1 33 1 0 1-33 1-26 1 26 1 79 1-46 1-80 1 47 1-65 1 144 1-46 1-59 1 59 1 0 1 0 1-33 1 79 1-79 1-47 1 80 1-59 1 59 1 126 1-159 1 79 1-159 1 113 1-80 1-18 1 144 1 80 1-126 1 0 1 0 1-33 1 0 1-26 1 105 1 80 1 0 1-185 1 59 1 46 1 0 1-105 1 59 1-80 1 80 1 0 1-98 1 65 1-47 1 80 1-113 1 80 1-26 1 185 1-80 1-79 1 159 1-126 1 0 1 46 1-79 2 33 1 0 1 126 1-126 1 0 1 0 1 0 1 0 1 126 1-126 1-33 1 159 1-185 1 26 1 33 1 0 1-98 1 144 1-126 1 47 1 33 1 0 1 0 1 126 1-126 1-33 1-26 1 59 1 0 1 46 1-159 1 80 1 33 1 46 1-105 1 59 1-33 1 0 1 79 1 0 1-79 1-80 1 113 1-33 1 0 1-65 1 39 1-21 1 80 1-33 1 159 1-80 1-46 1-33 1-47 1 0 1 206 1-206 1 126 1-105 1 26 1 33 1-59 1 26 1 79 1-46 1-33 2 0 1 79 1 80 1-126 1 46 1-79 1 33 1 46 1-79 2 33 1 0 1 46 1-79 1-65 1 39 1 105 1 80 1-159 1 0 1 79 1-105 1 59 1-33 1 0 1-47 1 47 1 79 1-105 1 105 1 0 1-46 1 0 1 126 1 0 1-159 1 33 1-33 1 0 1 79 1 0 1-105 1 0 1 105 1-105 1 26 1 0 1-65 1 98 1-59 1 59 1 0 1 0 1-33 1-26 1 59 1-33 1 33 1-33 1 79 1 0 1-105 1 59 1 0 1-33 1 33 1 0 1 46 1-105 1 105 1-46 1 0 1-33 1 0 1-26 2 59 1 126 1-80 1-46 1 126 1-80 1-46 1-80 1 21 1 59 1 46 1-46 1 46 1-126 1 80 1 46 1-79 1-26 1 59 1 0 1-33 1 79 1-79 1 159 1-80 1-79 1-47 1 47 2-65 1 0 2 65 1 33 1 0 1 0 1-33 1 33 1 46 1 0 1-79 1 33 1-33 1 33 1 126 1-159 1 33 1-33 1 0 2 33 1 0 1 46 1-105 1 26 1 33 1-59 1-39 1 18 1 80 1-98 1 65 1 0 1 33 1 126 1-126 1-80 1 126 1-105 1 26 1 33 1 126 1 0 1-80 1-46 1-80 1 0 1 126 1-126 1 21 1 26 1 33 1 0 1-33 1 33 1 0 1 0 1 0 1-59 1 26 1 0 1 79 1-105 1 26 1-26 1 26 1 0 1 0 1-26 1 59 1-33 1 33 1 46 1-46 1 0 1-33 1 0 1-47 1 80 1 0 1-33 1 33 1-33 1-26 1 0 1 0 1 59 1 0 1 126 1-185 1 105 1-46 1 46 1 0 1-79 1-26 1 26 1 79 1-159 1 15 1 98 1-33 1 33 1-33 1-26 1 26 1 33 1-33 1 0 1 33 1-59 1 26 1 79 1-46 1 46 1-105 1-39 1 0 1 144 1-46 1 46 1-79 1 33 1 0 1-33 1 0 1 33 1 46 1-46 1-113 2 113 1 0 1 0 1 126 1 0 1-224 1 144 1 0 1 80 1-185 1 105 1-79 1 79 1-105 1 105 1-46 1 0 1 46 1 0 1-79 1 0 1-26 1 0 1 105 1 0 1-144 1 98 1-80 1 126 1-46 1 126 1-80 1-46 1-33 1 0 1-47 1 21 1 0 1 26 1 0 1-26 1 26 1 33 1-59 1 26 1 33 1 126 1-126 1 46 1-46 1-59 1 105 1-79 1 33 1 126 1 0 1-80 1-105 1 105 1-105 1 59 1 0 1-80 1 126 1 0 1 0 2-159 1 15 1 224 1-159 1 79 1-46 1-59 1 59 1 46 1-79 1-47 1 80 1 46 1-126 1 80 1-33 1 79 1-46 1 0 1-33 1 79 1-79 1-47 1-18 2 98 1-33 1 33 1-59 1 185 1-159 1 33 1-59 1 0 1-21 1 21 1 59 1-59 1 26 1 33 1-59 1-21 1 47 1-65 1 65 1 79 1-105 1 26 1 79 1-46 1-80 1 126 1-46 1-59 1-39 1 98 1 0 1-59 1 0 1-39 1 144 1-79 1 33 1-33 1-26 1-39 1 65 1 33 1 0 1-33 1 33 1-33 1 33 1 46 1 80 1-206 1 21 1-39 1 18 1-33 1 15 1 0 1 98 1-33 1 0 1-26 1 26 1-26 1 0 1-21 1 21 1 26 1 0 1-80 1 80 1 79 1-126 1 47 1 33 1-59 1 26 1-26 1-39 1 98 1-113 1 159 1-46 1-113 1 0 1 113 1-98 1 18 1 0 1 126 1-105 1 0 1 26 1-94 1 68 1 59 1-59 1 0 1 26 1-26 1-141 1 120 1 47 1-117 1 91 1-91 1 11 1 26 1-72 1 46 1-38 1 27 1 0 1-19 1-44 1 0 1-40 1 76 1-76 1-30 1 144 1-46 1 0 1-124 1-5 1-25 1 139 1-137 1 124 1-115 1 24 1 28 1-69 1-32 1 26 1-40 1-30 1 37 1-90 1 8 1-43 1-28 1-15 1-30 1-37 1-32 1-45 1-43 1-53 1-54 1-57 1-57 1-56 1-55 1-52 1-51 1-50 1-51 1-50 1 5 1 51 1 50 1 51 1 51 1 52 1 55 1 56 1 56 1 59 1 54 1 47 1 52 1 46 1 31 1 24 1 19 1 60 1 6 1 15 1 37 1 44 1 58 1-66 1 27 1-1 1 67 1 46 1-72 1 65 1-6 1 73 1-26 1-10 1 14 1-45 1 141 1-61 1-24 1-62 1 62 1 47 1-58 1 85 1-56 1 13 1 24 1-75 1 117 1 14 1-26 1-54 1 80 1-80 1 113 1 21 1-126 1 58 1 29 1 18 1-18 1 18 1-59 1 12 1 94 1-26 1 26 1-106 1 41 1-29 1 14 1-47 1 80 1 80 1-113 1 54 1 105 1-105 1-21 1-18 1 65 1-26 1-21 1 47 1 33 1-127 1 127 1-98 1-52 1 150 1-33 1-80 1 54 1-21 1 126 1 80 1-224 1 65 1 33 1-59 1-54 1 159 1-105 1 105 1 80 1-224 1 18 1 80 1 0 1 126 1-126 1 0 1-98 1 144 1-144 1-15 1 239 1-159 1 159 1-185 1-21 1 126 1-105 1-39 1 18 1-18 1 144 1-46 1-33 1 0 1 33 1-33 1-47 1 206 1-80 1-79 1 79 1-105 1 105 1-105 1 185 1-126 1-80 1 80 1 0 1 46 1-79 1 0 1 33 1-59 1 105 1-46 1-33 1-26 1-21 1 126 1-126 1 80 1-33 1 79 1-46 1 0 1 0 1-98 1 39 1 105 1-105 1-21 1 21 1 26 1 33 1 0 1-33 1 0 1 79 1-79 1 0 1-26 1 105 1-46 1-33 1 33 1-59 1 26 1 0 1-26 1 26 1 79 1 0 2-105 1 0 1 26 1 0 1-47 1 80 1 46 1 0 1-46 1 46 1-105 1 26 1-47 1 47 1-47 1 80 1-33 1-65 1 98 1 0 1 46 1 0 1-46 1 46 1 80 1-126 1 126 1-126 1 0 1 0 1 46 1-46 1 0 1 0 1 0 1-33 1 33 1 0 1 0 1 0 1-33 1 0 1-117 1 150 1 46 1 0 1 0 1-79 1 0 1-26 1 185 1-126 1-98 1 0 1 65 1 79 1-79 1-26 1 185 1-185 1 26 1 33 1-98 1 18 1 126 1-105 1-21 1-33 1 239 1-185 1 26 1-47 1 47 1 0 1 33 1-33 1 33 1-98 1 39 1-68 1 127 1 0 1 126 1-224 1 98 1-33 1 79 1 0 1-126 1 206 1-126 1-33 1-47 1 126 1-46 1 0 1 0 1 46 1-46 1-33 1-80 1 113 1-33 1 0 1 33 1 46 1-79 1 33 1 46 1-79 1 79 1 0 1-46 1 46 1-105 1 26 1-47 1 126 1-79 1 33 1-59 1 0 1 0 1 185 1-126 1 46 1-79 1-26 1 0 1 105 1-46 1 0 1-33 1 0 1 0 1 0 1-26 1 26 1-26 1 105 1 0 1 0 1-105 1 105 1-126 1 80 1-59 1 59 1 126 1-126 1-59 1 105 1-79 1-47 1 126 1-46 1-98 1 98 1-33 1 0 1-26 1 105 1-46 1 0 1-80 1 80 1-59 1 105 1-105 1 26 1-65 1 224 1 0 1-126 1-59 1 0 1 26 1 0 1-26 1 0 1 59 1-59 1 0 1 26 1 0 1 33 1-33 1 0 1-26 1 105 1-79 1 33 1 0 1-33 1 33 1-59 1 59 1-80 1 47 1 0 1 0 1-47 1 80 1-80 1-18 1 18 1 126 1 0 1-79 1-26 1 185 1-224 1 98 1-33"/>
</g></g>
<rect x="104.0" y="93.2" width="738.0" height="549.4" fill="none" stroke="#000" stroke-width="2.60"/>
<path fill="none" stroke="#000" stroke-width="2.40" d="M104.0 642.6H92.0 M104.0 622.5H97.0 M104.0 610.8H97.0 M104.0 602.4H97.0 M104.0 596.0H97.0 M104.0 590.7H97.0 M104.0 586.2H97.0 M104.0 582.4H97.0 M104.0 579.0H97.0 M104.0 575.9H92.0 M104.0 555.8H97.0 M104.0 544.1H97.0 M104.0 535.7H97.0 M104.0 529.3H97.0 M104.0 524.0H97.0 M104.0 519.5H97.0 M104.0 515.7H97.0 M104.0 512.3H97.0 M104.0 509.2H92.0 M104.0 489.1H97.0 M104.0 477.4H97.0 M104.0 469.0H97.0 M104.0 462.6H97.0 M104.0 457.3H97.0 M104.0 452.8H97.0 M104.0 449.0H97.0 M104.0 445.6H97.0 M104.0 442.5H92.0 M104.0 422.4H97.0 M104.0 410.7H97.0 M104.0 402.3H97.0 M104.0 395.9H97.0 M104.0 390.6H97.0 M104.0 386.1H97.0 M104.0 382.3H97.0 M104.0 378.9H97.0 M104.0 375.8H92.0 M104.0 355.7H97.0 M104.0 344.0H97.0 M104.0 335.6H97.0 M104.0 329.2H97.0 M104.0 323.9H97.0 M104.0 319.4H97.0 M104.0 315.6H97.0 M104.0 312.2H97.0 M104.0 309.1H92.0 M104.0 289.0H97.0 M104.0 277.3H97.0 M104.0 268.9H97.0 M104.0 262.5H97.0 M104.0 257.2H97.0 M104.0 252.7H97.0 M104.0 248.9H97.0 M104.0 245.5H97.0 M104.0 242.4H92.0 M104.0 222.3H97.0 M104.0 210.6H97.0 M104.0 202.2H97.0 M104.0 195.8H97.0 M104.0 190.5H97.0 M104.0 186.0H97.0 M104.0 182.2H97.0 M104.0 178.8H97.0 M104.0 175.7H92.0 M104.0 155.6H97.0 M104.0 143.9H97.0 M104.0 135.5H97.0 M104.0 129.1H97.0 M104.0 123.8H97.0 M104.0 119.3H97.0 M104.0 115.5H97.0 M104.0 112.1H97.0 M104.0 109.0H92.0 M155.7 642.6V653.6 M261.2 642.6V648.6 M366.7 642.6V653.6 M472.2 642.6V648.6 M577.7 642.6V653.6 M683.2 642.6V648.6 M788.7 642.6V653.6"/>
<rect x="104.0" y="859.0" width="738.0" height="549.5" fill="none" stroke="#000" stroke-width="2.60"/>
<path fill="none" stroke="#000" stroke-width="2.40" d="M104.0 1408.5H92.0 M104.0 1388.6H97.0 M104.0 1376.9H97.0 M104.0 1368.6H97.0 M104.0 1362.2H97.0 M104.0 1357.0H97.0 M104.0 1352.6H97.0 M104.0 1348.7H97.0 M104.0 1345.3H97.0 M104.0 1342.3H92.0 M104.0 1322.4H97.0 M104.0 1310.7H97.0 M104.0 1302.4H97.0 M104.0 1296.0H97.0 M104.0 1290.8H97.0 M104.0 1286.4H97.0 M104.0 1282.5H97.0 M104.0 1279.1H97.0 M104.0 1276.1H92.0 M104.0 1256.2H97.0 M104.0 1244.5H97.0 M104.0 1236.2H97.0 M104.0 1229.8H97.0 M104.0 1224.6H97.0 M104.0 1220.2H97.0 M104.0 1216.3H97.0 M104.0 1212.9H97.0 M104.0 1209.9H92.0 M104.0 1190.0H97.0 M104.0 1178.3H97.0 M104.0 1170.0H97.0 M104.0 1163.6H97.0 M104.0 1158.4H97.0 M104.0 1154.0H97.0 M104.0 1150.1H97.0 M104.0 1146.7H97.0 M104.0 1143.7H92.0 M104.0 1123.8H97.0 M104.0 1112.1H97.0 M104.0 1103.8H97.0 M104.0 1097.4H97.0 M104.0 1092.2H97.0 M104.0 1087.8H97.0 M104.0 1083.9H97.0 M104.0 1080.5H97.0 M104.0 1077.5H92.0 M104.0 1057.6H97.0 M104.0 1045.9H97.0 M104.0 1037.6H97.0 M104.0 1031.2H97.0 M104.0 1026.0H97.0 M104.0 1021.6H97.0 M104.0 1017.7H97.0 M104.0 1014.3H97.0 M104.0 1011.3H92.0 M104.0 991.4H97.0 M104.0 979.7H97.0 M104.0 971.4H97.0 M104.0 965.0H97.0 M104.0 959.8H97.0 M104.0 955.4H97.0 M104.0 951.5H97.0 M104.0 948.1H97.0 M104.0 945.1H92.0 M104.0 925.2H97.0 M104.0 913.5H97.0 M104.0 905.2H97.0 M104.0 898.8H97.0 M104.0 893.6H97.0 M104.0 889.2H97.0 M104.0 885.3H97.0 M104.0 881.9H97.0 M104.0 878.9H92.0 M155.7 1408.5V1419.5 M261.2 1408.5V1414.5 M366.7 1408.5V1419.5 M472.2 1408.5V1414.5 M577.7 1408.5V1419.5 M683.2 1408.5V1414.5 M788.7 1408.5V1419.5"/>
<path fill="none" stroke="#6a6a6a" stroke-width="1.8" d="M536.7 98.5V336.3 M531.7 331.8H842.0"/>
<path fill="none" stroke="#555" stroke-width="1.6" d="M536.7 319.9H534.5 M536.7 311.1H534.5 M536.7 304.6H532.5 M536.7 290.6H534.5 M536.7 281.8H534.5 M536.7 275.3H532.5 M536.7 261.3H534.5 M536.7 252.5H534.5 M536.7 246.0H532.5 M536.7 232.0H534.5 M536.7 223.2H534.5 M536.7 216.7H532.5 M536.7 202.7H534.5 M536.7 193.9H534.5 M536.7 187.4H532.5 M536.7 173.4H534.5 M536.7 164.6H534.5 M536.7 158.1H532.5 M536.7 144.1H534.5 M536.7 135.3H534.5 M536.7 128.8H532.5 M536.7 114.8H534.5 M536.7 106.0H534.5 M536.7 99.5H532.5 M589.3 331.8V334.3 M641.7 331.8V336.3 M694.0 331.8V334.3 M746.4 331.8V336.3 M798.8 331.8V334.3"/>
<path fill="none" stroke="#555" stroke-width="1.60" stroke-linejoin="round" d="M537.2 217.1 537.7 216.6 538.2 216.2 538.7 215.9 539.2 215.7 539.7 215.5 540.2 215.5 540.7 215.5 541.2 215.6 541.7 215.9 542.2 216.2 542.7 216.6 543.2 217.0 543.7 217.4 544.2 217.9 544.7 218.4 545.2 218.9 545.7 219.3 546.2 219.7 546.7 220.1 547.2 220.3 547.7 220.5 548.2 220.6 548.7 220.6 549.2 220.5 549.7 220.3 550.2 220.0 550.7 219.6 551.2 219.1 551.7 218.6 552.2 218.0 552.7 217.3 553.2 216.7 553.7 216.1 554.2 215.4 554.7 214.8 555.2 214.3 555.7 213.8 556.2 213.3 556.7 213.0 557.2 212.7 557.7 212.6 558.2 212.5 558.7 212.5 559.2 212.6 559.7 212.8 560.2 213.1 560.7 213.5 561.2 213.8 561.7 214.2 562.2 214.7 562.7 215.1 563.2 215.5 563.7 215.9 564.2 216.2 564.7 216.4 565.2 216.6 565.7 216.7 566.2 216.7 566.7 216.6 567.2 216.4 567.7 216.1 568.2 215.7 568.7 215.3 569.2 214.7 569.7 214.1 570.2 213.5 570.7 212.9 571.2 212.2 571.7 211.5 572.2 210.9 572.7 210.3 573.2 209.8 573.7 209.3 574.2 209.0 574.7 208.7 575.2 208.5 575.7 208.4 576.2 208.4 576.7 208.5 577.2 208.7 577.7 209.0 578.2 209.3 578.7 209.7 579.2 210.2 579.7 210.7 580.2 211.1 580.7 211.6 581.2 212.1 581.7 212.5 582.2 212.8 582.7 213.1 583.2 213.3 583.7 213.4 584.2 213.4 584.7 213.3 585.2 213.2 585.7 212.9 586.2 212.5 586.7 212.1 587.2 211.6 587.7 211.0 588.2 210.4 588.7 209.8 589.2 209.2 589.7 208.5 590.2 207.9 590.7 207.4 591.2 206.9 591.7 206.4 592.2 206.1 592.7 205.8 593.2 205.6 593.7 205.5 594.2 205.5 594.7 205.6 595.2 205.8 595.7 206.1 596.2 206.4 596.7 206.7 597.2 207.1 597.7 207.5 598.2 207.9 598.7 208.3 599.2 208.6 599.7 208.9 600.2 209.2 600.7 209.3 601.2 209.4 601.7 209.4 602.2 209.2 602.7 209.0 603.2 208.7 603.7 208.3 604.2 207.8 604.7 207.3 605.2 206.7 605.7 206.0 606.2 205.3 606.7 204.6 607.2 203.9 607.7 203.2 608.2 202.5 608.7 201.9 609.2 201.4 609.7 200.9 610.2 200.5 610.7 200.2 611.2 200.0 611.7 199.9 612.2 199.9 612.7 200.0 613.2 200.1 613.7 200.3 614.2 200.6 614.7 200.9 615.2 201.3 615.7 201.7 616.2 202.0 616.7 202.3 617.2 202.6 617.7 202.9 618.2 203.0 618.7 203.1 619.2 203.1 619.7 203.0 620.2 202.8 620.7 202.6 621.2 202.2 621.7 201.7 622.2 201.2 622.7 200.6 623.2 199.9 623.7 199.2 624.2 198.5 624.7 197.7 625.2 197.0 625.7 196.3 626.2 195.6 626.7 195.0 627.2 194.4 627.7 193.9 628.2 193.5 628.7 193.2 629.2 193.0 629.7 192.9 630.2 192.9 630.7 192.9 631.2 193.0 631.7 193.2 632.2 193.5 632.7 193.8 633.2 194.1 633.7 194.4 634.2 194.6 634.7 194.9 635.2 195.1 635.7 195.3 636.2 195.3 636.7 195.3 637.2 195.2 637.7 195.0 638.2 194.8 638.7 194.4 639.2 193.9 639.7 193.3 640.2 192.7 640.7 192.0 641.2 191.3 641.7 190.5 642.2 189.7 642.7 188.9 643.2 188.1 643.7 187.3 644.2 186.6 644.7 185.9 645.2 185.3 645.7 184.8 646.2 184.3 646.7 184.0 647.2 183.7 647.7 183.6 648.2 183.5 648.7 183.5 649.2 183.6 649.7 183.7 650.2 183.9 650.7 184.1 651.2 184.3 651.7 184.5 652.2 184.6 652.7 184.8 653.2 184.9 653.7 184.9 654.2 184.8 654.7 184.7 655.2 184.4 655.7 184.1 656.2 183.6 656.7 183.1 657.2 182.4 657.7 181.7 658.2 180.9 658.7 180.1 659.2 179.2 659.7 178.2 660.2 177.3 660.7 176.3 661.2 175.4 661.7 174.5 662.2 173.7 662.7 173.0 663.2 172.3 663.7 171.7 664.2 171.1 664.7 170.6 665.2 170.2 665.7 169.9 666.2 169.6 666.7 169.3 667.2 169.1 667.7 168.8 668.2 168.6 668.7 168.3 669.2 168.0 669.7 167.7 670.2 167.3 670.7 166.9 671.2 166.4 671.7 165.9 672.2 165.2 672.7 164.5 673.2 163.6 673.7 162.7 674.2 161.6 674.7 160.5 675.2 159.3 675.7 158.1 676.2 156.8 676.7 155.6 677.2 154.3 677.7 153.0 678.2 151.7 678.7 150.5 679.2 149.3 679.7 148.1 680.2 147.0 680.7 145.8 681.2 144.6 681.7 143.3 682.2 142.0 682.7 140.8 683.2 139.6 683.7 138.4 684.2 137.3 684.7 136.3 685.2 135.4 685.7 134.5 686.2 133.9 686.7 133.3 687.2 132.9 687.7 132.5 688.2 132.2 688.7 131.8 689.2 131.4 689.7 131.1 690.2 130.8 690.7 130.4 691.2 130.1 691.7 129.9 692.2 129.6 692.7 129.4 693.2 129.3 693.7 129.2 694.2 129.2 694.7 129.2 695.2 129.3 695.7 129.4 696.2 129.6 696.7 129.8 697.2 130.0 697.7 130.3 698.2 130.7 698.7 131.1 699.2 131.5 699.7 131.9 700.2 132.4 700.7 133.0 701.2 133.8 701.7 134.7 702.2 135.7 702.7 136.8 703.2 138.0 703.7 139.2 704.2 140.5 704.7 141.8 705.2 143.1 705.7 144.5 706.2 145.8 706.7 147.0 707.2 148.2 707.7 149.4 708.2 150.7 708.7 151.9 709.2 153.1 709.7 154.3 710.2 155.4 710.7 156.5 711.2 157.5 711.7 158.4 712.2 159.2 712.7 159.9 713.2 160.5 713.7 161.0 714.2 161.5 714.7 161.9 715.2 162.3 715.7 162.8 716.2 163.2 716.7 163.6 717.2 164.1 717.7 164.6 718.2 165.1 718.7 165.7 719.2 166.4 719.7 167.1 720.2 167.8 720.7 168.6 721.2 169.5 721.7 170.3 722.2 171.2 722.7 172.1 723.2 173.0 723.7 173.9 724.2 174.8 724.7 175.6 725.2 176.3 725.7 177.1 726.2 177.7 726.7 178.2 727.2 178.7 727.7 179.1 728.2 179.4 728.7 179.6 729.2 179.7 729.7 179.8 730.2 179.8 730.7 179.7 731.2 179.6 731.7 179.5 732.2 179.5 732.7 179.4 733.2 179.4 733.7 179.4 734.2 179.5 734.7 179.6 735.2 179.9 735.7 180.2 736.2 180.6 736.7 181.0 737.2 181.6 737.7 182.2 738.2 182.9 738.7 183.6 739.2 184.4 739.7 185.2 740.2 186.0 740.7 186.8 741.2 187.6 741.7 188.3 742.2 189.0 742.7 189.7 743.2 190.3 743.7 190.8 744.2 191.2 744.7 191.6 745.2 191.8 745.7 192.0 746.2 192.1 746.7 192.2 747.2 192.1 747.7 192.1 748.2 191.9 748.7 191.8 749.2 191.6 749.7 191.5 750.2 191.3 750.7 191.2 751.2 191.1 751.7 191.1 752.2 191.1 752.7 191.2 753.2 191.4 753.7 191.7 754.2 192.1 754.7 192.5 755.2 193.0 755.7 193.6 756.2 194.2 756.7 194.9 757.2 195.7 757.7 196.4 758.2 197.1 758.7 197.9 759.2 198.6 759.7 199.3 760.2 199.9 760.7 200.4 761.2 200.9 761.7 201.3 762.2 201.6 762.7 201.9 763.2 202.0 763.7 202.0 764.2 202.0 764.7 201.9 765.2 201.8 765.7 201.5 766.2 201.3 766.7 201.0 767.2 200.7 767.7 200.5 768.2 200.2 768.7 200.0 769.2 199.9 769.7 199.7 770.2 199.7 770.7 199.8 771.2 199.9 771.7 200.1 772.2 200.4 772.7 200.8 773.2 201.2 773.7 201.7 774.2 202.3 774.7 202.9 775.2 203.5 775.7 204.1 776.2 204.8 776.7 205.4 777.2 206.0 777.7 206.6 778.2 207.1 778.7 207.5 779.2 207.9 779.7 208.1 780.2 208.3 780.7 208.4 781.2 208.5 781.7 208.4 782.2 208.3 782.7 208.1 783.2 207.8 783.7 207.5 784.2 207.2 784.7 206.9 785.2 206.5 785.7 206.2 786.2 205.9 786.7 205.7 787.2 205.5 787.7 205.3 788.2 205.3 788.7 205.3 789.2 205.4 789.7 205.6 790.2 205.8 790.7 206.1 791.2 206.5 791.7 207.0 792.2 207.5 792.7 208.1 793.2 208.6 793.7 209.2 794.2 209.8 794.7 210.4 795.2 210.9 795.7 211.4 796.2 211.8 796.7 212.2 797.2 212.4 797.7 212.6 798.2 212.8 798.7 212.8 799.2 212.8 799.7 212.6 800.2 212.5 800.7 212.2 801.2 211.9 801.7 211.6 802.2 211.3 802.7 210.9 803.2 210.6 803.7 210.3 804.2 210.0 804.7 209.8 805.2 209.7 805.7 209.6 806.2 209.6 806.7 209.6 807.2 209.8 807.7 210.0 808.2 210.4 808.7 210.7 809.2 211.2 809.7 211.7 810.2 212.3 810.7 212.9 811.2 213.5 811.7 214.1 812.2 214.7 812.7 215.3 813.2 215.8 813.7 216.3 814.2 216.7 814.7 217.1 815.2 217.4 815.7 217.6 816.2 217.7 816.7 217.7 817.2 217.7 817.7 217.5 818.2 217.3 818.7 217.1 819.2 216.8 819.7 216.4 820.2 216.1 820.7 215.7 821.2 215.4 821.7 215.1 822.2 214.8 822.7 214.6 823.2 214.4 823.7 214.3 824.2 214.3 824.7 214.3 825.2 214.5 825.7 214.7 826.2 215.0 826.7 215.4 827.2 215.8 827.7 216.3 828.2 216.8 828.7 217.3 829.2 217.9 829.7 218.4 830.2 218.9 830.7 219.4 831.2 219.9 831.7 220.3 832.2 220.6 832.7 220.9 833.2 221.1 833.7 221.2 834.2 221.2 834.7 221.2 835.2 221.1 835.7 220.9 836.2 220.6 836.7 220.3 837.2 220.0 837.7 219.6 838.2 219.2 838.7 218.9 839.2 218.5 839.7 218.2 840.2 217.9 840.7 217.7"/>
<path fill="none" stroke="#b050b0" stroke-width="1.60" stroke-linejoin="round" d="M537.2 245.6 537.7 245.4 538.2 245.3 538.7 245.2 539.2 245.2 539.7 245.2 540.2 245.2 540.7 245.3 541.2 245.4 541.7 245.6 542.2 245.8 542.7 246.0 543.2 246.3 543.7 246.6 544.2 246.9 544.7 247.2 545.2 247.4 545.7 247.7 546.2 248.0 546.7 248.2 547.2 248.4 547.7 248.5 548.2 248.6 548.7 248.6 549.2 248.6 549.7 248.5 550.2 248.4 550.7 248.2 551.2 248.0 551.7 247.8 552.2 247.5 552.7 247.2 553.2 246.8 553.7 246.5 554.2 246.1 554.7 245.8 555.2 245.5 555.7 245.2 556.2 244.9 556.7 244.7 557.2 244.5 557.7 244.3 558.2 244.2 558.7 244.2 559.2 244.2 559.7 244.2 560.2 244.3 560.7 244.4 561.2 244.5 561.7 244.6 562.2 244.7 562.7 244.9 563.2 245.0 563.7 245.1 564.2 245.2 564.7 245.2 565.2 245.2 565.7 245.2 566.2 245.1 566.7 245.0 567.2 244.8 567.7 244.6 568.2 244.3 568.7 244.0 569.2 243.7 569.7 243.3 570.2 242.9 570.7 242.5 571.2 242.1 571.7 241.7 572.2 241.3 572.7 241.0 573.2 240.6 573.7 240.3 574.2 240.1 574.7 239.8 575.2 239.7 575.7 239.5 576.2 239.5 576.7 239.4 577.2 239.5 577.7 239.5 578.2 239.6 578.7 239.8 579.2 239.9 579.7 240.1 580.2 240.2 580.7 240.4 581.2 240.5 581.7 240.7 582.2 240.8 582.7 240.8 583.2 240.8 583.7 240.8 584.2 240.7 584.7 240.6 585.2 240.4 585.7 240.2 586.2 239.9 586.7 239.6 587.2 239.2 587.7 238.8 588.2 238.4 588.7 238.0 589.2 237.5 589.7 237.1 590.2 236.7 590.7 236.3 591.2 235.9 591.7 235.6 592.2 235.3 592.7 235.1 593.2 234.9 593.7 234.7 594.2 234.6 594.7 234.5 595.2 234.5 595.7 234.5 596.2 234.6 596.7 234.7 597.2 234.8 597.7 234.9 598.2 235.0 598.7 235.1 599.2 235.1 599.7 235.2 600.2 235.2 600.7 235.2 601.2 235.1 601.7 235.0 602.2 234.8 602.7 234.6 603.2 234.4 603.7 234.1 604.2 233.7 604.7 233.3 605.2 232.9 605.7 232.5 606.2 232.0 606.7 231.5 607.2 231.1 607.7 230.6 608.2 230.2 608.7 229.8 609.2 229.5 609.7 229.1 610.2 228.9 610.7 228.7 611.2 228.5 611.7 228.4 612.2 228.4 612.7 228.4 613.2 228.4 613.7 228.5 614.2 228.6 614.7 228.8 615.2 228.9 615.7 229.1 616.2 229.3 616.7 229.4 617.2 229.6 617.7 229.7 618.2 229.7 618.7 229.8 619.2 229.8 619.7 229.7 620.2 229.6 620.7 229.4 621.2 229.2 621.7 229.0 622.2 228.7 622.7 228.3 623.2 227.9 623.7 227.5 624.2 227.1 624.7 226.7 625.2 226.2 625.7 225.8 626.2 225.4 626.7 225.1 627.2 224.7 627.7 224.4 628.2 224.2 628.7 223.9 629.2 223.8 629.7 223.7 630.2 223.6 630.7 223.5 631.2 223.5 631.7 223.6 632.2 223.6 632.7 223.7 633.2 223.7 633.7 223.8 634.2 223.9 634.7 223.9 635.2 223.9 635.7 223.9 636.2 223.8 636.7 223.7 637.2 223.5 637.7 223.3 638.2 223.0 638.7 222.7 639.2 222.3 639.7 221.8 640.2 221.4 640.7 220.9 641.2 220.3 641.7 219.7 642.2 219.2 642.7 218.6 643.2 218.0 643.7 217.4 644.2 216.9 644.7 216.4 645.2 215.9 645.7 215.5 646.2 215.1 646.7 214.8 647.2 214.5 647.7 214.3 648.2 214.1 648.7 214.0 649.2 213.9 649.7 213.8 650.2 213.7 650.7 213.7 651.2 213.6 651.7 213.6 652.2 213.5 652.7 213.4 653.2 213.3 653.7 213.1 654.2 212.9 654.7 212.7 655.2 212.4 655.7 212.0 656.2 211.5 656.7 211.0 657.2 210.5 657.7 209.9 658.2 209.2 658.7 208.5 659.2 207.8 659.7 207.0 660.2 206.2 660.7 205.4 661.2 204.6 661.7 203.7 662.2 202.9 662.7 202.1 663.2 201.3 663.7 200.6 664.2 199.9 664.7 199.3 665.2 198.7 665.7 198.1 666.2 197.6 666.7 197.2 667.2 196.8 667.7 196.4 668.2 196.1 668.7 195.8 669.2 195.5 669.7 195.3 670.2 195.0 670.7 194.8 671.2 194.5 671.7 194.2 672.2 193.8 672.7 193.4 673.2 193.0 673.7 192.5 674.2 191.9 674.7 191.3 675.2 190.6 675.7 189.8 676.2 189.0 676.7 188.2 677.2 187.2 677.7 186.3 678.2 185.3 678.7 184.2 679.2 183.1 679.7 181.9 680.2 180.7 680.7 179.5 681.2 178.4 681.7 177.2 682.2 176.1 682.7 175.1 683.2 174.1 683.7 173.2 684.2 172.3 684.7 171.5 685.2 170.8 685.7 170.1 686.2 169.6 686.7 169.1 687.2 168.6 687.7 168.3 688.2 168.0 688.7 167.7 689.2 167.4 689.7 167.0 690.2 166.6 690.7 166.2 691.2 165.7 691.7 165.1 692.2 164.6 692.7 164.0 693.2 163.4 693.7 162.8 694.2 162.2 694.7 161.6 695.2 161.0 695.7 160.5 696.2 160.0 696.7 159.6 697.2 159.2 697.7 159.0 698.2 158.8 698.7 158.8 699.2 158.9 699.7 159.2 700.2 159.5 700.7 160.0 701.2 160.5 701.7 161.2 702.2 161.9 702.7 162.7 703.2 163.6 703.7 164.5 704.2 165.5 704.7 166.4 705.2 167.4 705.7 168.4 706.2 169.4 706.7 170.3 707.2 171.2 707.7 172.1 708.2 173.0 708.7 173.9 709.2 174.9 709.7 175.8 710.2 176.8 710.7 177.7 711.2 178.6 711.7 179.5 712.2 180.4 712.7 181.2 713.2 182.0 713.7 182.8 714.2 183.6 714.7 184.3 715.2 185.0 715.7 185.7 716.2 186.5 716.7 187.3 717.2 188.2 717.7 189.1 718.2 190.0 718.7 191.0 719.2 192.1 719.7 193.1 720.2 194.2 720.7 195.4 721.2 196.5 721.7 197.6 722.2 198.7 722.7 199.7 723.2 200.7 723.7 201.7 724.2 202.6 724.7 203.4 725.2 204.2 725.7 205.0 726.2 205.6 726.7 206.2 727.2 206.8 727.7 207.3 728.2 207.7 728.7 208.0 729.2 208.3 729.7 208.6 730.2 208.8 730.7 208.9 731.2 209.1 731.7 209.2 732.2 209.3 732.7 209.5 733.2 209.6 733.7 209.8 734.2 210.0 734.7 210.2 735.2 210.4 735.7 210.7 736.2 211.1 736.7 211.4 737.2 211.8 737.7 212.3 738.2 212.8 738.7 213.3 739.2 213.8 739.7 214.4 740.2 215.0 740.7 215.5 741.2 216.1 741.7 216.6 742.2 217.1 742.7 217.6 743.2 218.0 743.7 218.5 744.2 218.8 744.7 219.1 745.2 219.4 745.7 219.7 746.2 219.9 746.7 220.1 747.2 220.2 747.7 220.3 748.2 220.5 748.7 220.6 749.2 220.6 749.7 220.7 750.2 220.9 750.7 221.0 751.2 221.1 751.7 221.3 752.2 221.5 752.7 221.8 753.2 222.1 753.7 222.4 754.2 222.8 754.7 223.2 755.2 223.7 755.7 224.2 756.2 224.7 756.7 225.2 757.2 225.8 757.7 226.4 758.2 226.9 758.7 227.5 759.2 228.1 759.7 228.6 760.2 229.1 760.7 229.5 761.2 229.9 761.7 230.2 762.2 230.5 762.7 230.8 763.2 230.9 763.7 231.0 764.2 231.1 764.7 231.1 765.2 231.1 765.7 231.0 766.2 231.0 766.7 230.9 767.2 230.7 767.7 230.6 768.2 230.5 768.7 230.5 769.2 230.4 769.7 230.4 770.2 230.4 770.7 230.5 771.2 230.7 771.7 230.8 772.2 231.1 772.7 231.3 773.2 231.7 773.7 232.0 774.2 232.4 774.7 232.9 775.2 233.3 775.7 233.8 776.2 234.2 776.7 234.6 777.2 235.1 777.7 235.5 778.2 235.8 778.7 236.1 779.2 236.4 779.7 236.6 780.2 236.7 780.7 236.8 781.2 236.9 781.7 236.9 782.2 236.8 782.7 236.7 783.2 236.6 783.7 236.4 784.2 236.3 784.7 236.1 785.2 235.9 785.7 235.7 786.2 235.6 786.7 235.5 787.2 235.4 787.7 235.3 788.2 235.3 788.7 235.4 789.2 235.5 789.7 235.7 790.2 235.9 790.7 236.2 791.2 236.5 791.7 236.9 792.2 237.3 792.7 237.7 793.2 238.2 793.7 238.6 794.2 239.1 794.7 239.5 795.2 239.9 795.7 240.3 796.2 240.7 796.7 241.0 797.2 241.2 797.7 241.4 798.2 241.6 798.7 241.7 799.2 241.7 799.7 241.7 800.2 241.7 800.7 241.6 801.2 241.4 801.7 241.3 802.2 241.1 802.7 240.9 803.2 240.8 803.7 240.6 804.2 240.5 804.7 240.4 805.2 240.3 805.7 240.3 806.2 240.3 806.7 240.4 807.2 240.5 807.7 240.7 808.2 241.0 808.7 241.2 809.2 241.6 809.7 242.0 810.2 242.4 810.7 242.8 811.2 243.2 811.7 243.7 812.2 244.1 812.7 244.5 813.2 244.9 813.7 245.3 814.2 245.6 814.7 245.9 815.2 246.1 815.7 246.3 816.2 246.4 816.7 246.5 817.2 246.5 817.7 246.4 818.2 246.3 818.7 246.2 819.2 246.0 819.7 245.8 820.2 245.6 820.7 245.4 821.2 245.2 821.7 245.0 822.2 244.9 822.7 244.7 823.2 244.6 823.7 244.6 824.2 244.6 824.7 244.7 825.2 244.8 825.7 244.9 826.2 245.1 826.7 245.4 827.2 245.7 827.7 246.0 828.2 246.4 828.7 246.8 829.2 247.2 829.7 247.6 830.2 247.9 830.7 248.3 831.2 248.6 831.7 248.9 832.2 249.1 832.7 249.3 833.2 249.4 833.7 249.5 834.2 249.5 834.7 249.5 835.2 249.4 835.7 249.3 836.2 249.1 836.7 248.9 837.2 248.6 837.7 248.4 838.2 248.1 838.7 247.8 839.2 247.6 839.7 247.4 840.2 247.1 840.7 247.0"/>
<path fill="none" stroke="#50b050" stroke-width="1.60" stroke-linejoin="round" d="M537.2 286.0 537.7 286.0 538.2 286.0 538.7 285.8 539.2 285.5 539.7 285.2 540.2 284.7 540.7 284.2 541.2 283.6 541.7 283.0 542.2 282.3 542.7 281.6 543.2 281.0 543.7 280.3 544.2 279.7 544.7 279.2 545.2 278.7 545.7 278.4 546.2 278.1 546.7 277.9 547.2 277.8 547.7 277.8 548.2 277.9 548.7 278.1 549.2 278.4 549.7 278.8 550.2 279.2 550.7 279.6 551.2 280.1 551.7 280.5 552.2 280.9 552.7 281.3 553.2 281.7 553.7 282.0 554.2 282.2 554.7 282.3 555.2 282.3 555.7 282.2 556.2 282.0 556.7 281.7 557.2 281.3 557.7 280.9 558.2 280.3 558.7 279.7 559.2 279.1 559.7 278.4 560.2 277.7 560.7 277.0 561.2 276.4 561.7 275.7 562.2 275.2 562.7 274.7 563.2 274.3 563.7 274.0 564.2 273.8 564.7 273.6 565.2 273.6 565.7 273.7 566.2 273.9 566.7 274.1 567.2 274.4 567.7 274.8 568.2 275.2 568.7 275.6 569.2 276.1 569.7 276.5 570.2 276.8 570.7 277.1 571.2 277.4 571.7 277.6 572.2 277.6 572.7 277.6 573.2 277.5 573.7 277.3 574.2 277.0 574.7 276.5 575.2 276.0 575.7 275.5 576.2 274.8 576.7 274.2 577.2 273.5 577.7 272.7 578.2 272.0 578.7 271.3 579.2 270.7 579.7 270.1 580.2 269.6 580.7 269.2 581.2 268.9 581.7 268.6 582.2 268.5 582.7 268.4 583.2 268.5 583.7 268.7 584.2 268.9 584.7 269.2 585.2 269.5 585.7 269.9 586.2 270.3 586.7 270.7 587.2 271.1 587.7 271.5 588.2 271.8 588.7 272.0 589.2 272.1 589.7 272.2 590.2 272.2 590.7 272.1 591.2 271.8 591.7 271.5 592.2 271.1 592.7 270.6 593.2 270.0 593.7 269.4 594.2 268.7 594.7 268.0 595.2 267.3 595.7 266.6 596.2 265.9 596.7 265.3 597.2 264.7 597.7 264.2 598.2 263.8 598.7 263.5 599.2 263.2 599.7 263.1 600.2 263.1 600.7 263.1 601.2 263.3 601.7 263.5 602.2 263.8 602.7 264.2 603.2 264.6 603.7 265.0 604.2 265.4 604.7 265.8 605.2 266.1 605.7 266.4 606.2 266.7 606.7 266.9 607.2 266.9 607.7 266.9 608.2 266.8 608.7 266.6 609.2 266.3 609.7 265.9 610.2 265.4 610.7 264.8 611.2 264.2 611.7 263.5 612.2 262.8 612.7 262.1 613.2 261.4 613.7 260.8 614.2 260.1 614.7 259.6 615.2 259.1 615.7 258.7 616.2 258.3 616.7 258.1 617.2 258.0 617.7 258.0 618.2 258.0 618.7 258.2 619.2 258.4 619.7 258.7 620.2 259.0 620.7 259.4 621.2 259.8 621.7 260.2 622.2 260.6 622.7 260.9 623.2 261.2 623.7 261.5 624.2 261.6 624.7 261.7 625.2 261.6 625.7 261.5 626.2 261.3 626.7 260.9 627.2 260.5 627.7 260.0 628.2 259.4 628.7 258.8 629.2 258.1 629.7 257.4 630.2 256.7 630.7 256.0 631.2 255.3 631.7 254.7 632.2 254.1 632.7 253.6 633.2 253.1 633.7 252.8 634.2 252.5 634.7 252.4 635.2 252.3 635.7 252.3 636.2 252.5 636.7 252.7 637.2 252.9 637.7 253.2 638.2 253.6 638.7 253.9 639.2 254.3 639.7 254.6 640.2 254.9 640.7 255.2 641.2 255.4 641.7 255.5 642.2 255.5 642.7 255.5 643.2 255.3 643.7 255.0 644.2 254.7 644.7 254.2 645.2 253.7 645.7 253.0 646.2 252.4 646.7 251.7 647.2 250.9 647.7 250.2 648.2 249.4 648.7 248.7 649.2 248.0 649.7 247.4 650.2 246.8 650.7 246.3 651.2 246.0 651.7 245.7 652.2 245.5 652.7 245.4 653.2 245.4 653.7 245.4 654.2 245.6 654.7 245.8 655.2 246.1 655.7 246.4 656.2 246.7 656.7 247.1 657.2 247.4 657.7 247.7 658.2 247.9 658.7 248.0 659.2 248.1 659.7 248.1 660.2 248.0 660.7 247.8 661.2 247.5 661.7 247.1 662.2 246.6 662.7 246.0 663.2 245.3 663.7 244.6 664.2 243.8 664.7 243.0 665.2 242.2 665.7 241.3 666.2 240.5 666.7 239.8 667.2 239.0 667.7 238.4 668.2 237.8 668.7 237.3 669.2 236.8 669.7 236.5 670.2 236.2 670.7 236.0 671.2 235.9 671.7 235.8 672.2 235.8 672.7 235.7 673.2 235.8 673.7 235.8 674.2 235.8 674.7 235.7 675.2 235.7 675.7 235.5 676.2 235.3 676.7 235.0 677.2 234.6 677.7 234.1 678.2 233.6 678.7 232.9 679.2 232.1 679.7 231.2 680.2 230.2 680.7 229.1 681.2 228.0 681.7 226.9 682.2 225.8 682.7 224.6 683.2 223.6 683.7 222.5 684.2 221.5 684.7 220.6 685.2 219.8 685.7 219.0 686.2 218.3 686.7 217.7 687.2 217.2 687.7 216.7 688.2 216.2 688.7 215.9 689.2 215.5 689.7 215.2 690.2 214.8 690.7 214.5 691.2 214.1 691.7 213.8 692.2 213.4 692.7 212.9 693.2 212.4 693.7 211.9 694.2 211.3 694.7 210.7 695.2 210.0 695.7 209.3 696.2 208.5 696.7 207.7 697.2 206.9 697.7 206.1 698.2 205.2 698.7 204.3 699.2 203.3 699.7 202.3 700.2 201.3 700.7 200.2 701.2 199.2 701.7 198.1 702.2 197.1 702.7 196.1 703.2 195.2 703.7 194.3 704.2 193.6 704.7 192.9 705.2 192.4 705.7 192.0 706.2 191.7 706.7 191.6 707.2 191.7 707.7 191.8 708.2 192.0 708.7 192.3 709.2 192.6 709.7 192.9 710.2 193.3 710.7 193.7 711.2 194.1 711.7 194.5 712.2 195.0 712.7 195.4 713.2 195.9 713.7 196.3 714.2 196.8 714.7 197.2 715.2 197.7 715.7 198.1 716.2 198.5 716.7 199.0 717.2 199.6 717.7 200.3 718.2 201.0 718.7 201.8 719.2 202.7 719.7 203.6 720.2 204.6 720.7 205.7 721.2 206.8 721.7 208.0 722.2 209.2 722.7 210.5 723.2 211.9 723.7 213.2 724.2 214.7 724.7 216.1 725.2 217.6 725.7 219.0 726.2 220.4 726.7 221.8 727.2 223.1 727.7 224.4 728.2 225.6 728.7 226.9 729.2 228.1 729.7 229.3 730.2 230.3 730.7 231.3 731.2 232.3 731.7 233.1 732.2 233.8 732.7 234.4 733.2 235.0 733.7 235.4 734.2 235.8 734.7 236.1 735.2 236.4 735.7 236.6 736.2 236.9 736.7 237.1 737.2 237.3 737.7 237.6 738.2 237.9 738.7 238.2 739.2 238.7 739.7 239.2 740.2 239.8 740.7 240.5 741.2 241.2 741.7 242.1 742.2 243.0 742.7 244.0 743.2 245.0 743.7 246.1 744.2 247.2 744.7 248.3 745.2 249.3 745.7 250.3 746.2 251.2 746.7 252.0 747.2 252.6 747.7 253.2 748.2 253.6 748.7 253.8 749.2 253.9 749.7 253.8 750.2 253.6 750.7 253.2 751.2 252.8 751.7 252.2 752.2 251.6 752.7 250.9 753.2 250.2 753.7 249.6 754.2 249.0 754.7 248.5 755.2 248.1 755.7 247.8 756.2 247.7 756.7 247.7 757.2 248.0 757.7 248.4 758.2 249.0 758.7 249.8 759.2 250.7 759.7 251.8 760.2 253.0 760.7 254.3 761.2 255.6 761.7 257.0 762.2 258.3 762.7 259.5 763.2 260.6 763.7 261.6 764.2 262.5 764.7 263.2 765.2 263.7 765.7 264.0 766.2 264.1 766.7 264.0 767.2 263.8 767.7 263.3 768.2 262.8 768.7 262.1 769.2 261.3 769.7 260.5 770.2 259.6 770.7 258.8 771.2 258.0 771.7 257.3 772.2 256.7 772.7 256.2 773.2 255.9 773.7 255.8 774.2 255.9 774.7 256.2 775.2 256.7 775.7 257.4 776.2 258.2 776.7 259.2 777.2 260.4 777.7 261.7 778.2 263.0 778.7 264.4 779.2 265.8 779.7 267.2 780.2 268.5 780.7 269.7 781.2 270.7 781.7 271.7 782.2 272.4 782.7 273.0 783.2 273.3 783.7 273.5 784.2 273.4 784.7 273.2 785.2 272.8 785.7 272.2 786.2 271.5 786.7 270.8 787.2 269.9 787.7 269.0 788.2 268.2 788.7 267.4 789.2 266.6 789.7 266.0 790.2 265.5 790.7 265.2 791.2 265.1 791.7 265.1 792.2 265.3 792.7 265.8 793.2 266.4 793.7 267.2 794.2 268.2 794.7 269.3 795.2 270.5 795.7 271.8 796.2 273.1 796.7 274.4 797.2 275.7 797.7 277.0 798.2 278.1 798.7 279.1 799.2 279.9 799.7 280.5 800.2 280.9 800.7 281.2 801.2 281.2 801.7 281.0 802.2 280.6 802.7 280.0 803.2 279.3 803.7 278.5 804.2 277.5 804.7 276.5 805.2 275.5 805.7 274.4 806.2 273.5 806.7 272.6 807.2 271.8 807.7 271.2 808.2 270.7 808.7 270.4 809.2 270.4 809.7 270.5 810.2 270.9 810.7 271.4 811.2 272.1 811.7 273.0 812.2 274.1 812.7 275.2 813.2 276.5 813.7 277.7 814.2 279.0 814.7 280.2 815.2 281.4 815.7 282.4 816.2 283.4 816.7 284.1 817.2 284.7 817.7 285.0 818.2 285.1 818.7 285.1 819.2 284.8 819.7 284.3 820.2 283.6 820.7 282.8 821.2 281.8 821.7 280.7 822.2 279.6 822.7 278.4 823.2 277.3 823.7 276.2 824.2 275.2 824.7 274.3 825.2 273.6 825.7 273.1 826.2 272.7 826.7 272.6 827.2 272.7 827.7 273.0 828.2 273.5 828.7 274.2 829.2 275.1 829.7 276.1 830.2 277.2 830.7 278.5 831.2 279.7 831.7 281.0 832.2 282.2 832.7 283.4 833.2 284.4 833.7 285.3 834.2 286.1 834.7 286.6 835.2 286.9 835.7 287.0 836.2 286.9 836.7 286.6 837.2 286.1 837.7 285.3 838.2 284.4 838.7 283.4 839.2 282.3 839.7 281.1 840.2 279.8 840.7 278.6"/>
<g font-family='"Liberation Sans", sans-serif' fill="#000">
<text x="541.0" y="351.5" font-size="14.5" text-anchor="middle" fill="#333">37,2</text>
<text x="645.7" y="351.5" font-size="14.5" text-anchor="middle" fill="#333">37,4</text>
<text x="750.4" y="351.5" font-size="14.5" text-anchor="middle" fill="#333">37,6</text>
<text x="647.8" y="379.5" font-size="14.5" fill="#333" textLength="98" lengthAdjust="spacingAndGlyphs">2<tspan font-family="Liberation Serif">&#952;</tspan> (degrees)</text>
<text transform="translate(514.0 266) rotate(-90)" font-size="14.5" fill="#333" textLength="118" lengthAdjust="spacingAndGlyphs">Intensity (A. U.)</text>
<text x="155.7" y="687.5" font-size="35.5" text-anchor="middle">36</text>
<text x="366.7" y="687.5" font-size="35.5" text-anchor="middle">38</text>
<text x="577.7" y="687.5" font-size="35.5" text-anchor="middle">40</text>
<text x="788.7" y="687.5" font-size="35.5" text-anchor="middle">42</text>
<text x="155.7" y="1453.3" font-size="35.5" text-anchor="middle">36</text>
<text x="366.7" y="1453.3" font-size="35.5" text-anchor="middle">38</text>
<text x="577.7" y="1453.3" font-size="35.5" text-anchor="middle">40</text>
<text x="788.7" y="1453.3" font-size="35.5" text-anchor="middle">42</text>
<text x="359.5" y="751.0" font-size="40.0" textLength="229.0" lengthAdjust="spacingAndGlyphs">2<tspan font-family="Liberation Serif">&#952;</tspan> (degrees)</text>
<text x="360.0" y="1515.7" font-size="40.0" textLength="227.5" lengthAdjust="spacingAndGlyphs">2<tspan font-family="Liberation Serif">&#952;</tspan> (degrees)</text>
<text transform="translate(49.5 493.5) rotate(-90)" font-size="38.0" textLength="282.0" lengthAdjust="spacingAndGlyphs">Intensity (A. U.)</text>
<text transform="translate(49.6 1258.0) rotate(-90)" font-size="38.0" textLength="281.0" lengthAdjust="spacingAndGlyphs">Intensity (A. U.)</text>
<text transform="translate(36.2 64.8) scale(0.86 1)" font-size="49">a</text>
<text x="63.6" y="63.8" font-size="51">)</text>
<text transform="translate(35.4 830.2) scale(1.1 1)" font-size="48">b</text>
<text x="66.6" y="829.0" font-size="50">)</text>
<text x="157.3" y="192.6" font-size="45.5" text-anchor="start" textLength="82.5" lengthAdjust="spacingAndGlyphs">CrN</text>
<text x="157.2" y="258.7" font-size="45.5" textLength="113" lengthAdjust="spacingAndGlyphs"><tspan font-size="50">(</tspan>111<tspan font-size="50">)</tspan></text>
<text x="156.8" y="957.3" font-size="45.5" text-anchor="start" textLength="83.0" lengthAdjust="spacingAndGlyphs">CrN</text>
<text x="157.2" y="1021.4" font-size="45.5" textLength="113.5" lengthAdjust="spacingAndGlyphs"><tspan font-size="50">(</tspan>111<tspan font-size="50">)</tspan></text>
<text x="450.5" y="957.3" font-size="45.5">Cr<tspan font-size="30" dy="11">2</tspan><tspan dy="-11">N</tspan></text>
<text x="449.0" y="1021.4" font-size="45.5" textLength="139" lengthAdjust="spacingAndGlyphs"><tspan font-size="50">(</tspan>0002<tspan font-size="50">)</tspan></text>
<text x="851.5" y="494.7" font-size="47.0" text-anchor="start" textLength="142.0" lengthAdjust="spacingAndGlyphs">700 °C</text>
<text x="851.5" y="565.0" font-size="47.0" text-anchor="start" textLength="142.0" lengthAdjust="spacingAndGlyphs">650 °C</text>
<text x="851.5" y="634.4" font-size="47.0" text-anchor="start" textLength="142.0" lengthAdjust="spacingAndGlyphs">600 °C</text>
<text x="851.5" y="1133.0" font-size="47.0" text-anchor="start" textLength="142.0" lengthAdjust="spacingAndGlyphs">700 °C</text>
<text x="851.5" y="1272.0" font-size="47.0" text-anchor="start" textLength="142.0" lengthAdjust="spacingAndGlyphs">650 °C</text>
<text x="851.5" y="1400.1" font-size="47.0" text-anchor="start" textLength="142.0" lengthAdjust="spacingAndGlyphs">600 °C</text>
<text x="530.5" y="418.2" font-size="30.0" text-anchor="start" textLength="127.5" lengthAdjust="spacingAndGlyphs">sapphire</text>
<path d="M664.5 407.5H725" stroke="#000" stroke-width="3.2"/>
<path d="M722 400.5L741.5 407.5L722 414.5Z" fill="#000"/>
<text transform="translate(804.5 1071.0) rotate(-90)" font-size="43.0" textLength="193" lengthAdjust="spacingAndGlyphs">sapphire</text>
</g>
</svg>
</body></html>
